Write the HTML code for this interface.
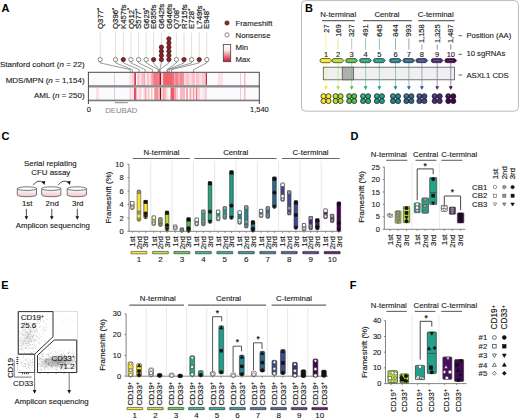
<!DOCTYPE html>
<html><head><meta charset="utf-8"><title>ASXL1 figure</title>
<style>
html,body{margin:0;padding:0;background:#fff;}
body{width:520px;height:420px;overflow:hidden;}
svg{display:block;}
svg text{font-family:"Liberation Sans", sans-serif;}
</style></head>
<body>
<svg width="520" height="420" viewBox="0 0 520 420" font-family="Liberation Sans, sans-serif">
<rect x="0" y="0" width="520" height="420" fill="#ffffff"/>
<text x="1.60" y="11.60" font-size="11" text-anchor="start" fill="#000" font-weight="bold" >A</text>
<line x1="100.20" y1="32.60" x2="100.20" y2="57.45" stroke="#c9c9c9" stroke-width="0.6" />
<line x1="115.60" y1="32.60" x2="115.60" y2="57.45" stroke="#c9c9c9" stroke-width="0.6" />
<line x1="123.30" y1="32.60" x2="123.30" y2="57.45" stroke="#c9c9c9" stroke-width="0.6" />
<line x1="130.90" y1="32.60" x2="130.90" y2="57.45" stroke="#c9c9c9" stroke-width="0.6" />
<line x1="138.60" y1="32.60" x2="138.60" y2="57.45" stroke="#c9c9c9" stroke-width="0.6" />
<line x1="146.10" y1="32.60" x2="146.10" y2="57.45" stroke="#c9c9c9" stroke-width="0.6" />
<line x1="153.60" y1="32.60" x2="153.60" y2="57.45" stroke="#c9c9c9" stroke-width="0.6" />
<line x1="161.40" y1="32.60" x2="161.40" y2="45.00" stroke="#c9c9c9" stroke-width="0.6" />
<line x1="168.90" y1="32.60" x2="168.90" y2="36.70" stroke="#c9c9c9" stroke-width="0.6" />
<line x1="176.40" y1="32.60" x2="176.40" y2="57.45" stroke="#c9c9c9" stroke-width="0.6" />
<line x1="184.00" y1="32.60" x2="184.00" y2="57.45" stroke="#c9c9c9" stroke-width="0.6" />
<line x1="191.60" y1="32.60" x2="191.60" y2="57.45" stroke="#c9c9c9" stroke-width="0.6" />
<line x1="199.20" y1="32.60" x2="199.20" y2="57.45" stroke="#c9c9c9" stroke-width="0.6" />
<line x1="206.80" y1="32.60" x2="206.80" y2="57.45" stroke="#c9c9c9" stroke-width="0.6" />
<path d="M100.20,61.75L100.20,62.95L130.24,69.60L130.24,72.30" fill="none" stroke="#555" stroke-width="0.6"/>
<path d="M115.60,61.75L115.60,62.95L132.35,69.60L132.35,72.30" fill="none" stroke="#555" stroke-width="0.6"/>
<path d="M123.30,61.75L123.30,62.95L139.12,69.60L139.12,72.30" fill="none" stroke="#555" stroke-width="0.6"/>
<path d="M130.90,61.75L130.90,62.95L145.22,69.60L145.22,72.30" fill="none" stroke="#555" stroke-width="0.6"/>
<path d="M138.60,61.75L138.60,62.95L152.43,69.60L152.43,72.30" fill="none" stroke="#555" stroke-width="0.6"/>
<path d="M146.10,61.75L146.10,62.95L158.20,69.60L158.20,72.30" fill="none" stroke="#555" stroke-width="0.6"/>
<path d="M153.60,61.75L153.60,62.95L158.87,69.60L158.87,72.30" fill="none" stroke="#555" stroke-width="0.6"/>
<path d="M161.40,61.75L161.40,62.95L159.65,69.60L159.65,72.30" fill="none" stroke="#555" stroke-width="0.6"/>
<path d="M168.90,61.75L168.90,62.95L160.09,69.60L160.09,72.30" fill="none" stroke="#555" stroke-width="0.6"/>
<path d="M176.40,61.75L176.40,62.95L166.97,69.60L166.97,72.30" fill="none" stroke="#555" stroke-width="0.6"/>
<path d="M184.00,61.75L184.00,62.95L167.75,69.60L167.75,72.30" fill="none" stroke="#555" stroke-width="0.6"/>
<path d="M191.60,61.75L191.60,62.95L169.19,69.60L169.19,72.30" fill="none" stroke="#555" stroke-width="0.6"/>
<path d="M199.20,61.75L199.20,62.95L171.52,69.60L171.52,72.30" fill="none" stroke="#555" stroke-width="0.6"/>
<path d="M206.80,61.75L206.80,62.95L193.60,69.60L193.60,72.30" fill="none" stroke="#555" stroke-width="0.6"/>
<text transform="translate(102.89,29.00) rotate(-90)" font-size="7.8" text-anchor="start" fill="#1a1a1a" stroke="#1a1a1a" stroke-width="0.2">Q377<tspan font-size="5.5" dy="-2.2">*</tspan></text>
<text transform="translate(118.29,29.00) rotate(-90)" font-size="7.8" text-anchor="start" fill="#1a1a1a" stroke="#1a1a1a" stroke-width="0.2">Q396<tspan font-size="5.5" dy="-2.2">*</tspan></text>
<text transform="translate(125.99,29.00) rotate(-90)" font-size="7.8" text-anchor="start" fill="#1a1a1a" stroke="#1a1a1a" stroke-width="0.2">K457fs</text>
<text transform="translate(133.59,29.00) rotate(-90)" font-size="7.8" text-anchor="start" fill="#1a1a1a" stroke="#1a1a1a" stroke-width="0.2">Q512<tspan font-size="5.5" dy="-2.2">*</tspan></text>
<text transform="translate(141.29,29.00) rotate(-90)" font-size="7.8" text-anchor="start" fill="#1a1a1a" stroke="#1a1a1a" stroke-width="0.2">S577<tspan font-size="5.5" dy="-2.2">*</tspan></text>
<text transform="translate(148.79,29.00) rotate(-90)" font-size="7.8" text-anchor="start" fill="#1a1a1a" stroke="#1a1a1a" stroke-width="0.2">G629<tspan font-size="5.5" dy="-2.2">*</tspan></text>
<text transform="translate(156.29,29.00) rotate(-90)" font-size="7.8" text-anchor="start" fill="#1a1a1a" stroke="#1a1a1a" stroke-width="0.2">E635fs</text>
<text transform="translate(164.09,29.00) rotate(-90)" font-size="7.8" text-anchor="start" fill="#1a1a1a" stroke="#1a1a1a" stroke-width="0.2">G642fs</text>
<text transform="translate(171.59,29.00) rotate(-90)" font-size="7.8" text-anchor="start" fill="#1a1a1a" stroke="#1a1a1a" stroke-width="0.2">G646fs</text>
<text transform="translate(179.09,29.00) rotate(-90)" font-size="7.8" text-anchor="start" fill="#1a1a1a" stroke="#1a1a1a" stroke-width="0.2">Q708<tspan font-size="5.5" dy="-2.2">*</tspan></text>
<text transform="translate(186.69,29.00) rotate(-90)" font-size="7.8" text-anchor="start" fill="#1a1a1a" stroke="#1a1a1a" stroke-width="0.2">R715fs</text>
<text transform="translate(194.29,29.00) rotate(-90)" font-size="7.8" text-anchor="start" fill="#1a1a1a" stroke="#1a1a1a" stroke-width="0.2">E728<tspan font-size="5.5" dy="-2.2">*</tspan></text>
<text transform="translate(201.89,29.00) rotate(-90)" font-size="7.8" text-anchor="start" fill="#1a1a1a" stroke="#1a1a1a" stroke-width="0.2">L749fs</text>
<text transform="translate(209.49,29.00) rotate(-90)" font-size="7.8" text-anchor="start" fill="#1a1a1a" stroke="#1a1a1a" stroke-width="0.2">E948<tspan font-size="5.5" dy="-2.2">*</tspan></text>
<circle cx="100.20" cy="59.60" r="2.15" fill="#ffffff" stroke="#555" stroke-width="0.7"/>
<circle cx="115.60" cy="59.60" r="2.15" fill="#ffffff" stroke="#555" stroke-width="0.7"/>
<circle cx="123.30" cy="59.60" r="2.15" fill="#8e2428" stroke="#3c0c0e" stroke-width="0.7"/>
<circle cx="130.90" cy="59.60" r="2.15" fill="#ffffff" stroke="#555" stroke-width="0.7"/>
<circle cx="138.60" cy="59.60" r="2.15" fill="#ffffff" stroke="#555" stroke-width="0.7"/>
<circle cx="146.10" cy="59.60" r="2.15" fill="#ffffff" stroke="#555" stroke-width="0.7"/>
<circle cx="153.60" cy="59.60" r="2.15" fill="#8e2428" stroke="#3c0c0e" stroke-width="0.7"/>
<circle cx="161.40" cy="59.60" r="2.15" fill="#8e2428" stroke="#3c0c0e" stroke-width="0.7"/>
<circle cx="161.40" cy="55.45" r="2.15" fill="#8e2428" stroke="#3c0c0e" stroke-width="0.7"/>
<circle cx="161.40" cy="51.30" r="2.15" fill="#8e2428" stroke="#3c0c0e" stroke-width="0.7"/>
<circle cx="161.40" cy="47.15" r="2.15" fill="#8e2428" stroke="#3c0c0e" stroke-width="0.7"/>
<circle cx="168.90" cy="59.60" r="2.15" fill="#8e2428" stroke="#3c0c0e" stroke-width="0.7"/>
<circle cx="168.90" cy="55.45" r="2.15" fill="#8e2428" stroke="#3c0c0e" stroke-width="0.7"/>
<circle cx="168.90" cy="51.30" r="2.15" fill="#8e2428" stroke="#3c0c0e" stroke-width="0.7"/>
<circle cx="168.90" cy="47.15" r="2.15" fill="#8e2428" stroke="#3c0c0e" stroke-width="0.7"/>
<circle cx="168.90" cy="43.00" r="2.15" fill="#8e2428" stroke="#3c0c0e" stroke-width="0.7"/>
<circle cx="168.90" cy="38.85" r="2.15" fill="#8e2428" stroke="#3c0c0e" stroke-width="0.7"/>
<circle cx="176.40" cy="59.60" r="2.15" fill="#ffffff" stroke="#555" stroke-width="0.7"/>
<circle cx="184.00" cy="59.60" r="2.15" fill="#8e2428" stroke="#3c0c0e" stroke-width="0.7"/>
<circle cx="191.60" cy="59.60" r="2.15" fill="#ffffff" stroke="#555" stroke-width="0.7"/>
<circle cx="199.20" cy="59.60" r="2.15" fill="#8e2428" stroke="#3c0c0e" stroke-width="0.7"/>
<circle cx="206.80" cy="59.60" r="2.15" fill="#ffffff" stroke="#555" stroke-width="0.7"/>
<rect x="88.40" y="72.30" width="170.90" height="28.10" fill="#fbfafd" stroke="none" stroke-width="1" rx="0" />
<rect x="114.00" y="72.80" width="0.90" height="12.40" fill="#cfcfdc" stroke="none" stroke-width="1" rx="0" />
<rect x="128.90" y="72.80" width="0.80" height="12.40" fill="#fde6ea" stroke="none" stroke-width="1" rx="0" />
<rect x="129.70" y="72.80" width="1.80" height="12.40" fill="#fce0e4" stroke="none" stroke-width="1" rx="0" />
<rect x="131.50" y="72.80" width="2.70" height="12.40" fill="#fad0d6" stroke="none" stroke-width="1" rx="0" />
<rect x="134.20" y="72.80" width="1.80" height="12.40" fill="#e0505e" stroke="none" stroke-width="1" rx="0" />
<rect x="134.90" y="72.80" width="0.60" height="12.40" fill="#b8303c" stroke="none" stroke-width="1" rx="0" />
<rect x="137.20" y="72.80" width="2.60" height="12.40" fill="#f9c0c8" stroke="none" stroke-width="1" rx="0" />
<rect x="139.80" y="72.80" width="1.50" height="12.40" fill="#fde4e8" stroke="none" stroke-width="1" rx="0" />
<rect x="141.30" y="72.80" width="2.50" height="12.40" fill="#f8b8c0" stroke="none" stroke-width="1" rx="0" />
<rect x="143.80" y="72.80" width="1.60" height="12.40" fill="#f5a8b2" stroke="none" stroke-width="1" rx="0" />
<rect x="145.40" y="72.80" width="1.60" height="12.40" fill="#fde8ec" stroke="none" stroke-width="1" rx="0" />
<rect x="147.00" y="72.80" width="2.00" height="12.40" fill="#f8c0c8" stroke="none" stroke-width="1" rx="0" />
<rect x="149.00" y="72.80" width="1.50" height="12.40" fill="#fde4e8" stroke="none" stroke-width="1" rx="0" />
<rect x="150.50" y="72.80" width="1.80" height="12.40" fill="#f7b0b8" stroke="none" stroke-width="1" rx="0" />
<rect x="152.30" y="72.80" width="1.70" height="12.40" fill="#f28890" stroke="none" stroke-width="1" rx="0" />
<rect x="154.00" y="72.80" width="4.50" height="12.40" fill="#f07880" stroke="none" stroke-width="1" rx="0" />
<rect x="158.50" y="72.80" width="1.50" height="12.40" fill="#e85a66" stroke="none" stroke-width="1" rx="0" />
<rect x="160.00" y="72.80" width="1.20" height="12.40" fill="#8a1a20" stroke="none" stroke-width="1" rx="0" />
<rect x="161.20" y="72.80" width="1.60" height="12.40" fill="#fcd0d6" stroke="none" stroke-width="1" rx="0" />
<rect x="162.80" y="72.80" width="1.20" height="12.40" fill="#f07a82" stroke="none" stroke-width="1" rx="0" />
<rect x="164.00" y="72.80" width="8.00" height="12.40" fill="#f2606a" stroke="none" stroke-width="1" rx="0" />
<rect x="172.00" y="72.80" width="2.50" height="12.40" fill="#f07078" stroke="none" stroke-width="1" rx="0" />
<rect x="174.50" y="72.80" width="1.50" height="12.40" fill="#f48a92" stroke="none" stroke-width="1" rx="0" />
<rect x="176.00" y="72.80" width="2.00" height="12.40" fill="#f28088" stroke="none" stroke-width="1" rx="0" />
<rect x="178.00" y="72.80" width="2.00" height="12.40" fill="#f5a0a8" stroke="none" stroke-width="1" rx="0" />
<rect x="180.00" y="72.80" width="2.00" height="12.40" fill="#f48890" stroke="none" stroke-width="1" rx="0" />
<rect x="182.00" y="72.80" width="2.00" height="12.40" fill="#f4909a" stroke="none" stroke-width="1" rx="0" />
<rect x="184.00" y="72.80" width="2.00" height="12.40" fill="#fcd8dc" stroke="none" stroke-width="1" rx="0" />
<rect x="186.00" y="72.80" width="3.00" height="12.40" fill="#fac4ca" stroke="none" stroke-width="1" rx="0" />
<rect x="189.00" y="72.80" width="2.50" height="12.40" fill="#fcd8dc" stroke="none" stroke-width="1" rx="0" />
<rect x="191.50" y="72.80" width="3.50" height="12.40" fill="#f9c0c8" stroke="none" stroke-width="1" rx="0" />
<rect x="195.00" y="72.80" width="1.00" height="12.40" fill="#fde8ea" stroke="none" stroke-width="1" rx="0" />
<rect x="196.00" y="72.80" width="3.50" height="12.40" fill="#f8c4ca" stroke="none" stroke-width="1" rx="0" />
<rect x="199.50" y="72.80" width="2.50" height="12.40" fill="#fcdce0" stroke="none" stroke-width="1" rx="0" />
<rect x="202.00" y="72.80" width="3.80" height="12.40" fill="#f9c6cc" stroke="none" stroke-width="1" rx="0" />
<rect x="205.80" y="72.80" width="1.20" height="12.40" fill="#b03040" stroke="none" stroke-width="1" rx="0" />
<rect x="218.00" y="72.80" width="5.00" height="12.40" fill="#fbe4e8" stroke="none" stroke-width="1" rx="0" />
<rect x="240.00" y="72.80" width="1.00" height="12.40" fill="#f3c8d0" stroke="none" stroke-width="1" rx="0" />
<rect x="244.00" y="72.80" width="1.50" height="12.40" fill="#f0c0c8" stroke="none" stroke-width="1" rx="0" />
<rect x="96.00" y="87.40" width="3.00" height="12.60" fill="#fbe2e6" stroke="none" stroke-width="1" rx="0" />
<rect x="114.00" y="87.40" width="0.90" height="12.60" fill="#cfcfdc" stroke="none" stroke-width="1" rx="0" />
<rect x="129.00" y="87.40" width="1.00" height="12.60" fill="#fdeaec" stroke="none" stroke-width="1" rx="0" />
<rect x="130.00" y="87.40" width="1.30" height="12.60" fill="#fbd4da" stroke="none" stroke-width="1" rx="0" />
<rect x="131.30" y="87.40" width="2.70" height="12.60" fill="#fde8ec" stroke="none" stroke-width="1" rx="0" />
<rect x="134.00" y="87.40" width="2.40" height="12.60" fill="#e8505e" stroke="none" stroke-width="1" rx="0" />
<rect x="137.50" y="87.40" width="2.00" height="12.60" fill="#fde4e8" stroke="none" stroke-width="1" rx="0" />
<rect x="139.50" y="87.40" width="2.00" height="12.60" fill="#fbd0d6" stroke="none" stroke-width="1" rx="0" />
<rect x="143.50" y="87.40" width="2.00" height="12.60" fill="#fad0d6" stroke="none" stroke-width="1" rx="0" />
<rect x="145.50" y="87.40" width="1.00" height="12.60" fill="#ee7a84" stroke="none" stroke-width="1" rx="0" />
<rect x="146.50" y="87.40" width="1.50" height="12.60" fill="#fde8ec" stroke="none" stroke-width="1" rx="0" />
<rect x="148.00" y="87.40" width="1.50" height="12.60" fill="#f9c4ca" stroke="none" stroke-width="1" rx="0" />
<rect x="151.00" y="87.40" width="1.50" height="12.60" fill="#f8c0c8" stroke="none" stroke-width="1" rx="0" />
<rect x="154.00" y="87.40" width="1.00" height="12.60" fill="#f8a8b0" stroke="none" stroke-width="1" rx="0" />
<rect x="155.00" y="87.40" width="3.50" height="12.60" fill="#f39098" stroke="none" stroke-width="1" rx="0" />
<rect x="158.50" y="87.40" width="1.50" height="12.60" fill="#f6a8b0" stroke="none" stroke-width="1" rx="0" />
<rect x="160.00" y="87.40" width="1.20" height="12.60" fill="#701018" stroke="none" stroke-width="1" rx="0" />
<rect x="161.20" y="87.40" width="1.80" height="12.60" fill="#fcd4da" stroke="none" stroke-width="1" rx="0" />
<rect x="163.00" y="87.40" width="1.50" height="12.60" fill="#f49aa2" stroke="none" stroke-width="1" rx="0" />
<rect x="164.50" y="87.40" width="2.00" height="12.60" fill="#f6b0b8" stroke="none" stroke-width="1" rx="0" />
<rect x="166.50" y="87.40" width="1.70" height="12.60" fill="#fde0e4" stroke="none" stroke-width="1" rx="0" />
<rect x="170.50" y="87.40" width="4.00" height="12.60" fill="#f05868" stroke="none" stroke-width="1" rx="0" />
<rect x="174.50" y="87.40" width="2.00" height="12.60" fill="#f49aa2" stroke="none" stroke-width="1" rx="0" />
<rect x="176.50" y="87.40" width="1.50" height="12.60" fill="#fbd0d6" stroke="none" stroke-width="1" rx="0" />
<rect x="180.00" y="87.40" width="2.00" height="12.60" fill="#f8b8c0" stroke="none" stroke-width="1" rx="0" />
<rect x="182.00" y="87.40" width="3.00" height="12.60" fill="#f8b8c0" stroke="none" stroke-width="1" rx="0" />
<rect x="186.00" y="87.40" width="2.00" height="12.60" fill="#f5a8b0" stroke="none" stroke-width="1" rx="0" />
<rect x="189.50" y="87.40" width="2.00" height="12.60" fill="#f6aab2" stroke="none" stroke-width="1" rx="0" />
<rect x="191.50" y="87.40" width="1.50" height="12.60" fill="#fde4e8" stroke="none" stroke-width="1" rx="0" />
<rect x="193.00" y="87.40" width="1.50" height="12.60" fill="#f49aa2" stroke="none" stroke-width="1" rx="0" />
<rect x="194.50" y="87.40" width="1.50" height="12.60" fill="#fde4e8" stroke="none" stroke-width="1" rx="0" />
<rect x="196.00" y="87.40" width="1.50" height="12.60" fill="#f07a84" stroke="none" stroke-width="1" rx="0" />
<rect x="197.50" y="87.40" width="2.50" height="12.60" fill="#fcd4d8" stroke="none" stroke-width="1" rx="0" />
<rect x="200.00" y="87.40" width="3.00" height="12.60" fill="#fdf0f2" stroke="none" stroke-width="1" rx="0" />
<rect x="203.00" y="87.40" width="2.00" height="12.60" fill="#f8e0ec" stroke="none" stroke-width="1" rx="0" />
<rect x="205.00" y="87.40" width="2.00" height="12.60" fill="#f4d0e0" stroke="none" stroke-width="1" rx="0" />
<rect x="240.00" y="87.40" width="1.00" height="12.60" fill="#f3c8d0" stroke="none" stroke-width="1" rx="0" />
<rect x="244.00" y="87.40" width="1.50" height="12.60" fill="#f0c0c8" stroke="none" stroke-width="1" rx="0" />
<rect x="88.40" y="85.10" width="170.90" height="2.40" fill="#8c8c8c" stroke="none" stroke-width="1" rx="0" />
<rect x="88.40" y="72.30" width="170.90" height="28.10" fill="none" stroke="#4a4a4a" stroke-width="1.0" rx="0" />
<line x1="88.40" y1="100.50" x2="259.30" y2="100.50" stroke="#7a7a7a" stroke-width="1.4" />
<line x1="88.40" y1="100.40" x2="88.40" y2="104.00" stroke="#333" stroke-width="0.9" />
<line x1="259.30" y1="100.40" x2="259.30" y2="104.00" stroke="#333" stroke-width="0.9" />
<line x1="114.60" y1="102.60" x2="127.80" y2="102.60" stroke="#a0a0a0" stroke-width="1.3" />
<text x="84.60" y="67.10" font-size="8" text-anchor="end" fill="#1a1a1a" stroke="#1a1a1a" stroke-width="0.12" >Stanford cohort (<tspan font-style="italic">n</tspan> = 22)</text>
<text x="84.60" y="82.70" font-size="8" text-anchor="end" fill="#1a1a1a" stroke="#1a1a1a" stroke-width="0.12" >MDS/MPN (<tspan font-style="italic">n</tspan> = 1,154)</text>
<text x="84.60" y="97.60" font-size="8" text-anchor="end" fill="#1a1a1a" stroke="#1a1a1a" stroke-width="0.12" >AML (<tspan font-style="italic">n</tspan> = 250)</text>
<text x="88.90" y="112.40" font-size="7.5" text-anchor="middle" fill="#1a1a1a" stroke="#1a1a1a" stroke-width="0.12" >0</text>
<text x="105.30" y="112.50" font-size="7.7" text-anchor="start" fill="#8a8a8a" stroke="#8a8a8a" stroke-width="0.05" >DEUBAD</text>
<text x="259.40" y="112.40" font-size="7.5" text-anchor="middle" fill="#1a1a1a" stroke="#1a1a1a" stroke-width="0.12" >1,540</text>
<circle cx="227.00" cy="23.00" r="2.10" fill="#8e2428" stroke="#3c0c0e" stroke-width="0.7"/>
<text x="235.50" y="25.90" font-size="7.8" text-anchor="start" fill="#1a1a1a" stroke="#1a1a1a" stroke-width="0.12" >Frameshift</text>
<circle cx="227.00" cy="34.90" r="2.10" fill="#fff" stroke="#555" stroke-width="0.7"/>
<text x="235.50" y="37.60" font-size="7.8" text-anchor="start" fill="#1a1a1a" stroke="#1a1a1a" stroke-width="0.12" >Nonsense</text>
<defs><linearGradient id="mm" x1="0" y1="0" x2="0" y2="1"><stop offset="0" stop-color="#ffffff"/><stop offset="0.35" stop-color="#fbe3e6"/><stop offset="1" stop-color="#d0102c"/></linearGradient></defs>
<rect x="223.30" y="44.50" width="7.40" height="17.20" fill="url(#mm)" stroke="#444" stroke-width="0.8" rx="0" />
<text x="235.50" y="50.40" font-size="7.8" text-anchor="start" fill="#1a1a1a" stroke="#1a1a1a" stroke-width="0.12" >Min</text>
<text x="235.50" y="61.80" font-size="7.8" text-anchor="start" fill="#1a1a1a" stroke="#1a1a1a" stroke-width="0.12" >Max</text>
<rect x="301.50" y="0.60" width="216.90" height="110.60" fill="none" stroke="#b4b4b4" stroke-width="0.9" rx="4" />
<text x="305.00" y="11.90" font-size="11" text-anchor="start" fill="#000" font-weight="bold" >B</text>
<text x="320.20" y="16.50" font-size="7.8" text-anchor="start" fill="#1a1a1a" stroke="#1a1a1a" stroke-width="0.12" >N-terminal</text>
<text x="374.40" y="16.50" font-size="7.8" text-anchor="start" fill="#1a1a1a" stroke="#1a1a1a" stroke-width="0.12" >Central</text>
<text x="417.70" y="16.50" font-size="7.8" text-anchor="start" fill="#1a1a1a" stroke="#1a1a1a" stroke-width="0.12" >C-terminal</text>
<line x1="322.00" y1="20.60" x2="354.80" y2="20.60" stroke="#666" stroke-width="1.2" />
<line x1="362.90" y1="20.60" x2="411.90" y2="20.60" stroke="#666" stroke-width="1.2" />
<line x1="418.30" y1="20.60" x2="454.60" y2="20.60" stroke="#666" stroke-width="1.2" />
<line x1="326.00" y1="34.14" x2="326.00" y2="49.60" stroke="#FDE725" stroke-width="0.8" stroke-opacity="0.7"/>
<line x1="326.00" y1="62.60" x2="326.00" y2="87.00" stroke="#FDE725" stroke-width="0.8" stroke-opacity="0.6"/>
<line x1="338.10" y1="38.31" x2="338.10" y2="49.60" stroke="#B4DE2C" stroke-width="0.8" stroke-opacity="0.7"/>
<line x1="338.10" y1="62.60" x2="338.10" y2="87.00" stroke="#B4DE2C" stroke-width="0.8" stroke-opacity="0.6"/>
<line x1="351.70" y1="38.31" x2="351.70" y2="49.60" stroke="#58BE4C" stroke-width="0.8" stroke-opacity="0.7"/>
<line x1="351.70" y1="62.60" x2="351.70" y2="87.00" stroke="#58BE4C" stroke-width="0.8" stroke-opacity="0.6"/>
<line x1="365.60" y1="38.31" x2="365.60" y2="49.60" stroke="#2CA67A" stroke-width="0.8" stroke-opacity="0.7"/>
<line x1="365.60" y1="62.60" x2="365.60" y2="87.00" stroke="#2CA67A" stroke-width="0.8" stroke-opacity="0.6"/>
<line x1="379.40" y1="38.31" x2="379.40" y2="49.60" stroke="#1F9E89" stroke-width="0.8" stroke-opacity="0.7"/>
<line x1="379.40" y1="62.60" x2="379.40" y2="87.00" stroke="#1F9E89" stroke-width="0.8" stroke-opacity="0.6"/>
<line x1="395.50" y1="38.31" x2="395.50" y2="49.60" stroke="#26828E" stroke-width="0.8" stroke-opacity="0.7"/>
<line x1="395.50" y1="62.60" x2="395.50" y2="87.00" stroke="#26828E" stroke-width="0.8" stroke-opacity="0.6"/>
<line x1="408.90" y1="38.31" x2="408.90" y2="49.60" stroke="#31688E" stroke-width="0.8" stroke-opacity="0.7"/>
<line x1="408.90" y1="62.60" x2="408.90" y2="87.00" stroke="#31688E" stroke-width="0.8" stroke-opacity="0.6"/>
<line x1="421.90" y1="44.56" x2="421.90" y2="49.60" stroke="#3E4A89" stroke-width="0.8" stroke-opacity="0.7"/>
<line x1="421.90" y1="62.60" x2="421.90" y2="87.00" stroke="#3E4A89" stroke-width="0.8" stroke-opacity="0.6"/>
<line x1="437.20" y1="44.56" x2="437.20" y2="49.60" stroke="#482878" stroke-width="0.8" stroke-opacity="0.7"/>
<line x1="437.20" y1="62.60" x2="437.20" y2="87.00" stroke="#482878" stroke-width="0.8" stroke-opacity="0.6"/>
<line x1="450.80" y1="44.56" x2="450.80" y2="49.60" stroke="#440154" stroke-width="0.8" stroke-opacity="0.7"/>
<line x1="450.80" y1="62.60" x2="450.80" y2="87.00" stroke="#440154" stroke-width="0.8" stroke-opacity="0.6"/>
<rect x="323.30" y="67.20" width="131.10" height="12.60" fill="#f0f0f0" stroke="#555" stroke-width="0.8" rx="0" />
<rect x="342.30" y="67.20" width="11.30" height="12.60" fill="#b0b0b0" stroke="#555" stroke-width="0.8" rx="0" />
<line x1="326.00" y1="67.60" x2="326.00" y2="79.40" stroke="#FDE725" stroke-width="0.8" stroke-opacity="0.55"/>
<text transform="translate(328.59,24.30) rotate(-90)" font-size="7.5" text-anchor="end" fill="#1a1a1a" stroke="#1a1a1a" stroke-width="0.15">27</text>
<text x="326.00" y="56.60" font-size="7.5" text-anchor="middle" fill="#1a1a1a" stroke="#1a1a1a" stroke-width="0.12" >1</text>
<path d="M322.10,58.5L329.90,58.5L331.90,60.60L329.90,62.7L322.10,62.7A2.1,2.1 0 0 1 322.10,58.5Z" fill="#FDE725" stroke="#2a2a2a" stroke-opacity="0.85" stroke-width="0.8"/>
<line x1="322.60" y1="60.60" x2="328.90" y2="60.60" stroke="#ffffff" stroke-width="0.7" stroke-opacity="0.45" stroke-dasharray="1,0.6"/>
<path d="M324.10,86.3L327.90,86.3L326.00,89.9Z" fill="#FDE725"/>
<circle cx="323.50" cy="96.20" r="2.55" fill="#FDE725" stroke="#1a1a1a" stroke-width="0.75"/>
<circle cx="328.50" cy="96.20" r="2.55" fill="#FDE725" stroke="#1a1a1a" stroke-width="0.75"/>
<circle cx="323.50" cy="101.00" r="2.55" fill="#FDE725" stroke="#1a1a1a" stroke-width="0.75"/>
<circle cx="328.50" cy="101.00" r="2.55" fill="#FDE725" stroke="#1a1a1a" stroke-width="0.75"/>
<circle cx="323.50" cy="95.60" r="0.9" fill="#fff" fill-opacity="0.25"/>
<line x1="338.10" y1="67.60" x2="338.10" y2="79.40" stroke="#B4DE2C" stroke-width="0.8" stroke-opacity="0.55"/>
<text transform="translate(340.69,24.30) rotate(-90)" font-size="7.5" text-anchor="end" fill="#1a1a1a" stroke="#1a1a1a" stroke-width="0.15">169</text>
<text x="338.10" y="56.60" font-size="7.5" text-anchor="middle" fill="#1a1a1a" stroke="#1a1a1a" stroke-width="0.12" >2</text>
<path d="M334.20,58.5L342.00,58.5L344.00,60.60L342.00,62.7L334.20,62.7A2.1,2.1 0 0 1 334.20,58.5Z" fill="#B4DE2C" stroke="#2a2a2a" stroke-opacity="0.85" stroke-width="0.8"/>
<line x1="334.70" y1="60.60" x2="341.00" y2="60.60" stroke="#ffffff" stroke-width="0.7" stroke-opacity="0.45" stroke-dasharray="1,0.6"/>
<path d="M336.20,86.3L340.00,86.3L338.10,89.9Z" fill="#B4DE2C"/>
<circle cx="335.60" cy="96.20" r="2.55" fill="#B4DE2C" stroke="#1a1a1a" stroke-width="0.75"/>
<circle cx="340.60" cy="96.20" r="2.55" fill="#B4DE2C" stroke="#1a1a1a" stroke-width="0.75"/>
<circle cx="335.60" cy="101.00" r="2.55" fill="#B4DE2C" stroke="#1a1a1a" stroke-width="0.75"/>
<circle cx="340.60" cy="101.00" r="2.55" fill="#B4DE2C" stroke="#1a1a1a" stroke-width="0.75"/>
<circle cx="335.60" cy="95.60" r="0.9" fill="#fff" fill-opacity="0.25"/>
<line x1="351.70" y1="67.60" x2="351.70" y2="79.40" stroke="#58BE4C" stroke-width="0.8" stroke-opacity="0.55"/>
<text transform="translate(354.29,24.30) rotate(-90)" font-size="7.5" text-anchor="end" fill="#1a1a1a" stroke="#1a1a1a" stroke-width="0.15">327</text>
<text x="351.70" y="56.60" font-size="7.5" text-anchor="middle" fill="#1a1a1a" stroke="#1a1a1a" stroke-width="0.12" >3</text>
<path d="M347.80,58.5L355.60,58.5L357.60,60.60L355.60,62.7L347.80,62.7A2.1,2.1 0 0 1 347.80,58.5Z" fill="#58BE4C" stroke="#2a2a2a" stroke-opacity="0.85" stroke-width="0.8"/>
<line x1="348.30" y1="60.60" x2="354.60" y2="60.60" stroke="#ffffff" stroke-width="0.7" stroke-opacity="0.45" stroke-dasharray="1,0.6"/>
<path d="M349.80,86.3L353.60,86.3L351.70,89.9Z" fill="#58BE4C"/>
<circle cx="349.20" cy="96.20" r="2.55" fill="#58BE4C" stroke="#1a1a1a" stroke-width="0.75"/>
<circle cx="354.20" cy="96.20" r="2.55" fill="#58BE4C" stroke="#1a1a1a" stroke-width="0.75"/>
<circle cx="349.20" cy="101.00" r="2.55" fill="#58BE4C" stroke="#1a1a1a" stroke-width="0.75"/>
<circle cx="354.20" cy="101.00" r="2.55" fill="#58BE4C" stroke="#1a1a1a" stroke-width="0.75"/>
<circle cx="349.20" cy="95.60" r="0.9" fill="#fff" fill-opacity="0.25"/>
<line x1="365.60" y1="67.60" x2="365.60" y2="79.40" stroke="#2CA67A" stroke-width="0.8" stroke-opacity="0.55"/>
<text transform="translate(368.19,24.30) rotate(-90)" font-size="7.5" text-anchor="end" fill="#1a1a1a" stroke="#1a1a1a" stroke-width="0.15">491</text>
<text x="365.60" y="56.60" font-size="7.5" text-anchor="middle" fill="#1a1a1a" stroke="#1a1a1a" stroke-width="0.12" >4</text>
<path d="M361.70,58.5L369.50,58.5L371.50,60.60L369.50,62.7L361.70,62.7A2.1,2.1 0 0 1 361.70,58.5Z" fill="#2CA67A" stroke="#2a2a2a" stroke-opacity="0.85" stroke-width="0.8"/>
<line x1="362.20" y1="60.60" x2="368.50" y2="60.60" stroke="#ffffff" stroke-width="0.7" stroke-opacity="0.45" stroke-dasharray="1,0.6"/>
<path d="M363.70,86.3L367.50,86.3L365.60,89.9Z" fill="#2CA67A"/>
<circle cx="363.10" cy="96.20" r="2.55" fill="#2CA67A" stroke="#1a1a1a" stroke-width="0.75"/>
<circle cx="368.10" cy="96.20" r="2.55" fill="#2CA67A" stroke="#1a1a1a" stroke-width="0.75"/>
<circle cx="363.10" cy="101.00" r="2.55" fill="#2CA67A" stroke="#1a1a1a" stroke-width="0.75"/>
<circle cx="368.10" cy="101.00" r="2.55" fill="#2CA67A" stroke="#1a1a1a" stroke-width="0.75"/>
<circle cx="363.10" cy="95.60" r="0.9" fill="#fff" fill-opacity="0.25"/>
<line x1="379.40" y1="67.60" x2="379.40" y2="79.40" stroke="#1F9E89" stroke-width="0.8" stroke-opacity="0.55"/>
<text transform="translate(381.99,24.30) rotate(-90)" font-size="7.5" text-anchor="end" fill="#1a1a1a" stroke="#1a1a1a" stroke-width="0.15">645</text>
<text x="379.40" y="56.60" font-size="7.5" text-anchor="middle" fill="#1a1a1a" stroke="#1a1a1a" stroke-width="0.12" >5</text>
<path d="M375.50,58.5L383.30,58.5L385.30,60.60L383.30,62.7L375.50,62.7A2.1,2.1 0 0 1 375.50,58.5Z" fill="#1F9E89" stroke="#2a2a2a" stroke-opacity="0.85" stroke-width="0.8"/>
<line x1="376.00" y1="60.60" x2="382.30" y2="60.60" stroke="#ffffff" stroke-width="0.7" stroke-opacity="0.45" stroke-dasharray="1,0.6"/>
<path d="M377.50,86.3L381.30,86.3L379.40,89.9Z" fill="#1F9E89"/>
<circle cx="376.90" cy="96.20" r="2.55" fill="#1F9E89" stroke="#1a1a1a" stroke-width="0.75"/>
<circle cx="381.90" cy="96.20" r="2.55" fill="#1F9E89" stroke="#1a1a1a" stroke-width="0.75"/>
<circle cx="376.90" cy="101.00" r="2.55" fill="#1F9E89" stroke="#1a1a1a" stroke-width="0.75"/>
<circle cx="381.90" cy="101.00" r="2.55" fill="#1F9E89" stroke="#1a1a1a" stroke-width="0.75"/>
<circle cx="376.90" cy="95.60" r="0.9" fill="#fff" fill-opacity="0.25"/>
<line x1="395.50" y1="67.60" x2="395.50" y2="79.40" stroke="#26828E" stroke-width="0.8" stroke-opacity="0.55"/>
<text transform="translate(398.09,24.30) rotate(-90)" font-size="7.5" text-anchor="end" fill="#1a1a1a" stroke="#1a1a1a" stroke-width="0.15">844</text>
<text x="395.50" y="56.60" font-size="7.5" text-anchor="middle" fill="#1a1a1a" stroke="#1a1a1a" stroke-width="0.12" >6</text>
<path d="M391.60,58.5L399.40,58.5L401.40,60.60L399.40,62.7L391.60,62.7A2.1,2.1 0 0 1 391.60,58.5Z" fill="#26828E" stroke="#2a2a2a" stroke-opacity="0.85" stroke-width="0.8"/>
<line x1="392.10" y1="60.60" x2="398.40" y2="60.60" stroke="#ffffff" stroke-width="0.7" stroke-opacity="0.45" stroke-dasharray="1,0.6"/>
<path d="M393.60,86.3L397.40,86.3L395.50,89.9Z" fill="#26828E"/>
<circle cx="393.00" cy="96.20" r="2.55" fill="#26828E" stroke="#1a1a1a" stroke-width="0.75"/>
<circle cx="398.00" cy="96.20" r="2.55" fill="#26828E" stroke="#1a1a1a" stroke-width="0.75"/>
<circle cx="393.00" cy="101.00" r="2.55" fill="#26828E" stroke="#1a1a1a" stroke-width="0.75"/>
<circle cx="398.00" cy="101.00" r="2.55" fill="#26828E" stroke="#1a1a1a" stroke-width="0.75"/>
<circle cx="393.00" cy="95.60" r="0.9" fill="#fff" fill-opacity="0.25"/>
<line x1="408.90" y1="67.60" x2="408.90" y2="79.40" stroke="#31688E" stroke-width="0.8" stroke-opacity="0.55"/>
<text transform="translate(411.49,24.30) rotate(-90)" font-size="7.5" text-anchor="end" fill="#1a1a1a" stroke="#1a1a1a" stroke-width="0.15">993</text>
<text x="408.90" y="56.60" font-size="7.5" text-anchor="middle" fill="#1a1a1a" stroke="#1a1a1a" stroke-width="0.12" >7</text>
<path d="M405.00,58.5L412.80,58.5L414.80,60.60L412.80,62.7L405.00,62.7A2.1,2.1 0 0 1 405.00,58.5Z" fill="#31688E" stroke="#2a2a2a" stroke-opacity="0.85" stroke-width="0.8"/>
<line x1="405.50" y1="60.60" x2="411.80" y2="60.60" stroke="#ffffff" stroke-width="0.7" stroke-opacity="0.45" stroke-dasharray="1,0.6"/>
<path d="M407.00,86.3L410.80,86.3L408.90,89.9Z" fill="#31688E"/>
<circle cx="406.40" cy="96.20" r="2.55" fill="#31688E" stroke="#1a1a1a" stroke-width="0.75"/>
<circle cx="411.40" cy="96.20" r="2.55" fill="#31688E" stroke="#1a1a1a" stroke-width="0.75"/>
<circle cx="406.40" cy="101.00" r="2.55" fill="#31688E" stroke="#1a1a1a" stroke-width="0.75"/>
<circle cx="411.40" cy="101.00" r="2.55" fill="#31688E" stroke="#1a1a1a" stroke-width="0.75"/>
<circle cx="406.40" cy="95.60" r="0.9" fill="#fff" fill-opacity="0.25"/>
<line x1="421.90" y1="67.60" x2="421.90" y2="79.40" stroke="#3E4A89" stroke-width="0.8" stroke-opacity="0.55"/>
<text transform="translate(424.49,24.30) rotate(-90)" font-size="7.5" text-anchor="end" fill="#1a1a1a" stroke="#1a1a1a" stroke-width="0.15">1,158</text>
<text x="421.90" y="56.60" font-size="7.5" text-anchor="middle" fill="#1a1a1a" stroke="#1a1a1a" stroke-width="0.12" >8</text>
<path d="M418.00,58.5L425.80,58.5L427.80,60.60L425.80,62.7L418.00,62.7A2.1,2.1 0 0 1 418.00,58.5Z" fill="#3E4A89" stroke="#2a2a2a" stroke-opacity="0.85" stroke-width="0.8"/>
<line x1="418.50" y1="60.60" x2="424.80" y2="60.60" stroke="#ffffff" stroke-width="0.7" stroke-opacity="0.45" stroke-dasharray="1,0.6"/>
<path d="M420.00,86.3L423.80,86.3L421.90,89.9Z" fill="#3E4A89"/>
<circle cx="419.40" cy="96.20" r="2.55" fill="#3E4A89" stroke="#1a1a1a" stroke-width="0.75"/>
<circle cx="424.40" cy="96.20" r="2.55" fill="#3E4A89" stroke="#1a1a1a" stroke-width="0.75"/>
<circle cx="419.40" cy="101.00" r="2.55" fill="#3E4A89" stroke="#1a1a1a" stroke-width="0.75"/>
<circle cx="424.40" cy="101.00" r="2.55" fill="#3E4A89" stroke="#1a1a1a" stroke-width="0.75"/>
<circle cx="419.40" cy="95.60" r="0.9" fill="#fff" fill-opacity="0.25"/>
<line x1="437.20" y1="67.60" x2="437.20" y2="79.40" stroke="#482878" stroke-width="0.8" stroke-opacity="0.55"/>
<text transform="translate(439.79,24.30) rotate(-90)" font-size="7.5" text-anchor="end" fill="#1a1a1a" stroke="#1a1a1a" stroke-width="0.15">1,325</text>
<text x="437.20" y="56.60" font-size="7.5" text-anchor="middle" fill="#1a1a1a" stroke="#1a1a1a" stroke-width="0.12" >9</text>
<path d="M433.30,58.5L441.10,58.5L443.10,60.60L441.10,62.7L433.30,62.7A2.1,2.1 0 0 1 433.30,58.5Z" fill="#482878" stroke="#2a2a2a" stroke-opacity="0.85" stroke-width="0.8"/>
<line x1="433.80" y1="60.60" x2="440.10" y2="60.60" stroke="#ffffff" stroke-width="0.7" stroke-opacity="0.45" stroke-dasharray="1,0.6"/>
<path d="M435.30,86.3L439.10,86.3L437.20,89.9Z" fill="#482878"/>
<circle cx="434.70" cy="96.20" r="2.55" fill="#482878" stroke="#1a1a1a" stroke-width="0.75"/>
<circle cx="439.70" cy="96.20" r="2.55" fill="#482878" stroke="#1a1a1a" stroke-width="0.75"/>
<circle cx="434.70" cy="101.00" r="2.55" fill="#482878" stroke="#1a1a1a" stroke-width="0.75"/>
<circle cx="439.70" cy="101.00" r="2.55" fill="#482878" stroke="#1a1a1a" stroke-width="0.75"/>
<circle cx="434.70" cy="95.60" r="0.9" fill="#fff" fill-opacity="0.25"/>
<line x1="450.80" y1="67.60" x2="450.80" y2="79.40" stroke="#440154" stroke-width="0.8" stroke-opacity="0.55"/>
<text transform="translate(453.39,24.30) rotate(-90)" font-size="7.5" text-anchor="end" fill="#1a1a1a" stroke="#1a1a1a" stroke-width="0.15">1,487</text>
<text x="450.80" y="56.60" font-size="7.5" text-anchor="middle" fill="#1a1a1a" stroke="#1a1a1a" stroke-width="0.12" >10</text>
<path d="M446.90,58.5L454.70,58.5L456.70,60.60L454.70,62.7L446.90,62.7A2.1,2.1 0 0 1 446.90,58.5Z" fill="#440154" stroke="#2a2a2a" stroke-opacity="0.85" stroke-width="0.8"/>
<line x1="447.40" y1="60.60" x2="453.70" y2="60.60" stroke="#ffffff" stroke-width="0.7" stroke-opacity="0.45" stroke-dasharray="1,0.6"/>
<path d="M448.90,86.3L452.70,86.3L450.80,89.9Z" fill="#440154"/>
<circle cx="448.30" cy="96.20" r="2.55" fill="#440154" stroke="#1a1a1a" stroke-width="0.75"/>
<circle cx="453.30" cy="96.20" r="2.55" fill="#440154" stroke="#1a1a1a" stroke-width="0.75"/>
<circle cx="448.30" cy="101.00" r="2.55" fill="#440154" stroke="#1a1a1a" stroke-width="0.75"/>
<circle cx="453.30" cy="101.00" r="2.55" fill="#440154" stroke="#1a1a1a" stroke-width="0.75"/>
<circle cx="448.30" cy="95.60" r="0.9" fill="#fff" fill-opacity="0.25"/>
<line x1="458.60" y1="35.70" x2="462.10" y2="35.70" stroke="#333" stroke-width="0.8" />
<text x="466.40" y="38.10" font-size="7.7" text-anchor="start" fill="#1a1a1a" stroke="#1a1a1a" stroke-width="0.12" >Position (AA)</text>
<line x1="458.60" y1="54.30" x2="462.10" y2="54.30" stroke="#333" stroke-width="0.8" />
<text x="466.40" y="55.90" font-size="7.7" text-anchor="start" fill="#1a1a1a" stroke="#1a1a1a" stroke-width="0.12" >10 sgRNAs</text>
<line x1="458.60" y1="75.00" x2="462.10" y2="75.00" stroke="#333" stroke-width="0.8" />
<text x="466.40" y="77.60" font-size="7.7" text-anchor="start" fill="#1a1a1a" stroke="#1a1a1a" stroke-width="0.12" >ASXL1 CDS</text>
<text x="1.60" y="140.20" font-size="11" text-anchor="start" fill="#000" font-weight="bold" >C</text>
<text x="50.40" y="165.70" font-size="7.9" text-anchor="middle" fill="#1a1a1a" stroke="#1a1a1a" stroke-width="0.12" >Serial replating</text>
<text x="50.80" y="174.50" font-size="7.9" text-anchor="middle" fill="#1a1a1a" stroke="#1a1a1a" stroke-width="0.12" >CFU assay</text>
<defs><linearGradient id="dish" x1="0" y1="0" x2="0" y2="1"><stop offset="0" stop-color="#ffffff"/><stop offset="0.3" stop-color="#fbeef0"/><stop offset="1" stop-color="#f1c6cc"/></linearGradient></defs>
<path d="M17.30,188.6L17.30,195.0A9.6,1.7 0 0 0 36.50,195.0L36.50,188.6Z" fill="url(#dish)" stroke="#555" stroke-width="0.8"/>
<ellipse cx="26.9" cy="188.6" rx="9.6" ry="1.8" fill="#fff" stroke="#555" stroke-width="0.8"/>
<path d="M41.70,188.6L41.70,195.0A9.6,1.7 0 0 0 60.90,195.0L60.90,188.6Z" fill="url(#dish)" stroke="#555" stroke-width="0.8"/>
<ellipse cx="51.3" cy="188.6" rx="9.6" ry="1.8" fill="#fff" stroke="#555" stroke-width="0.8"/>
<path d="M67.20,188.6L67.20,195.0A9.6,1.7 0 0 0 86.40,195.0L86.40,188.6Z" fill="url(#dish)" stroke="#555" stroke-width="0.8"/>
<ellipse cx="76.8" cy="188.6" rx="9.6" ry="1.8" fill="#fff" stroke="#555" stroke-width="0.8"/>
<path d="M33.20,185.2Q37.90,178.6 43.10,182.6" fill="none" stroke="#222" stroke-width="0.8"/>
<path d="M41.40,181.4L45.20,181.0L44.40,185.0Z" fill="#111"/>
<path d="M58.00,185.2Q63.00,178.6 68.50,182.6" fill="none" stroke="#222" stroke-width="0.8"/>
<path d="M66.80,181.4L70.60,181.0L69.80,185.0Z" fill="#111"/>
<text x="27.20" y="205.60" font-size="7.9" text-anchor="middle" fill="#1a1a1a" stroke="#1a1a1a" stroke-width="0.12" >1st</text>
<text x="52.20" y="205.60" font-size="7.9" text-anchor="middle" fill="#1a1a1a" stroke="#1a1a1a" stroke-width="0.12" >2nd</text>
<text x="77.80" y="205.60" font-size="7.9" text-anchor="middle" fill="#1a1a1a" stroke="#1a1a1a" stroke-width="0.12" >3rd</text>
<line x1="26.40" y1="208.80" x2="26.40" y2="217.00" stroke="#222" stroke-width="0.8" />
<path d="M24.60,216.2L28.20,216.2L26.40,219.8Z" fill="#111"/>
<line x1="51.80" y1="208.80" x2="51.80" y2="217.00" stroke="#222" stroke-width="0.8" />
<path d="M50.00,216.2L53.60,216.2L51.80,219.8Z" fill="#111"/>
<line x1="77.30" y1="208.80" x2="77.30" y2="217.00" stroke="#222" stroke-width="0.8" />
<path d="M75.50,216.2L79.10,216.2L77.30,219.8Z" fill="#111"/>
<text x="52.80" y="227.70" font-size="7.8" text-anchor="middle" fill="#1a1a1a" stroke="#1a1a1a" stroke-width="0.12" >Amplicon sequencing</text>
<line x1="129.00" y1="164.30" x2="129.00" y2="231.30" stroke="#666" stroke-width="0.8" />
<line x1="127.40" y1="231.30" x2="129.00" y2="231.30" stroke="#666" stroke-width="0.8" />
<text x="123.60" y="233.90" font-size="7.5" text-anchor="end" fill="#1a1a1a" stroke="#1a1a1a" stroke-width="0.12" >0</text>
<line x1="127.40" y1="217.90" x2="129.00" y2="217.90" stroke="#666" stroke-width="0.8" />
<text x="123.60" y="220.50" font-size="7.5" text-anchor="end" fill="#1a1a1a" stroke="#1a1a1a" stroke-width="0.12" >2</text>
<line x1="127.40" y1="204.50" x2="129.00" y2="204.50" stroke="#666" stroke-width="0.8" />
<text x="123.60" y="207.10" font-size="7.5" text-anchor="end" fill="#1a1a1a" stroke="#1a1a1a" stroke-width="0.12" >4</text>
<line x1="127.40" y1="191.10" x2="129.00" y2="191.10" stroke="#666" stroke-width="0.8" />
<text x="123.60" y="193.70" font-size="7.5" text-anchor="end" fill="#1a1a1a" stroke="#1a1a1a" stroke-width="0.12" >6</text>
<line x1="127.40" y1="177.70" x2="129.00" y2="177.70" stroke="#666" stroke-width="0.8" />
<text x="123.60" y="180.30" font-size="7.5" text-anchor="end" fill="#1a1a1a" stroke="#1a1a1a" stroke-width="0.12" >8</text>
<line x1="127.40" y1="164.30" x2="129.00" y2="164.30" stroke="#666" stroke-width="0.8" />
<text x="123.60" y="166.90" font-size="7.5" text-anchor="end" fill="#1a1a1a" stroke="#1a1a1a" stroke-width="0.12" >10</text>
<line x1="129.00" y1="231.30" x2="341.40" y2="231.30" stroke="#666" stroke-width="0.8" />
<line x1="150.80" y1="161.00" x2="150.80" y2="230.80" stroke="#dedede" stroke-width="0.7" />
<line x1="172.10" y1="161.00" x2="172.10" y2="230.80" stroke="#dedede" stroke-width="0.7" />
<line x1="193.40" y1="161.00" x2="193.40" y2="230.80" stroke="#dedede" stroke-width="0.7" />
<line x1="214.70" y1="161.00" x2="214.70" y2="230.80" stroke="#dedede" stroke-width="0.7" />
<line x1="236.00" y1="161.00" x2="236.00" y2="230.80" stroke="#dedede" stroke-width="0.7" />
<line x1="257.30" y1="161.00" x2="257.30" y2="230.80" stroke="#dedede" stroke-width="0.7" />
<line x1="278.60" y1="161.00" x2="278.60" y2="230.80" stroke="#dedede" stroke-width="0.7" />
<line x1="299.90" y1="161.00" x2="299.90" y2="230.80" stroke="#dedede" stroke-width="0.7" />
<line x1="321.20" y1="161.00" x2="321.20" y2="230.80" stroke="#dedede" stroke-width="0.7" />
<text transform="translate(111.35,197.60) rotate(-90)" font-size="7.9" text-anchor="middle" fill="#1a1a1a" stroke="#1a1a1a" stroke-width="0.15">Frameshift (%)</text>
<text x="161.50" y="154.50" font-size="7.8" text-anchor="middle" fill="#1a1a1a" stroke="#1a1a1a" stroke-width="0.12" >N-terminal</text>
<text x="235.70" y="154.50" font-size="7.8" text-anchor="middle" fill="#1a1a1a" stroke="#1a1a1a" stroke-width="0.12" >Central</text>
<text x="310.60" y="154.50" font-size="7.8" text-anchor="middle" fill="#1a1a1a" stroke="#1a1a1a" stroke-width="0.12" >C-terminal</text>
<line x1="132.70" y1="158.50" x2="189.90" y2="158.50" stroke="#666" stroke-width="1.2" />
<line x1="194.30" y1="158.50" x2="276.50" y2="158.50" stroke="#666" stroke-width="1.2" />
<line x1="281.90" y1="158.50" x2="339.60" y2="158.50" stroke="#666" stroke-width="1.2" />
<line x1="132.30" y1="231.30" x2="132.30" y2="232.90" stroke="#666" stroke-width="0.7" />
<rect x="130.50" y="201.60" width="3.60" height="7.90" fill="#FDE725" stroke="#444" stroke-width="0.6" rx="1.2" />
<rect x="130.69" y="201.68" width="3.23" height="3.23" fill="#ffffff" stroke="#555555" stroke-width="0.6" rx="0" />
<circle cx="132.30" cy="207.29" r="1.70" fill="#ffffff" stroke="#555555" stroke-width="0.6"/>
<path d="M130.60,206.44L134.00,206.44L132.30,209.50Z" fill="#ffffff" stroke="#555555" stroke-width="0.6"/>
<text transform="translate(135.03,236.20) rotate(-90)" font-size="7.9" text-anchor="end" fill="#1a1a1a" stroke="#1a1a1a" stroke-width="0.15">1st</text>
<line x1="138.95" y1="231.30" x2="138.95" y2="232.90" stroke="#666" stroke-width="0.7" />
<rect x="137.15" y="190.20" width="3.60" height="31.00" fill="#FDE725" stroke="#444" stroke-width="0.6" rx="1.2" />
<rect x="137.34" y="190.28" width="3.23" height="3.23" fill="#9a9a9a" stroke="#555555" stroke-width="0.6" rx="0" />
<circle cx="138.95" cy="212.52" r="1.70" fill="#9a9a9a" stroke="#555555" stroke-width="0.6"/>
<path d="M137.25,218.14L140.65,218.14L138.95,221.20Z" fill="#9a9a9a" stroke="#555555" stroke-width="0.6"/>
<text transform="translate(141.68,236.20) rotate(-90)" font-size="7.9" text-anchor="end" fill="#1a1a1a" stroke="#1a1a1a" stroke-width="0.15">2nd</text>
<line x1="145.60" y1="231.30" x2="145.60" y2="232.90" stroke="#666" stroke-width="0.7" />
<rect x="143.80" y="200.30" width="3.60" height="18.30" fill="#FDE725" stroke="#222" stroke-width="0.6" rx="1.2" />
<rect x="143.99" y="200.38" width="3.23" height="3.23" fill="#111111" stroke="#111111" stroke-width="0.6" rx="0" />
<circle cx="145.60" cy="213.48" r="1.70" fill="#111111" stroke="#111111" stroke-width="0.6"/>
<path d="M143.90,215.54L147.30,215.54L145.60,218.60Z" fill="#111111" stroke="#111111" stroke-width="0.6"/>
<text transform="translate(148.33,236.20) rotate(-90)" font-size="7.9" text-anchor="end" fill="#1a1a1a" stroke="#1a1a1a" stroke-width="0.15">3rd</text>
<rect x="130.95" y="251.40" width="16.00" height="2.40" fill="#FDE725" stroke="#333" stroke-width="0.6" rx="0.4" />
<line x1="132.45" y1="252.60" x2="145.45" y2="252.60" stroke="#fff" stroke-width="0.5" stroke-opacity="0.35"/>
<text x="138.95" y="262.30" font-size="8" text-anchor="middle" fill="#1a1a1a" stroke="#1a1a1a" stroke-width="0.12" >1</text>
<line x1="153.77" y1="231.30" x2="153.77" y2="232.90" stroke="#666" stroke-width="0.7" />
<rect x="151.97" y="215.90" width="3.60" height="9.60" fill="#B4DE2C" stroke="#444" stroke-width="0.6" rx="1.2" />
<rect x="152.16" y="215.98" width="3.23" height="3.23" fill="#ffffff" stroke="#555555" stroke-width="0.6" rx="0" />
<circle cx="153.77" cy="222.81" r="1.70" fill="#ffffff" stroke="#555555" stroke-width="0.6"/>
<path d="M152.07,222.44L155.47,222.44L153.77,225.50Z" fill="#ffffff" stroke="#555555" stroke-width="0.6"/>
<text transform="translate(156.50,236.20) rotate(-90)" font-size="7.9" text-anchor="end" fill="#1a1a1a" stroke="#1a1a1a" stroke-width="0.15">1st</text>
<line x1="160.42" y1="231.30" x2="160.42" y2="232.90" stroke="#666" stroke-width="0.7" />
<rect x="158.62" y="217.80" width="3.60" height="8.60" fill="#B4DE2C" stroke="#444" stroke-width="0.6" rx="1.2" />
<rect x="158.81" y="217.88" width="3.23" height="3.23" fill="#9a9a9a" stroke="#555555" stroke-width="0.6" rx="0" />
<circle cx="160.42" cy="223.99" r="1.70" fill="#9a9a9a" stroke="#555555" stroke-width="0.6"/>
<path d="M158.72,223.34L162.12,223.34L160.42,226.40Z" fill="#9a9a9a" stroke="#555555" stroke-width="0.6"/>
<text transform="translate(163.15,236.20) rotate(-90)" font-size="7.9" text-anchor="end" fill="#1a1a1a" stroke="#1a1a1a" stroke-width="0.15">2nd</text>
<line x1="167.07" y1="231.30" x2="167.07" y2="232.90" stroke="#666" stroke-width="0.7" />
<rect x="165.27" y="211.10" width="3.60" height="19.70" fill="#B4DE2C" stroke="#222" stroke-width="0.6" rx="1.2" />
<rect x="165.46" y="211.18" width="3.23" height="3.23" fill="#111111" stroke="#111111" stroke-width="0.6" rx="0" />
<circle cx="167.07" cy="225.28" r="1.70" fill="#111111" stroke="#111111" stroke-width="0.6"/>
<path d="M165.37,227.74L168.77,227.74L167.07,230.80Z" fill="#111111" stroke="#111111" stroke-width="0.6"/>
<text transform="translate(169.80,236.20) rotate(-90)" font-size="7.9" text-anchor="end" fill="#1a1a1a" stroke="#1a1a1a" stroke-width="0.15">3rd</text>
<rect x="152.42" y="251.40" width="16.00" height="2.40" fill="#B4DE2C" stroke="#333" stroke-width="0.6" rx="0.4" />
<line x1="153.92" y1="252.60" x2="166.92" y2="252.60" stroke="#fff" stroke-width="0.5" stroke-opacity="0.35"/>
<text x="160.42" y="262.30" font-size="8" text-anchor="middle" fill="#1a1a1a" stroke="#1a1a1a" stroke-width="0.12" >2</text>
<line x1="175.24" y1="231.30" x2="175.24" y2="232.90" stroke="#666" stroke-width="0.7" />
<rect x="173.44" y="225.00" width="3.60" height="4.80" fill="#58BE4C" stroke="#444" stroke-width="0.6" rx="1.2" />
<rect x="173.62" y="225.08" width="3.23" height="3.23" fill="#ffffff" stroke="#555555" stroke-width="0.6" rx="0" />
<circle cx="175.24" cy="228.46" r="1.70" fill="#ffffff" stroke="#555555" stroke-width="0.6"/>
<path d="M173.54,226.74L176.94,226.74L175.24,229.80Z" fill="#ffffff" stroke="#555555" stroke-width="0.6"/>
<text transform="translate(177.97,236.20) rotate(-90)" font-size="7.9" text-anchor="end" fill="#1a1a1a" stroke="#1a1a1a" stroke-width="0.15">1st</text>
<line x1="181.89" y1="231.30" x2="181.89" y2="232.90" stroke="#666" stroke-width="0.7" />
<rect x="180.09" y="227.90" width="3.60" height="3.80" fill="#58BE4C" stroke="#444" stroke-width="0.6" rx="1.2" />
<rect x="180.28" y="227.98" width="3.23" height="3.23" fill="#9a9a9a" stroke="#555555" stroke-width="0.6" rx="0" />
<circle cx="181.89" cy="230.64" r="1.70" fill="#9a9a9a" stroke="#555555" stroke-width="0.6"/>
<path d="M180.19,228.64L183.59,228.64L181.89,231.70Z" fill="#9a9a9a" stroke="#555555" stroke-width="0.6"/>
<text transform="translate(184.62,236.20) rotate(-90)" font-size="7.9" text-anchor="end" fill="#1a1a1a" stroke="#1a1a1a" stroke-width="0.15">2nd</text>
<line x1="188.54" y1="231.30" x2="188.54" y2="232.90" stroke="#666" stroke-width="0.7" />
<rect x="186.74" y="217.80" width="3.60" height="14.40" fill="#58BE4C" stroke="#222" stroke-width="0.6" rx="1.2" />
<rect x="186.93" y="217.88" width="3.23" height="3.23" fill="#111111" stroke="#111111" stroke-width="0.6" rx="0" />
<circle cx="188.54" cy="228.17" r="1.70" fill="#111111" stroke="#111111" stroke-width="0.6"/>
<path d="M186.84,229.14L190.24,229.14L188.54,232.20Z" fill="#111111" stroke="#111111" stroke-width="0.6"/>
<text transform="translate(191.27,236.20) rotate(-90)" font-size="7.9" text-anchor="end" fill="#1a1a1a" stroke="#1a1a1a" stroke-width="0.15">3rd</text>
<rect x="173.89" y="251.40" width="16.00" height="2.40" fill="#58BE4C" stroke="#333" stroke-width="0.6" rx="0.4" />
<line x1="175.39" y1="252.60" x2="188.39" y2="252.60" stroke="#fff" stroke-width="0.5" stroke-opacity="0.35"/>
<text x="181.89" y="262.30" font-size="8" text-anchor="middle" fill="#1a1a1a" stroke="#1a1a1a" stroke-width="0.12" >3</text>
<line x1="196.71" y1="231.30" x2="196.71" y2="232.90" stroke="#666" stroke-width="0.7" />
<rect x="194.91" y="218.00" width="3.60" height="7.80" fill="#2CA67A" stroke="#444" stroke-width="0.6" rx="1.2" />
<rect x="195.09" y="218.08" width="3.23" height="3.23" fill="#ffffff" stroke="#555555" stroke-width="0.6" rx="0" />
<circle cx="196.71" cy="223.62" r="1.70" fill="#ffffff" stroke="#555555" stroke-width="0.6"/>
<path d="M195.01,222.74L198.41,222.74L196.71,225.80Z" fill="#ffffff" stroke="#555555" stroke-width="0.6"/>
<text transform="translate(199.44,236.20) rotate(-90)" font-size="7.9" text-anchor="end" fill="#1a1a1a" stroke="#1a1a1a" stroke-width="0.15">1st</text>
<line x1="203.36" y1="231.30" x2="203.36" y2="232.90" stroke="#666" stroke-width="0.7" />
<rect x="201.56" y="210.00" width="3.60" height="15.80" fill="#2CA67A" stroke="#444" stroke-width="0.6" rx="1.2" />
<rect x="201.75" y="210.08" width="3.23" height="3.23" fill="#9a9a9a" stroke="#555555" stroke-width="0.6" rx="0" />
<circle cx="203.36" cy="221.38" r="1.70" fill="#9a9a9a" stroke="#555555" stroke-width="0.6"/>
<path d="M201.66,222.74L205.06,222.74L203.36,225.80Z" fill="#9a9a9a" stroke="#555555" stroke-width="0.6"/>
<text transform="translate(206.09,236.20) rotate(-90)" font-size="7.9" text-anchor="end" fill="#1a1a1a" stroke="#1a1a1a" stroke-width="0.15">2nd</text>
<line x1="210.01" y1="231.30" x2="210.01" y2="232.90" stroke="#666" stroke-width="0.7" />
<rect x="208.21" y="181.70" width="3.60" height="41.60" fill="#2CA67A" stroke="#222" stroke-width="0.6" rx="1.2" />
<rect x="208.40" y="181.78" width="3.23" height="3.23" fill="#111111" stroke="#111111" stroke-width="0.6" rx="0" />
<circle cx="210.01" cy="211.65" r="1.70" fill="#111111" stroke="#111111" stroke-width="0.6"/>
<path d="M208.31,220.24L211.71,220.24L210.01,223.30Z" fill="#111111" stroke="#111111" stroke-width="0.6"/>
<text transform="translate(212.74,236.20) rotate(-90)" font-size="7.9" text-anchor="end" fill="#1a1a1a" stroke="#1a1a1a" stroke-width="0.15">3rd</text>
<rect x="195.36" y="251.40" width="16.00" height="2.40" fill="#2CA67A" stroke="#333" stroke-width="0.6" rx="0.4" />
<line x1="196.86" y1="252.60" x2="209.86" y2="252.60" stroke="#fff" stroke-width="0.5" stroke-opacity="0.35"/>
<text x="203.36" y="262.30" font-size="8" text-anchor="middle" fill="#1a1a1a" stroke="#1a1a1a" stroke-width="0.12" >4</text>
<line x1="218.18" y1="231.30" x2="218.18" y2="232.90" stroke="#666" stroke-width="0.7" />
<rect x="216.38" y="210.00" width="3.60" height="10.80" fill="#1F9E89" stroke="#444" stroke-width="0.6" rx="1.2" />
<rect x="216.56" y="210.08" width="3.23" height="3.23" fill="#ffffff" stroke="#555555" stroke-width="0.6" rx="0" />
<circle cx="218.18" cy="217.78" r="1.70" fill="#ffffff" stroke="#555555" stroke-width="0.6"/>
<path d="M216.48,217.74L219.88,217.74L218.18,220.80Z" fill="#ffffff" stroke="#555555" stroke-width="0.6"/>
<text transform="translate(220.91,236.20) rotate(-90)" font-size="7.9" text-anchor="end" fill="#1a1a1a" stroke="#1a1a1a" stroke-width="0.15">1st</text>
<line x1="224.83" y1="231.30" x2="224.83" y2="232.90" stroke="#666" stroke-width="0.7" />
<rect x="223.03" y="206.70" width="3.60" height="12.50" fill="#1F9E89" stroke="#444" stroke-width="0.6" rx="1.2" />
<rect x="223.22" y="206.78" width="3.23" height="3.23" fill="#9a9a9a" stroke="#555555" stroke-width="0.6" rx="0" />
<circle cx="224.83" cy="215.70" r="1.70" fill="#9a9a9a" stroke="#555555" stroke-width="0.6"/>
<path d="M223.13,216.14L226.53,216.14L224.83,219.20Z" fill="#9a9a9a" stroke="#555555" stroke-width="0.6"/>
<text transform="translate(227.56,236.20) rotate(-90)" font-size="7.9" text-anchor="end" fill="#1a1a1a" stroke="#1a1a1a" stroke-width="0.15">2nd</text>
<line x1="231.48" y1="231.30" x2="231.48" y2="232.90" stroke="#666" stroke-width="0.7" />
<rect x="229.68" y="170.80" width="3.60" height="48.40" fill="#1F9E89" stroke="#222" stroke-width="0.6" rx="1.2" />
<rect x="229.87" y="170.88" width="3.23" height="3.23" fill="#111111" stroke="#111111" stroke-width="0.6" rx="0" />
<circle cx="231.48" cy="205.65" r="1.70" fill="#111111" stroke="#111111" stroke-width="0.6"/>
<path d="M229.78,216.14L233.18,216.14L231.48,219.20Z" fill="#111111" stroke="#111111" stroke-width="0.6"/>
<text transform="translate(234.21,236.20) rotate(-90)" font-size="7.9" text-anchor="end" fill="#1a1a1a" stroke="#1a1a1a" stroke-width="0.15">3rd</text>
<rect x="216.83" y="251.40" width="16.00" height="2.40" fill="#1F9E89" stroke="#333" stroke-width="0.6" rx="0.4" />
<line x1="218.33" y1="252.60" x2="231.33" y2="252.60" stroke="#fff" stroke-width="0.5" stroke-opacity="0.35"/>
<text x="224.83" y="262.30" font-size="8" text-anchor="middle" fill="#1a1a1a" stroke="#1a1a1a" stroke-width="0.12" >5</text>
<line x1="239.65" y1="231.30" x2="239.65" y2="232.90" stroke="#666" stroke-width="0.7" />
<rect x="237.85" y="210.80" width="3.60" height="13.40" fill="#26828E" stroke="#444" stroke-width="0.6" rx="1.2" />
<rect x="238.03" y="210.88" width="3.23" height="3.23" fill="#ffffff" stroke="#555555" stroke-width="0.6" rx="0" />
<circle cx="239.65" cy="220.45" r="1.70" fill="#ffffff" stroke="#555555" stroke-width="0.6"/>
<path d="M237.95,221.14L241.35,221.14L239.65,224.20Z" fill="#ffffff" stroke="#555555" stroke-width="0.6"/>
<text transform="translate(242.38,236.20) rotate(-90)" font-size="7.9" text-anchor="end" fill="#1a1a1a" stroke="#1a1a1a" stroke-width="0.15">1st</text>
<line x1="246.30" y1="231.30" x2="246.30" y2="232.90" stroke="#666" stroke-width="0.7" />
<rect x="244.50" y="205.80" width="3.60" height="22.20" fill="#26828E" stroke="#444" stroke-width="0.6" rx="1.2" />
<rect x="244.69" y="205.88" width="3.23" height="3.23" fill="#9a9a9a" stroke="#555555" stroke-width="0.6" rx="0" />
<circle cx="246.30" cy="221.78" r="1.70" fill="#9a9a9a" stroke="#555555" stroke-width="0.6"/>
<path d="M244.60,224.94L248.00,224.94L246.30,228.00Z" fill="#9a9a9a" stroke="#555555" stroke-width="0.6"/>
<text transform="translate(249.03,236.20) rotate(-90)" font-size="7.9" text-anchor="end" fill="#1a1a1a" stroke="#1a1a1a" stroke-width="0.15">2nd</text>
<line x1="252.95" y1="231.30" x2="252.95" y2="232.90" stroke="#666" stroke-width="0.7" />
<rect x="251.15" y="220.80" width="3.60" height="10.90" fill="#26828E" stroke="#222" stroke-width="0.6" rx="1.2" />
<rect x="251.34" y="220.88" width="3.23" height="3.23" fill="#111111" stroke="#111111" stroke-width="0.6" rx="0" />
<circle cx="252.95" cy="228.65" r="1.70" fill="#111111" stroke="#111111" stroke-width="0.6"/>
<path d="M251.25,228.64L254.65,228.64L252.95,231.70Z" fill="#111111" stroke="#111111" stroke-width="0.6"/>
<text transform="translate(255.68,236.20) rotate(-90)" font-size="7.9" text-anchor="end" fill="#1a1a1a" stroke="#1a1a1a" stroke-width="0.15">3rd</text>
<rect x="238.30" y="251.40" width="16.00" height="2.40" fill="#26828E" stroke="#333" stroke-width="0.6" rx="0.4" />
<line x1="239.80" y1="252.60" x2="252.80" y2="252.60" stroke="#fff" stroke-width="0.5" stroke-opacity="0.35"/>
<text x="246.30" y="262.30" font-size="8" text-anchor="middle" fill="#1a1a1a" stroke="#1a1a1a" stroke-width="0.12" >6</text>
<line x1="261.12" y1="231.30" x2="261.12" y2="232.90" stroke="#666" stroke-width="0.7" />
<rect x="259.32" y="209.20" width="3.60" height="8.30" fill="#31688E" stroke="#444" stroke-width="0.6" rx="1.2" />
<rect x="259.50" y="209.28" width="3.23" height="3.23" fill="#ffffff" stroke="#555555" stroke-width="0.6" rx="0" />
<circle cx="261.12" cy="215.18" r="1.70" fill="#ffffff" stroke="#555555" stroke-width="0.6"/>
<path d="M259.42,214.44L262.82,214.44L261.12,217.50Z" fill="#ffffff" stroke="#555555" stroke-width="0.6"/>
<text transform="translate(263.85,236.20) rotate(-90)" font-size="7.9" text-anchor="end" fill="#1a1a1a" stroke="#1a1a1a" stroke-width="0.15">1st</text>
<line x1="267.77" y1="231.30" x2="267.77" y2="232.90" stroke="#666" stroke-width="0.7" />
<rect x="265.97" y="206.70" width="3.60" height="11.60" fill="#31688E" stroke="#444" stroke-width="0.6" rx="1.2" />
<rect x="266.15" y="206.78" width="3.23" height="3.23" fill="#9a9a9a" stroke="#555555" stroke-width="0.6" rx="0" />
<circle cx="267.77" cy="215.05" r="1.70" fill="#9a9a9a" stroke="#555555" stroke-width="0.6"/>
<path d="M266.07,215.24L269.47,215.24L267.77,218.30Z" fill="#9a9a9a" stroke="#555555" stroke-width="0.6"/>
<text transform="translate(270.50,236.20) rotate(-90)" font-size="7.9" text-anchor="end" fill="#1a1a1a" stroke="#1a1a1a" stroke-width="0.15">2nd</text>
<line x1="274.42" y1="231.30" x2="274.42" y2="232.90" stroke="#666" stroke-width="0.7" />
<rect x="272.62" y="177.00" width="3.60" height="31.30" fill="#31688E" stroke="#222" stroke-width="0.6" rx="1.2" />
<rect x="272.81" y="177.08" width="3.23" height="3.23" fill="#111111" stroke="#111111" stroke-width="0.6" rx="0" />
<circle cx="274.42" cy="192.65" r="1.70" fill="#111111" stroke="#111111" stroke-width="0.6"/>
<path d="M272.72,205.24L276.12,205.24L274.42,208.30Z" fill="#111111" stroke="#111111" stroke-width="0.6"/>
<text transform="translate(277.15,236.20) rotate(-90)" font-size="7.9" text-anchor="end" fill="#1a1a1a" stroke="#1a1a1a" stroke-width="0.15">3rd</text>
<rect x="259.77" y="251.40" width="16.00" height="2.40" fill="#31688E" stroke="#333" stroke-width="0.6" rx="0.4" />
<line x1="261.27" y1="252.60" x2="274.27" y2="252.60" stroke="#fff" stroke-width="0.5" stroke-opacity="0.35"/>
<text x="267.77" y="262.30" font-size="8" text-anchor="middle" fill="#1a1a1a" stroke="#1a1a1a" stroke-width="0.12" >7</text>
<line x1="282.59" y1="231.30" x2="282.59" y2="232.90" stroke="#666" stroke-width="0.7" />
<rect x="280.79" y="183.00" width="3.60" height="18.30" fill="#3E4A89" stroke="#444" stroke-width="0.6" rx="1.2" />
<rect x="280.98" y="183.08" width="3.23" height="3.23" fill="#ffffff" stroke="#555555" stroke-width="0.6" rx="0" />
<circle cx="282.59" cy="196.18" r="1.70" fill="#ffffff" stroke="#555555" stroke-width="0.6"/>
<path d="M280.89,198.24L284.29,198.24L282.59,201.30Z" fill="#ffffff" stroke="#555555" stroke-width="0.6"/>
<text transform="translate(285.32,236.20) rotate(-90)" font-size="7.9" text-anchor="end" fill="#1a1a1a" stroke="#1a1a1a" stroke-width="0.15">1st</text>
<line x1="289.24" y1="231.30" x2="289.24" y2="232.90" stroke="#666" stroke-width="0.7" />
<rect x="287.44" y="190.80" width="3.60" height="24.20" fill="#3E4A89" stroke="#444" stroke-width="0.6" rx="1.2" />
<rect x="287.62" y="190.88" width="3.23" height="3.23" fill="#9a9a9a" stroke="#555555" stroke-width="0.6" rx="0" />
<circle cx="289.24" cy="208.22" r="1.70" fill="#9a9a9a" stroke="#555555" stroke-width="0.6"/>
<path d="M287.54,211.94L290.94,211.94L289.24,215.00Z" fill="#9a9a9a" stroke="#555555" stroke-width="0.6"/>
<text transform="translate(291.97,236.20) rotate(-90)" font-size="7.9" text-anchor="end" fill="#1a1a1a" stroke="#1a1a1a" stroke-width="0.15">2nd</text>
<line x1="295.89" y1="231.30" x2="295.89" y2="232.90" stroke="#666" stroke-width="0.7" />
<rect x="294.09" y="200.80" width="3.60" height="28.40" fill="#3E4A89" stroke="#222" stroke-width="0.6" rx="1.2" />
<rect x="294.28" y="200.88" width="3.23" height="3.23" fill="#111111" stroke="#111111" stroke-width="0.6" rx="0" />
<circle cx="295.89" cy="215.00" r="1.70" fill="#111111" stroke="#111111" stroke-width="0.6"/>
<path d="M294.19,226.14L297.59,226.14L295.89,229.20Z" fill="#111111" stroke="#111111" stroke-width="0.6"/>
<text transform="translate(298.62,236.20) rotate(-90)" font-size="7.9" text-anchor="end" fill="#1a1a1a" stroke="#1a1a1a" stroke-width="0.15">3rd</text>
<rect x="281.24" y="251.40" width="16.00" height="2.40" fill="#3E4A89" stroke="#333" stroke-width="0.6" rx="0.4" />
<line x1="282.74" y1="252.60" x2="295.74" y2="252.60" stroke="#fff" stroke-width="0.5" stroke-opacity="0.35"/>
<text x="289.24" y="262.30" font-size="8" text-anchor="middle" fill="#1a1a1a" stroke="#1a1a1a" stroke-width="0.12" >8</text>
<line x1="304.06" y1="231.30" x2="304.06" y2="232.90" stroke="#666" stroke-width="0.7" />
<rect x="302.26" y="223.60" width="3.60" height="7.00" fill="#482878" stroke="#444" stroke-width="0.6" rx="1.2" />
<rect x="302.44" y="223.68" width="3.23" height="3.23" fill="#ffffff" stroke="#555555" stroke-width="0.6" rx="0" />
<circle cx="304.06" cy="228.64" r="1.70" fill="#ffffff" stroke="#555555" stroke-width="0.6"/>
<path d="M302.36,227.54L305.76,227.54L304.06,230.60Z" fill="#ffffff" stroke="#555555" stroke-width="0.6"/>
<text transform="translate(306.79,236.20) rotate(-90)" font-size="7.9" text-anchor="end" fill="#1a1a1a" stroke="#1a1a1a" stroke-width="0.15">1st</text>
<line x1="310.71" y1="231.30" x2="310.71" y2="232.90" stroke="#666" stroke-width="0.7" />
<rect x="308.91" y="216.40" width="3.60" height="13.40" fill="#482878" stroke="#444" stroke-width="0.6" rx="1.2" />
<rect x="309.09" y="216.48" width="3.23" height="3.23" fill="#9a9a9a" stroke="#555555" stroke-width="0.6" rx="0" />
<circle cx="310.71" cy="226.05" r="1.70" fill="#9a9a9a" stroke="#555555" stroke-width="0.6"/>
<path d="M309.01,226.74L312.41,226.74L310.71,229.80Z" fill="#9a9a9a" stroke="#555555" stroke-width="0.6"/>
<text transform="translate(313.44,236.20) rotate(-90)" font-size="7.9" text-anchor="end" fill="#1a1a1a" stroke="#1a1a1a" stroke-width="0.15">2nd</text>
<line x1="317.36" y1="231.30" x2="317.36" y2="232.90" stroke="#666" stroke-width="0.7" />
<rect x="315.56" y="218.80" width="3.60" height="11.00" fill="#482878" stroke="#222" stroke-width="0.6" rx="1.2" />
<rect x="315.75" y="218.88" width="3.23" height="3.23" fill="#111111" stroke="#111111" stroke-width="0.6" rx="0" />
<circle cx="317.36" cy="226.72" r="1.70" fill="#111111" stroke="#111111" stroke-width="0.6"/>
<path d="M315.66,226.74L319.06,226.74L317.36,229.80Z" fill="#111111" stroke="#111111" stroke-width="0.6"/>
<text transform="translate(320.09,236.20) rotate(-90)" font-size="7.9" text-anchor="end" fill="#1a1a1a" stroke="#1a1a1a" stroke-width="0.15">3rd</text>
<rect x="302.71" y="251.40" width="16.00" height="2.40" fill="#482878" stroke="#333" stroke-width="0.6" rx="0.4" />
<line x1="304.21" y1="252.60" x2="317.21" y2="252.60" stroke="#fff" stroke-width="0.5" stroke-opacity="0.35"/>
<text x="310.71" y="262.30" font-size="8" text-anchor="middle" fill="#1a1a1a" stroke="#1a1a1a" stroke-width="0.12" >9</text>
<line x1="325.53" y1="231.30" x2="325.53" y2="232.90" stroke="#666" stroke-width="0.7" />
<rect x="323.73" y="208.90" width="3.60" height="9.70" fill="#440154" stroke="#444" stroke-width="0.6" rx="1.2" />
<rect x="323.91" y="208.98" width="3.23" height="3.23" fill="#ffffff" stroke="#555555" stroke-width="0.6" rx="0" />
<circle cx="325.53" cy="215.88" r="1.70" fill="#ffffff" stroke="#555555" stroke-width="0.6"/>
<path d="M323.83,215.54L327.23,215.54L325.53,218.60Z" fill="#ffffff" stroke="#555555" stroke-width="0.6"/>
<text transform="translate(328.26,236.20) rotate(-90)" font-size="7.9" text-anchor="end" fill="#1a1a1a" stroke="#1a1a1a" stroke-width="0.15">1st</text>
<line x1="332.18" y1="231.30" x2="332.18" y2="232.90" stroke="#666" stroke-width="0.7" />
<rect x="330.38" y="214.20" width="3.60" height="8.20" fill="#440154" stroke="#444" stroke-width="0.6" rx="1.2" />
<rect x="330.56" y="214.28" width="3.23" height="3.23" fill="#9a9a9a" stroke="#555555" stroke-width="0.6" rx="0" />
<circle cx="332.18" cy="220.10" r="1.70" fill="#9a9a9a" stroke="#555555" stroke-width="0.6"/>
<path d="M330.48,219.34L333.88,219.34L332.18,222.40Z" fill="#9a9a9a" stroke="#555555" stroke-width="0.6"/>
<text transform="translate(334.91,236.20) rotate(-90)" font-size="7.9" text-anchor="end" fill="#1a1a1a" stroke="#1a1a1a" stroke-width="0.15">2nd</text>
<line x1="338.83" y1="231.30" x2="338.83" y2="232.90" stroke="#666" stroke-width="0.7" />
<rect x="337.03" y="202.00" width="3.60" height="29.20" fill="#440154" stroke="#222" stroke-width="0.6" rx="1.2" />
<rect x="337.21" y="202.08" width="3.23" height="3.23" fill="#111111" stroke="#111111" stroke-width="0.6" rx="0" />
<circle cx="338.83" cy="223.02" r="1.70" fill="#111111" stroke="#111111" stroke-width="0.6"/>
<path d="M337.13,228.14L340.53,228.14L338.83,231.20Z" fill="#111111" stroke="#111111" stroke-width="0.6"/>
<text transform="translate(341.56,236.20) rotate(-90)" font-size="7.9" text-anchor="end" fill="#1a1a1a" stroke="#1a1a1a" stroke-width="0.15">3rd</text>
<rect x="324.18" y="251.40" width="16.00" height="2.40" fill="#440154" stroke="#333" stroke-width="0.6" rx="0.4" />
<line x1="325.68" y1="252.60" x2="338.68" y2="252.60" stroke="#fff" stroke-width="0.5" stroke-opacity="0.35"/>
<text x="332.18" y="262.30" font-size="8" text-anchor="middle" fill="#1a1a1a" stroke="#1a1a1a" stroke-width="0.12" >10</text>
<text x="350.60" y="140.30" font-size="11" text-anchor="start" fill="#000" font-weight="bold" >D</text>
<text x="370.80" y="157.00" font-size="7.8" text-anchor="start" fill="#1a1a1a" stroke="#1a1a1a" stroke-width="0.12" >N-terminal</text>
<text x="413.00" y="157.00" font-size="7.8" text-anchor="start" fill="#1a1a1a" stroke="#1a1a1a" stroke-width="0.12" >Central</text>
<text x="441.30" y="156.80" font-size="7.8" text-anchor="start" fill="#1a1a1a" stroke="#1a1a1a" stroke-width="0.12" >C-terminal</text>
<line x1="386.20" y1="160.30" x2="407.30" y2="160.30" stroke="#666" stroke-width="1.1" />
<line x1="415.50" y1="160.30" x2="436.50" y2="160.30" stroke="#666" stroke-width="1.1" />
<line x1="441.30" y1="160.30" x2="462.40" y2="160.30" stroke="#666" stroke-width="1.1" />
<line x1="384.30" y1="167.10" x2="384.30" y2="229.30" stroke="#666" stroke-width="0.8" />
<line x1="382.70" y1="229.30" x2="384.30" y2="229.30" stroke="#666" stroke-width="0.8" />
<text x="379.90" y="231.90" font-size="7.5" text-anchor="end" fill="#1a1a1a" stroke="#1a1a1a" stroke-width="0.12" >0</text>
<line x1="382.70" y1="216.86" x2="384.30" y2="216.86" stroke="#666" stroke-width="0.8" />
<text x="379.90" y="219.46" font-size="7.5" text-anchor="end" fill="#1a1a1a" stroke="#1a1a1a" stroke-width="0.12" >5</text>
<line x1="382.70" y1="204.42" x2="384.30" y2="204.42" stroke="#666" stroke-width="0.8" />
<text x="379.90" y="207.02" font-size="7.5" text-anchor="end" fill="#1a1a1a" stroke="#1a1a1a" stroke-width="0.12" >10</text>
<line x1="382.70" y1="191.98" x2="384.30" y2="191.98" stroke="#666" stroke-width="0.8" />
<text x="379.90" y="194.58" font-size="7.5" text-anchor="end" fill="#1a1a1a" stroke="#1a1a1a" stroke-width="0.12" >15</text>
<line x1="382.70" y1="179.54" x2="384.30" y2="179.54" stroke="#666" stroke-width="0.8" />
<text x="379.90" y="182.14" font-size="7.5" text-anchor="end" fill="#1a1a1a" stroke="#1a1a1a" stroke-width="0.12" >20</text>
<line x1="382.70" y1="167.10" x2="384.30" y2="167.10" stroke="#666" stroke-width="0.8" />
<text x="379.90" y="169.70" font-size="7.5" text-anchor="end" fill="#1a1a1a" stroke="#1a1a1a" stroke-width="0.12" >25</text>
<line x1="384.30" y1="229.30" x2="465.30" y2="229.30" stroke="#666" stroke-width="0.8" />
<line x1="412.00" y1="163.00" x2="412.00" y2="228.80" stroke="#e2e2e2" stroke-width="0.7" />
<line x1="439.40" y1="163.00" x2="439.40" y2="228.80" stroke="#e2e2e2" stroke-width="0.7" />
<text transform="translate(364.15,197.00) rotate(-90)" font-size="7.9" text-anchor="middle" fill="#1a1a1a" stroke="#1a1a1a" stroke-width="0.15">Frameshift (%)</text>
<line x1="390.00" y1="229.30" x2="390.00" y2="230.90" stroke="#666" stroke-width="0.7" />
<circle cx="388.80" cy="215.00" r="1.65" fill="#ffffff" stroke="#555555" stroke-width="0.6"/>
<rect x="389.40" y="214.10" width="3.00" height="3.00" fill="#ffffff" stroke="#555555" stroke-width="0.6" rx="0" />
<path d="M388.35,214.88L391.65,214.88L390.00,217.85Z" fill="#ffffff" stroke="#555555" stroke-width="0.6"/>
<text transform="translate(392.73,234.60) rotate(-90)" font-size="7.9" text-anchor="end" fill="#1a1a1a" stroke="#1a1a1a" stroke-width="0.15">1st</text>
<line x1="398.10" y1="229.30" x2="398.10" y2="230.90" stroke="#666" stroke-width="0.7" />
<rect x="395.20" y="210.90" width="5.80" height="12.30" fill="#B4DE2C" stroke="#333" stroke-width="0.6" rx="0.6" />
<rect x="396.60" y="211.10" width="3.00" height="3.00" fill="#9a9a9a" stroke="#555555" stroke-width="0.6" rx="0" />
<circle cx="398.10" cy="216.00" r="1.65" fill="#9a9a9a" stroke="#555555" stroke-width="0.6"/>
<circle cx="398.10" cy="218.60" r="1.65" fill="#9a9a9a" stroke="#555555" stroke-width="0.6"/>
<path d="M396.45,220.28L399.75,220.28L398.10,223.25Z" fill="#9a9a9a" stroke="#555555" stroke-width="0.6"/>
<text transform="translate(400.83,234.60) rotate(-90)" font-size="7.9" text-anchor="end" fill="#1a1a1a" stroke="#1a1a1a" stroke-width="0.15">2nd</text>
<line x1="406.50" y1="229.30" x2="406.50" y2="230.90" stroke="#666" stroke-width="0.7" />
<rect x="403.30" y="206.60" width="6.40" height="16.10" fill="#B8E030" stroke="#333" stroke-width="0.6" rx="0.6" />
<circle cx="406.50" cy="208.20" r="1.65" fill="#111111" stroke="#111111" stroke-width="0.6"/>
<rect x="405.00" y="211.50" width="3.00" height="3.00" fill="#111111" stroke="#111111" stroke-width="0.6" rx="0" />
<path d="M404.85,216.28L408.15,216.28L406.50,219.25Z" fill="#111111" stroke="#111111" stroke-width="0.6"/>
<circle cx="406.50" cy="221.20" r="1.65" fill="#111111" stroke="#111111" stroke-width="0.6"/>
<text transform="translate(409.23,234.60) rotate(-90)" font-size="7.9" text-anchor="end" fill="#1a1a1a" stroke="#1a1a1a" stroke-width="0.15">3rd</text>
<line x1="417.20" y1="229.30" x2="417.20" y2="230.90" stroke="#666" stroke-width="0.7" />
<rect x="414.25" y="202.90" width="5.90" height="9.80" fill="#24A387" stroke="#333" stroke-width="0.6" rx="0.6" />
<circle cx="417.20" cy="204.40" r="1.65" fill="#ffffff" stroke="#555555" stroke-width="0.6"/>
<rect x="415.70" y="206.10" width="3.00" height="3.00" fill="#ffffff" stroke="#555555" stroke-width="0.6" rx="0" />
<path d="M415.55,209.68L418.85,209.68L417.20,212.65Z" fill="#ffffff" stroke="#555555" stroke-width="0.6"/>
<text transform="translate(419.93,234.60) rotate(-90)" font-size="7.9" text-anchor="end" fill="#1a1a1a" stroke="#1a1a1a" stroke-width="0.15">1st</text>
<line x1="425.20" y1="229.30" x2="425.20" y2="230.90" stroke="#666" stroke-width="0.7" />
<rect x="421.85" y="197.90" width="6.70" height="15.30" fill="#24A387" stroke="#333" stroke-width="0.6" rx="0.6" />
<circle cx="425.20" cy="199.60" r="1.65" fill="#9a9a9a" stroke="#555555" stroke-width="0.6"/>
<rect x="423.70" y="204.50" width="3.00" height="3.00" fill="#9a9a9a" stroke="#555555" stroke-width="0.6" rx="0" />
<path d="M423.55,210.28L426.85,210.28L425.20,213.25Z" fill="#9a9a9a" stroke="#555555" stroke-width="0.6"/>
<text transform="translate(427.93,234.60) rotate(-90)" font-size="7.9" text-anchor="end" fill="#1a1a1a" stroke="#1a1a1a" stroke-width="0.15">2nd</text>
<line x1="433.20" y1="229.30" x2="433.20" y2="230.90" stroke="#666" stroke-width="0.7" />
<rect x="429.65" y="177.50" width="7.10" height="27.10" fill="#24A387" stroke="#333" stroke-width="0.6" rx="0.6" />
<circle cx="433.20" cy="179.20" r="1.65" fill="#111111" stroke="#111111" stroke-width="0.6"/>
<rect x="431.70" y="194.10" width="3.00" height="3.00" fill="#111111" stroke="#111111" stroke-width="0.6" rx="0" />
<path d="M431.55,201.88L434.85,201.88L433.20,204.85Z" fill="#111111" stroke="#111111" stroke-width="0.6"/>
<text transform="translate(435.93,234.60) rotate(-90)" font-size="7.9" text-anchor="end" fill="#1a1a1a" stroke="#1a1a1a" stroke-width="0.15">3rd</text>
<line x1="444.30" y1="229.30" x2="444.30" y2="230.90" stroke="#666" stroke-width="0.7" />
<rect x="441.30" y="205.40" width="6.00" height="6.00" fill="#ffffff" stroke="#333" stroke-width="0.6" rx="0.6" />
<rect x="441.60" y="205.90" width="3.00" height="3.00" fill="#ffffff" stroke="#555555" stroke-width="0.6" rx="0" />
<circle cx="445.50" cy="207.80" r="1.65" fill="#ffffff" stroke="#555555" stroke-width="0.6"/>
<path d="M442.65,208.48L445.95,208.48L444.30,211.45Z" fill="#ffffff" stroke="#555555" stroke-width="0.6"/>
<text transform="translate(447.03,234.60) rotate(-90)" font-size="7.9" text-anchor="end" fill="#1a1a1a" stroke="#1a1a1a" stroke-width="0.15">1st</text>
<line x1="452.40" y1="229.30" x2="452.40" y2="230.90" stroke="#666" stroke-width="0.7" />
<rect x="449.40" y="207.10" width="6.00" height="7.20" fill="#4E2A73" stroke="#333" stroke-width="0.6" rx="0.6" />
<circle cx="452.40" cy="208.80" r="1.65" fill="#9a9a9a" stroke="#555555" stroke-width="0.6"/>
<rect x="450.90" y="209.50" width="3.00" height="3.00" fill="#9a9a9a" stroke="#555555" stroke-width="0.6" rx="0" />
<path d="M450.75,211.48L454.05,211.48L452.40,214.45Z" fill="#9a9a9a" stroke="#555555" stroke-width="0.6"/>
<text transform="translate(455.13,234.60) rotate(-90)" font-size="7.9" text-anchor="end" fill="#1a1a1a" stroke="#1a1a1a" stroke-width="0.15">2nd</text>
<line x1="460.60" y1="229.30" x2="460.60" y2="230.90" stroke="#666" stroke-width="0.7" />
<rect x="457.35" y="212.90" width="6.50" height="10.00" fill="#3C0A52" stroke="#333" stroke-width="0.6" rx="0.6" />
<rect x="459.10" y="213.10" width="3.00" height="3.00" fill="#111111" stroke="#111111" stroke-width="0.6" rx="0" />
<circle cx="460.60" cy="218.00" r="1.65" fill="#111111" stroke="#111111" stroke-width="0.6"/>
<path d="M458.95,220.08L462.25,220.08L460.60,223.05Z" fill="#111111" stroke="#111111" stroke-width="0.6"/>
<text transform="translate(463.33,234.60) rotate(-90)" font-size="7.9" text-anchor="end" fill="#1a1a1a" stroke="#1a1a1a" stroke-width="0.15">3rd</text>
<line x1="430.00" y1="192.60" x2="436.40" y2="192.60" stroke="#333" stroke-width="0.6" />
<path d="M417.2,200.2L417.2,168.9L433.2,168.9L433.2,174.3" fill="none" stroke="#333" stroke-width="0.9"/>
<text x="425.20" y="169.40" font-size="8.5" text-anchor="middle" fill="#111" stroke="#111" stroke-width="0.2" >*</text>
<path d="M444.3,205.0L444.3,196.0L460.6,196.0L460.6,210.0" fill="none" stroke="#333" stroke-width="0.9"/>
<text x="452.40" y="195.40" font-size="8.5" text-anchor="middle" fill="#111" stroke="#111" stroke-width="0.2" >*</text>
<text transform="translate(497.73,179.30) rotate(-90)" font-size="7.9" text-anchor="start" fill="#1a1a1a" stroke="#1a1a1a" stroke-width="0.15">1st</text>
<text transform="translate(507.03,179.30) rotate(-90)" font-size="7.9" text-anchor="start" fill="#1a1a1a" stroke="#1a1a1a" stroke-width="0.15">2nd</text>
<text transform="translate(515.33,179.30) rotate(-90)" font-size="7.9" text-anchor="start" fill="#1a1a1a" stroke="#1a1a1a" stroke-width="0.15">3rd</text>
<text x="472.10" y="189.80" font-size="7.8" text-anchor="start" fill="#1a1a1a" stroke="#1a1a1a" stroke-width="0.12" >CB1</text>
<circle cx="495.00" cy="187.10" r="1.70" fill="#ffffff" stroke="#555555" stroke-width="0.6"/>
<circle cx="504.30" cy="187.10" r="1.70" fill="#9a9a9a" stroke="#555555" stroke-width="0.6"/>
<circle cx="512.60" cy="187.10" r="1.70" fill="#111111" stroke="#111" stroke-width="0.6"/>
<text x="472.10" y="198.40" font-size="7.8" text-anchor="start" fill="#1a1a1a" stroke="#1a1a1a" stroke-width="0.12" >CB2</text>
<rect x="493.45" y="194.15" width="3.10" height="3.10" fill="#ffffff" stroke="#555555" stroke-width="0.6" rx="0" />
<rect x="502.75" y="194.15" width="3.10" height="3.10" fill="#9a9a9a" stroke="#555555" stroke-width="0.6" rx="0" />
<rect x="511.05" y="194.15" width="3.10" height="3.10" fill="#111111" stroke="#111" stroke-width="0.6" rx="0" />
<text x="472.10" y="207.00" font-size="7.8" text-anchor="start" fill="#1a1a1a" stroke="#1a1a1a" stroke-width="0.12" >CB3</text>
<path d="M493.30,202.94L496.70,202.94L495.00,206.00Z" fill="#ffffff" stroke="#555555" stroke-width="0.6"/>
<path d="M502.60,202.94L506.00,202.94L504.30,206.00Z" fill="#9a9a9a" stroke="#555555" stroke-width="0.6"/>
<path d="M510.90,202.94L514.30,202.94L512.60,206.00Z" fill="#111111" stroke="#111" stroke-width="0.6"/>
<text x="1.20" y="288.90" font-size="11" text-anchor="start" fill="#000" font-weight="bold" >E</text>
<defs><radialGradient id="d33" cx="0.5" cy="0.5" r="0.5"><stop offset="0" stop-color="#9a9a9a" stop-opacity="0.85"/><stop offset="0.6" stop-color="#bdbdbd" stop-opacity="0.5"/><stop offset="1" stop-color="#e0e0e0" stop-opacity="0"/></radialGradient><radialGradient id="d19" cx="0.5" cy="0.5" r="0.5"><stop offset="0" stop-color="#c4c4c4" stop-opacity="0.7"/><stop offset="1" stop-color="#e8e8e8" stop-opacity="0"/></radialGradient></defs>
<rect x="17.80" y="311.40" width="59.70" height="61.20" fill="#ffffff" stroke="#c8c8c8" stroke-width="0.6" rx="0" />
<ellipse cx="57" cy="361.5" rx="22" ry="7" fill="url(#d33)" transform="rotate(-5 57 361.5)"/>
<ellipse cx="28" cy="336" rx="8" ry="15" fill="url(#d19)" transform="rotate(30 28 336)" opacity="0.75"/>
<rect x="23.7" y="339.4" width="0.7" height="0.7" fill="#777" fill-opacity="0.5"/><rect x="30.1" y="330.7" width="0.7" height="0.7" fill="#777" fill-opacity="0.5"/><rect x="25.3" y="329.0" width="0.7" height="0.7" fill="#777" fill-opacity="0.5"/><rect x="32.2" y="344.0" width="0.7" height="0.7" fill="#777" fill-opacity="0.5"/><rect x="33.1" y="341.8" width="0.7" height="0.7" fill="#777" fill-opacity="0.5"/><rect x="29.9" y="338.6" width="0.7" height="0.7" fill="#777" fill-opacity="0.5"/><rect x="28.2" y="342.3" width="0.7" height="0.7" fill="#777" fill-opacity="0.5"/><rect x="27.4" y="326.4" width="0.7" height="0.7" fill="#777" fill-opacity="0.5"/><rect x="31.1" y="335.7" width="0.7" height="0.7" fill="#777" fill-opacity="0.5"/><rect x="36.8" y="330.3" width="0.7" height="0.7" fill="#777" fill-opacity="0.5"/><rect x="27.8" y="340.4" width="0.7" height="0.7" fill="#777" fill-opacity="0.5"/><rect x="23.3" y="350.0" width="0.7" height="0.7" fill="#777" fill-opacity="0.5"/><rect x="31.0" y="324.6" width="0.7" height="0.7" fill="#777" fill-opacity="0.5"/><rect x="27.8" y="332.5" width="0.7" height="0.7" fill="#777" fill-opacity="0.5"/><rect x="30.8" y="340.2" width="0.7" height="0.7" fill="#777" fill-opacity="0.5"/><rect x="33.6" y="323.0" width="0.7" height="0.7" fill="#777" fill-opacity="0.5"/><rect x="22.5" y="334.4" width="0.7" height="0.7" fill="#777" fill-opacity="0.5"/><rect x="42.6" y="320.8" width="0.7" height="0.7" fill="#777" fill-opacity="0.5"/><rect x="19.5" y="349.1" width="0.7" height="0.7" fill="#777" fill-opacity="0.5"/><rect x="19.8" y="323.5" width="0.7" height="0.7" fill="#777" fill-opacity="0.5"/><rect x="34.5" y="325.9" width="0.7" height="0.7" fill="#777" fill-opacity="0.5"/><rect x="32.3" y="336.3" width="0.7" height="0.7" fill="#777" fill-opacity="0.5"/><rect x="25.8" y="347.8" width="0.7" height="0.7" fill="#777" fill-opacity="0.5"/><rect x="34.6" y="344.6" width="0.7" height="0.7" fill="#777" fill-opacity="0.5"/><rect x="39.4" y="321.6" width="0.7" height="0.7" fill="#777" fill-opacity="0.5"/><rect x="37.1" y="331.0" width="0.7" height="0.7" fill="#777" fill-opacity="0.5"/><rect x="35.8" y="319.7" width="0.7" height="0.7" fill="#777" fill-opacity="0.5"/><rect x="27.4" y="325.5" width="0.7" height="0.7" fill="#777" fill-opacity="0.5"/><rect x="51.5" y="318.5" width="0.7" height="0.7" fill="#777" fill-opacity="0.5"/><rect x="18.9" y="331.7" width="0.7" height="0.7" fill="#777" fill-opacity="0.5"/><rect x="33.0" y="347.0" width="0.7" height="0.7" fill="#777" fill-opacity="0.5"/><rect x="36.5" y="328.6" width="0.7" height="0.7" fill="#777" fill-opacity="0.5"/><rect x="34.1" y="341.1" width="0.7" height="0.7" fill="#777" fill-opacity="0.5"/><rect x="27.2" y="340.6" width="0.7" height="0.7" fill="#777" fill-opacity="0.5"/><rect x="33.5" y="348.0" width="0.7" height="0.7" fill="#777" fill-opacity="0.5"/><rect x="27.9" y="342.9" width="0.7" height="0.7" fill="#777" fill-opacity="0.5"/><rect x="30.5" y="344.5" width="0.7" height="0.7" fill="#777" fill-opacity="0.5"/><rect x="22.4" y="320.3" width="0.7" height="0.7" fill="#777" fill-opacity="0.5"/><rect x="47.3" y="319.1" width="0.7" height="0.7" fill="#777" fill-opacity="0.5"/><rect x="20.3" y="345.1" width="0.7" height="0.7" fill="#777" fill-opacity="0.5"/><rect x="33.3" y="335.6" width="0.7" height="0.7" fill="#777" fill-opacity="0.5"/><rect x="26.0" y="343.2" width="0.7" height="0.7" fill="#777" fill-opacity="0.5"/><rect x="21.1" y="347.7" width="0.7" height="0.7" fill="#777" fill-opacity="0.5"/><rect x="28.3" y="327.9" width="0.7" height="0.7" fill="#777" fill-opacity="0.5"/><rect x="34.8" y="339.5" width="0.7" height="0.7" fill="#777" fill-opacity="0.5"/><rect x="40.7" y="336.1" width="0.7" height="0.7" fill="#777" fill-opacity="0.5"/><rect x="22.1" y="328.0" width="0.7" height="0.7" fill="#777" fill-opacity="0.5"/><rect x="30.4" y="331.2" width="0.7" height="0.7" fill="#777" fill-opacity="0.5"/><rect x="44.7" y="329.7" width="0.7" height="0.7" fill="#777" fill-opacity="0.5"/><rect x="45.7" y="326.6" width="0.7" height="0.7" fill="#777" fill-opacity="0.5"/><rect x="19.8" y="338.6" width="0.7" height="0.7" fill="#777" fill-opacity="0.5"/><rect x="29.1" y="348.7" width="0.7" height="0.7" fill="#777" fill-opacity="0.5"/><rect x="29.9" y="337.9" width="0.7" height="0.7" fill="#777" fill-opacity="0.5"/><rect x="25.6" y="341.7" width="0.7" height="0.7" fill="#777" fill-opacity="0.5"/><rect x="25.9" y="337.2" width="0.7" height="0.7" fill="#777" fill-opacity="0.5"/><rect x="32.3" y="337.3" width="0.7" height="0.7" fill="#777" fill-opacity="0.5"/><rect x="29.2" y="344.1" width="0.7" height="0.7" fill="#777" fill-opacity="0.5"/><rect x="38.1" y="346.5" width="0.7" height="0.7" fill="#777" fill-opacity="0.5"/><rect x="29.3" y="329.3" width="0.7" height="0.7" fill="#777" fill-opacity="0.5"/><rect x="22.0" y="344.8" width="0.7" height="0.7" fill="#777" fill-opacity="0.5"/><rect x="24.2" y="337.8" width="0.7" height="0.7" fill="#777" fill-opacity="0.5"/><rect x="20.7" y="333.1" width="0.7" height="0.7" fill="#777" fill-opacity="0.5"/><rect x="29.5" y="339.1" width="0.7" height="0.7" fill="#777" fill-opacity="0.5"/><rect x="21.6" y="340.2" width="0.7" height="0.7" fill="#777" fill-opacity="0.5"/><rect x="34.5" y="330.6" width="0.7" height="0.7" fill="#777" fill-opacity="0.5"/><rect x="26.6" y="331.7" width="0.7" height="0.7" fill="#777" fill-opacity="0.5"/><rect x="28.2" y="333.4" width="0.7" height="0.7" fill="#777" fill-opacity="0.5"/><rect x="43.5" y="326.6" width="0.7" height="0.7" fill="#777" fill-opacity="0.5"/><rect x="21.5" y="344.9" width="0.7" height="0.7" fill="#777" fill-opacity="0.5"/><rect x="21.9" y="324.4" width="0.7" height="0.7" fill="#777" fill-opacity="0.5"/><rect x="22.4" y="340.3" width="0.7" height="0.7" fill="#777" fill-opacity="0.5"/><rect x="46.0" y="324.0" width="0.7" height="0.7" fill="#777" fill-opacity="0.5"/><rect x="44.0" y="321.9" width="0.7" height="0.7" fill="#777" fill-opacity="0.5"/><rect x="21.1" y="348.4" width="0.7" height="0.7" fill="#777" fill-opacity="0.5"/><rect x="26.7" y="336.4" width="0.7" height="0.7" fill="#777" fill-opacity="0.5"/><rect x="32.5" y="339.7" width="0.7" height="0.7" fill="#777" fill-opacity="0.5"/><rect x="37.2" y="336.1" width="0.7" height="0.7" fill="#777" fill-opacity="0.5"/><rect x="36.2" y="335.8" width="0.7" height="0.7" fill="#777" fill-opacity="0.5"/><rect x="24.5" y="343.0" width="0.7" height="0.7" fill="#777" fill-opacity="0.5"/><rect x="25.5" y="342.7" width="0.7" height="0.7" fill="#777" fill-opacity="0.5"/><rect x="31.5" y="312.8" width="0.7" height="0.7" fill="#777" fill-opacity="0.5"/><rect x="39.7" y="327.2" width="0.7" height="0.7" fill="#777" fill-opacity="0.5"/><rect x="34.1" y="315.2" width="0.7" height="0.7" fill="#777" fill-opacity="0.5"/><rect x="30.7" y="348.0" width="0.7" height="0.7" fill="#777" fill-opacity="0.5"/><rect x="44.4" y="330.9" width="0.7" height="0.7" fill="#777" fill-opacity="0.5"/><rect x="37.5" y="322.9" width="0.7" height="0.7" fill="#777" fill-opacity="0.5"/><rect x="36.0" y="337.1" width="0.7" height="0.7" fill="#777" fill-opacity="0.5"/><rect x="32.9" y="328.2" width="0.7" height="0.7" fill="#777" fill-opacity="0.5"/><rect x="28.2" y="341.0" width="0.7" height="0.7" fill="#777" fill-opacity="0.5"/><rect x="45.2" y="330.2" width="0.7" height="0.7" fill="#777" fill-opacity="0.5"/><rect x="38.7" y="338.9" width="0.7" height="0.7" fill="#777" fill-opacity="0.5"/><rect x="28.7" y="336.8" width="0.7" height="0.7" fill="#777" fill-opacity="0.5"/><rect x="39.1" y="337.9" width="0.7" height="0.7" fill="#777" fill-opacity="0.5"/><rect x="35.4" y="329.8" width="0.7" height="0.7" fill="#777" fill-opacity="0.5"/><rect x="22.7" y="343.8" width="0.7" height="0.7" fill="#777" fill-opacity="0.5"/><rect x="19.6" y="349.4" width="0.7" height="0.7" fill="#777" fill-opacity="0.5"/><rect x="20.9" y="345.8" width="0.7" height="0.7" fill="#777" fill-opacity="0.5"/><rect x="26.3" y="315.9" width="0.7" height="0.7" fill="#777" fill-opacity="0.5"/><rect x="22.0" y="329.9" width="0.7" height="0.7" fill="#777" fill-opacity="0.5"/><rect x="28.1" y="333.9" width="0.7" height="0.7" fill="#777" fill-opacity="0.5"/><rect x="23.9" y="335.1" width="0.7" height="0.7" fill="#777" fill-opacity="0.5"/><rect x="38.9" y="342.7" width="0.7" height="0.7" fill="#777" fill-opacity="0.5"/><rect x="24.6" y="347.8" width="0.7" height="0.7" fill="#777" fill-opacity="0.5"/><rect x="37.3" y="320.8" width="0.7" height="0.7" fill="#777" fill-opacity="0.5"/><rect x="24.0" y="322.0" width="0.7" height="0.7" fill="#777" fill-opacity="0.5"/><rect x="28.9" y="347.5" width="0.7" height="0.7" fill="#777" fill-opacity="0.5"/><rect x="23.0" y="343.6" width="0.7" height="0.7" fill="#777" fill-opacity="0.5"/><rect x="38.7" y="323.1" width="0.7" height="0.7" fill="#777" fill-opacity="0.5"/><rect x="24.8" y="321.9" width="0.7" height="0.7" fill="#777" fill-opacity="0.5"/><rect x="38.5" y="332.7" width="0.7" height="0.7" fill="#777" fill-opacity="0.5"/><rect x="29.6" y="323.2" width="0.7" height="0.7" fill="#777" fill-opacity="0.5"/><rect x="21.1" y="327.6" width="0.7" height="0.7" fill="#777" fill-opacity="0.5"/><rect x="19.5" y="334.1" width="0.7" height="0.7" fill="#777" fill-opacity="0.5"/><rect x="35.2" y="335.0" width="0.7" height="0.7" fill="#777" fill-opacity="0.5"/><rect x="22.7" y="316.7" width="0.7" height="0.7" fill="#777" fill-opacity="0.5"/><rect x="34.1" y="331.3" width="0.7" height="0.7" fill="#777" fill-opacity="0.5"/><rect x="27.9" y="346.1" width="0.7" height="0.7" fill="#777" fill-opacity="0.5"/><rect x="30.4" y="341.2" width="0.7" height="0.7" fill="#777" fill-opacity="0.5"/><rect x="31.7" y="347.4" width="0.7" height="0.7" fill="#777" fill-opacity="0.5"/><rect x="47.1" y="314.6" width="0.7" height="0.7" fill="#777" fill-opacity="0.5"/><rect x="24.4" y="352.5" width="0.7" height="0.7" fill="#777" fill-opacity="0.5"/><rect x="30.8" y="328.8" width="0.7" height="0.7" fill="#777" fill-opacity="0.5"/><rect x="40.7" y="341.3" width="0.7" height="0.7" fill="#777" fill-opacity="0.5"/><rect x="25.5" y="346.9" width="0.7" height="0.7" fill="#777" fill-opacity="0.5"/><rect x="24.5" y="330.4" width="0.7" height="0.7" fill="#777" fill-opacity="0.5"/><rect x="24.5" y="345.0" width="0.7" height="0.7" fill="#777" fill-opacity="0.5"/><rect x="30.3" y="332.8" width="0.7" height="0.7" fill="#777" fill-opacity="0.5"/><rect x="25.9" y="327.1" width="0.7" height="0.7" fill="#777" fill-opacity="0.5"/><rect x="33.4" y="339.7" width="0.7" height="0.7" fill="#777" fill-opacity="0.5"/><rect x="30.4" y="322.6" width="0.7" height="0.7" fill="#777" fill-opacity="0.5"/><rect x="29.0" y="342.6" width="0.7" height="0.7" fill="#777" fill-opacity="0.5"/><rect x="35.5" y="346.3" width="0.7" height="0.7" fill="#777" fill-opacity="0.5"/><rect x="24.7" y="340.3" width="0.7" height="0.7" fill="#777" fill-opacity="0.5"/><rect x="36.1" y="328.8" width="0.7" height="0.7" fill="#777" fill-opacity="0.5"/><rect x="25.9" y="322.3" width="0.7" height="0.7" fill="#777" fill-opacity="0.5"/><rect x="29.3" y="338.1" width="0.7" height="0.7" fill="#777" fill-opacity="0.5"/><rect x="34.0" y="323.0" width="0.7" height="0.7" fill="#777" fill-opacity="0.5"/><rect x="32.2" y="315.9" width="0.7" height="0.7" fill="#777" fill-opacity="0.5"/><rect x="31.4" y="352.4" width="0.7" height="0.7" fill="#777" fill-opacity="0.5"/><rect x="33.4" y="350.9" width="0.7" height="0.7" fill="#777" fill-opacity="0.5"/><rect x="22.1" y="334.3" width="0.7" height="0.7" fill="#777" fill-opacity="0.5"/><rect x="22.2" y="318.4" width="0.7" height="0.7" fill="#777" fill-opacity="0.5"/><rect x="24.8" y="340.3" width="0.7" height="0.7" fill="#777" fill-opacity="0.5"/><rect x="25.8" y="330.8" width="0.7" height="0.7" fill="#777" fill-opacity="0.5"/><rect x="28.8" y="340.9" width="0.7" height="0.7" fill="#777" fill-opacity="0.5"/><rect x="31.1" y="339.8" width="0.7" height="0.7" fill="#777" fill-opacity="0.5"/><rect x="21.3" y="342.1" width="0.7" height="0.7" fill="#777" fill-opacity="0.5"/><rect x="35.4" y="326.4" width="0.7" height="0.7" fill="#777" fill-opacity="0.5"/><rect x="25.4" y="332.5" width="0.7" height="0.7" fill="#777" fill-opacity="0.5"/><rect x="27.2" y="336.2" width="0.7" height="0.7" fill="#777" fill-opacity="0.5"/><rect x="27.7" y="336.9" width="0.7" height="0.7" fill="#777" fill-opacity="0.5"/><rect x="37.6" y="321.1" width="0.7" height="0.7" fill="#777" fill-opacity="0.5"/><rect x="23.6" y="347.9" width="0.7" height="0.7" fill="#777" fill-opacity="0.5"/><rect x="32.9" y="334.7" width="0.7" height="0.7" fill="#777" fill-opacity="0.5"/><rect x="38.8" y="326.5" width="0.7" height="0.7" fill="#777" fill-opacity="0.5"/><rect x="37.0" y="318.9" width="0.7" height="0.7" fill="#777" fill-opacity="0.5"/><rect x="20.7" y="337.5" width="0.7" height="0.7" fill="#777" fill-opacity="0.5"/><rect x="30.5" y="338.9" width="0.7" height="0.7" fill="#777" fill-opacity="0.5"/><rect x="32.2" y="348.5" width="0.7" height="0.7" fill="#777" fill-opacity="0.5"/><rect x="24.4" y="341.3" width="0.7" height="0.7" fill="#777" fill-opacity="0.5"/><rect x="31.2" y="352.0" width="0.7" height="0.7" fill="#777" fill-opacity="0.5"/><rect x="42.9" y="327.6" width="0.7" height="0.7" fill="#777" fill-opacity="0.5"/><rect x="22.7" y="342.2" width="0.7" height="0.7" fill="#777" fill-opacity="0.5"/><rect x="19.3" y="345.2" width="0.7" height="0.7" fill="#777" fill-opacity="0.5"/><rect x="25.6" y="347.1" width="0.7" height="0.7" fill="#777" fill-opacity="0.5"/><rect x="37.7" y="337.7" width="0.7" height="0.7" fill="#777" fill-opacity="0.5"/><rect x="20.5" y="342.9" width="0.7" height="0.7" fill="#777" fill-opacity="0.5"/><rect x="34.6" y="339.0" width="0.7" height="0.7" fill="#777" fill-opacity="0.5"/><rect x="20.9" y="332.3" width="0.7" height="0.7" fill="#777" fill-opacity="0.5"/><rect x="22.6" y="348.5" width="0.7" height="0.7" fill="#777" fill-opacity="0.5"/><rect x="33.3" y="338.4" width="0.7" height="0.7" fill="#777" fill-opacity="0.5"/><rect x="29.9" y="344.2" width="0.7" height="0.7" fill="#777" fill-opacity="0.5"/><rect x="29.8" y="336.4" width="0.7" height="0.7" fill="#777" fill-opacity="0.5"/><rect x="22.5" y="341.3" width="0.7" height="0.7" fill="#777" fill-opacity="0.5"/><rect x="27.6" y="324.1" width="0.7" height="0.7" fill="#777" fill-opacity="0.5"/><rect x="39.9" y="319.4" width="0.7" height="0.7" fill="#777" fill-opacity="0.5"/><rect x="20.8" y="338.3" width="0.7" height="0.7" fill="#777" fill-opacity="0.5"/><rect x="32.7" y="336.7" width="0.7" height="0.7" fill="#777" fill-opacity="0.5"/><rect x="38.2" y="319.0" width="0.7" height="0.7" fill="#777" fill-opacity="0.5"/><rect x="35.6" y="347.8" width="0.7" height="0.7" fill="#777" fill-opacity="0.5"/><rect x="41.8" y="330.0" width="0.7" height="0.7" fill="#777" fill-opacity="0.5"/><rect x="41.5" y="314.9" width="0.7" height="0.7" fill="#777" fill-opacity="0.5"/><rect x="26.5" y="348.1" width="0.7" height="0.7" fill="#777" fill-opacity="0.5"/><rect x="45.8" y="318.8" width="0.7" height="0.7" fill="#777" fill-opacity="0.5"/><rect x="26.5" y="316.3" width="0.7" height="0.7" fill="#777" fill-opacity="0.5"/><rect x="35.9" y="317.5" width="0.7" height="0.7" fill="#777" fill-opacity="0.5"/><rect x="27.3" y="337.8" width="0.7" height="0.7" fill="#777" fill-opacity="0.5"/><rect x="27.4" y="345.0" width="0.7" height="0.7" fill="#777" fill-opacity="0.5"/><rect x="28.9" y="353.4" width="0.7" height="0.7" fill="#777" fill-opacity="0.5"/><rect x="25.2" y="324.4" width="0.7" height="0.7" fill="#777" fill-opacity="0.5"/><rect x="30.9" y="319.3" width="0.7" height="0.7" fill="#777" fill-opacity="0.5"/><rect x="28.5" y="334.7" width="0.7" height="0.7" fill="#777" fill-opacity="0.5"/><rect x="43.6" y="320.1" width="0.7" height="0.7" fill="#777" fill-opacity="0.5"/><rect x="22.1" y="329.8" width="0.7" height="0.7" fill="#777" fill-opacity="0.5"/><rect x="30.2" y="330.9" width="0.7" height="0.7" fill="#777" fill-opacity="0.5"/><rect x="34.3" y="326.7" width="0.7" height="0.7" fill="#777" fill-opacity="0.5"/><rect x="30.4" y="341.6" width="0.7" height="0.7" fill="#777" fill-opacity="0.5"/><rect x="33.5" y="327.5" width="0.7" height="0.7" fill="#777" fill-opacity="0.5"/><rect x="23.1" y="331.5" width="0.7" height="0.7" fill="#777" fill-opacity="0.5"/><rect x="18.9" y="331.1" width="0.7" height="0.7" fill="#777" fill-opacity="0.5"/><rect x="40.1" y="320.9" width="0.7" height="0.7" fill="#777" fill-opacity="0.5"/><rect x="29.9" y="330.7" width="0.7" height="0.7" fill="#777" fill-opacity="0.5"/><rect x="27.1" y="343.4" width="0.7" height="0.7" fill="#777" fill-opacity="0.5"/><rect x="35.1" y="325.8" width="0.7" height="0.7" fill="#777" fill-opacity="0.5"/><rect x="28.7" y="333.7" width="0.7" height="0.7" fill="#777" fill-opacity="0.5"/><rect x="31.0" y="341.1" width="0.7" height="0.7" fill="#777" fill-opacity="0.5"/><rect x="35.0" y="317.7" width="0.7" height="0.7" fill="#777" fill-opacity="0.5"/><rect x="32.4" y="325.6" width="0.7" height="0.7" fill="#777" fill-opacity="0.5"/><rect x="23.5" y="329.3" width="0.7" height="0.7" fill="#777" fill-opacity="0.5"/><rect x="25.4" y="334.2" width="0.7" height="0.7" fill="#777" fill-opacity="0.5"/><rect x="35.1" y="332.7" width="0.7" height="0.7" fill="#777" fill-opacity="0.5"/><rect x="44.7" y="340.9" width="0.7" height="0.7" fill="#777" fill-opacity="0.5"/><rect x="34.4" y="340.7" width="0.7" height="0.7" fill="#777" fill-opacity="0.5"/><rect x="22.8" y="334.6" width="0.7" height="0.7" fill="#777" fill-opacity="0.5"/><rect x="21.3" y="349.9" width="0.7" height="0.7" fill="#777" fill-opacity="0.5"/><rect x="26.3" y="348.2" width="0.7" height="0.7" fill="#777" fill-opacity="0.5"/><rect x="33.1" y="335.4" width="0.7" height="0.7" fill="#777" fill-opacity="0.5"/><rect x="40.0" y="325.6" width="0.7" height="0.7" fill="#777" fill-opacity="0.5"/><rect x="43.4" y="328.9" width="0.7" height="0.7" fill="#777" fill-opacity="0.5"/><rect x="27.6" y="334.3" width="0.7" height="0.7" fill="#777" fill-opacity="0.5"/><rect x="35.5" y="339.9" width="0.7" height="0.7" fill="#777" fill-opacity="0.5"/><rect x="22.4" y="334.5" width="0.7" height="0.7" fill="#777" fill-opacity="0.5"/><rect x="27.0" y="344.9" width="0.7" height="0.7" fill="#777" fill-opacity="0.5"/><rect x="38.4" y="341.9" width="0.7" height="0.7" fill="#777" fill-opacity="0.5"/><rect x="33.7" y="331.5" width="0.7" height="0.7" fill="#777" fill-opacity="0.5"/><rect x="42.4" y="333.2" width="0.7" height="0.7" fill="#777" fill-opacity="0.5"/><rect x="36.4" y="332.6" width="0.7" height="0.7" fill="#777" fill-opacity="0.5"/><rect x="19.7" y="339.9" width="0.7" height="0.7" fill="#777" fill-opacity="0.5"/><rect x="36.7" y="340.2" width="0.7" height="0.7" fill="#777" fill-opacity="0.5"/><rect x="19.1" y="340.9" width="0.7" height="0.7" fill="#777" fill-opacity="0.5"/><rect x="26.4" y="338.1" width="0.7" height="0.7" fill="#777" fill-opacity="0.5"/><rect x="29.3" y="353.2" width="0.7" height="0.7" fill="#777" fill-opacity="0.5"/><rect x="23.2" y="343.4" width="0.7" height="0.7" fill="#777" fill-opacity="0.5"/><rect x="25.6" y="331.9" width="0.7" height="0.7" fill="#777" fill-opacity="0.5"/><rect x="45.9" y="327.5" width="0.7" height="0.7" fill="#777" fill-opacity="0.5"/><rect x="39.2" y="334.8" width="0.7" height="0.7" fill="#777" fill-opacity="0.5"/><rect x="31.0" y="331.4" width="0.7" height="0.7" fill="#777" fill-opacity="0.5"/><rect x="36.4" y="322.9" width="0.7" height="0.7" fill="#777" fill-opacity="0.5"/><rect x="39.9" y="319.8" width="0.7" height="0.7" fill="#777" fill-opacity="0.5"/><rect x="26.3" y="338.0" width="0.7" height="0.7" fill="#777" fill-opacity="0.5"/><rect x="30.3" y="361.8" width="0.7" height="0.7" fill="#888" fill-opacity="0.5"/><rect x="23.5" y="363.8" width="0.7" height="0.7" fill="#888" fill-opacity="0.5"/><rect x="25.6" y="370.8" width="0.7" height="0.7" fill="#888" fill-opacity="0.5"/><rect x="31.8" y="362.4" width="0.7" height="0.7" fill="#888" fill-opacity="0.5"/><rect x="25.6" y="359.5" width="0.7" height="0.7" fill="#888" fill-opacity="0.5"/><rect x="23.3" y="361.2" width="0.7" height="0.7" fill="#888" fill-opacity="0.5"/><rect x="29.5" y="365.6" width="0.7" height="0.7" fill="#888" fill-opacity="0.5"/><rect x="24.5" y="363.1" width="0.7" height="0.7" fill="#888" fill-opacity="0.5"/><rect x="25.4" y="363.8" width="0.7" height="0.7" fill="#888" fill-opacity="0.5"/><rect x="28.8" y="365.0" width="0.7" height="0.7" fill="#888" fill-opacity="0.5"/><rect x="26.8" y="364.8" width="0.7" height="0.7" fill="#888" fill-opacity="0.5"/><rect x="28.3" y="366.9" width="0.7" height="0.7" fill="#888" fill-opacity="0.5"/><rect x="28.0" y="357.8" width="0.7" height="0.7" fill="#888" fill-opacity="0.5"/><rect x="22.8" y="366.1" width="0.7" height="0.7" fill="#888" fill-opacity="0.5"/><rect x="24.8" y="366.2" width="0.7" height="0.7" fill="#888" fill-opacity="0.5"/><rect x="31.7" y="364.5" width="0.7" height="0.7" fill="#888" fill-opacity="0.5"/><rect x="30.5" y="362.5" width="0.7" height="0.7" fill="#888" fill-opacity="0.5"/><rect x="21.0" y="362.8" width="0.7" height="0.7" fill="#888" fill-opacity="0.5"/><rect x="30.3" y="360.4" width="0.7" height="0.7" fill="#888" fill-opacity="0.5"/><rect x="27.5" y="366.7" width="0.7" height="0.7" fill="#888" fill-opacity="0.5"/><rect x="23.6" y="366.2" width="0.7" height="0.7" fill="#888" fill-opacity="0.5"/><rect x="28.7" y="362.2" width="0.7" height="0.7" fill="#888" fill-opacity="0.5"/><rect x="32.5" y="359.5" width="0.7" height="0.7" fill="#888" fill-opacity="0.5"/><rect x="27.9" y="363.0" width="0.7" height="0.7" fill="#888" fill-opacity="0.5"/><rect x="19.1" y="370.2" width="0.7" height="0.7" fill="#888" fill-opacity="0.5"/><rect x="31.7" y="362.3" width="0.7" height="0.7" fill="#888" fill-opacity="0.5"/><rect x="30.2" y="364.8" width="0.7" height="0.7" fill="#888" fill-opacity="0.5"/><rect x="20.5" y="361.9" width="0.7" height="0.7" fill="#888" fill-opacity="0.5"/><rect x="22.9" y="356.2" width="0.7" height="0.7" fill="#888" fill-opacity="0.5"/><rect x="21.9" y="364.7" width="0.7" height="0.7" fill="#888" fill-opacity="0.5"/><rect x="25.4" y="359.6" width="0.7" height="0.7" fill="#888" fill-opacity="0.5"/><rect x="30.6" y="365.7" width="0.7" height="0.7" fill="#888" fill-opacity="0.5"/><rect x="22.9" y="357.2" width="0.7" height="0.7" fill="#888" fill-opacity="0.5"/><rect x="29.5" y="364.2" width="0.7" height="0.7" fill="#888" fill-opacity="0.5"/><rect x="21.5" y="362.0" width="0.7" height="0.7" fill="#888" fill-opacity="0.5"/><rect x="25.3" y="365.3" width="0.7" height="0.7" fill="#888" fill-opacity="0.5"/><rect x="27.4" y="362.6" width="0.7" height="0.7" fill="#888" fill-opacity="0.5"/><rect x="26.2" y="368.3" width="0.7" height="0.7" fill="#888" fill-opacity="0.5"/><rect x="32.2" y="359.2" width="0.7" height="0.7" fill="#888" fill-opacity="0.5"/><rect x="28.4" y="366.7" width="0.7" height="0.7" fill="#888" fill-opacity="0.5"/><rect x="27.6" y="364.0" width="0.7" height="0.7" fill="#888" fill-opacity="0.5"/><rect x="20.5" y="363.1" width="0.7" height="0.7" fill="#888" fill-opacity="0.5"/><rect x="24.6" y="364.9" width="0.7" height="0.7" fill="#888" fill-opacity="0.5"/><rect x="28.2" y="364.3" width="0.7" height="0.7" fill="#888" fill-opacity="0.5"/><rect x="25.3" y="367.4" width="0.7" height="0.7" fill="#888" fill-opacity="0.5"/><rect x="26.6" y="360.0" width="0.7" height="0.7" fill="#888" fill-opacity="0.5"/><rect x="30.4" y="355.2" width="0.7" height="0.7" fill="#888" fill-opacity="0.5"/><rect x="24.6" y="362.9" width="0.7" height="0.7" fill="#888" fill-opacity="0.5"/><rect x="32.2" y="362.2" width="0.7" height="0.7" fill="#888" fill-opacity="0.5"/><rect x="29.5" y="359.7" width="0.7" height="0.7" fill="#888" fill-opacity="0.5"/><rect x="29.5" y="371.3" width="0.7" height="0.7" fill="#888" fill-opacity="0.5"/><rect x="24.8" y="363.1" width="0.7" height="0.7" fill="#888" fill-opacity="0.5"/><rect x="28.9" y="368.1" width="0.7" height="0.7" fill="#888" fill-opacity="0.5"/><rect x="31.0" y="367.0" width="0.7" height="0.7" fill="#888" fill-opacity="0.5"/><rect x="29.0" y="364.3" width="0.7" height="0.7" fill="#888" fill-opacity="0.5"/><rect x="32.6" y="364.8" width="0.7" height="0.7" fill="#888" fill-opacity="0.5"/><rect x="32.1" y="361.1" width="0.7" height="0.7" fill="#888" fill-opacity="0.5"/><rect x="28.0" y="361.7" width="0.7" height="0.7" fill="#888" fill-opacity="0.5"/><rect x="25.5" y="358.8" width="0.7" height="0.7" fill="#888" fill-opacity="0.5"/><rect x="24.8" y="366.2" width="0.7" height="0.7" fill="#888" fill-opacity="0.5"/><rect x="57.6" y="361.7" width="0.7" height="0.7" fill="#666" fill-opacity="0.45"/><rect x="54.8" y="365.8" width="0.7" height="0.7" fill="#666" fill-opacity="0.45"/><rect x="64.3" y="360.2" width="0.7" height="0.7" fill="#666" fill-opacity="0.45"/><rect x="66.9" y="360.0" width="0.7" height="0.7" fill="#666" fill-opacity="0.45"/><rect x="40.3" y="369.5" width="0.7" height="0.7" fill="#666" fill-opacity="0.45"/><rect x="63.6" y="356.6" width="0.7" height="0.7" fill="#666" fill-opacity="0.45"/><rect x="73.3" y="361.6" width="0.7" height="0.7" fill="#666" fill-opacity="0.45"/><rect x="62.3" y="365.1" width="0.7" height="0.7" fill="#666" fill-opacity="0.45"/><rect x="59.9" y="360.6" width="0.7" height="0.7" fill="#666" fill-opacity="0.45"/><rect x="57.3" y="360.2" width="0.7" height="0.7" fill="#666" fill-opacity="0.45"/><rect x="62.3" y="361.4" width="0.7" height="0.7" fill="#666" fill-opacity="0.45"/><rect x="67.0" y="359.0" width="0.7" height="0.7" fill="#666" fill-opacity="0.45"/><rect x="55.6" y="352.0" width="0.7" height="0.7" fill="#666" fill-opacity="0.45"/><rect x="50.9" y="365.1" width="0.7" height="0.7" fill="#666" fill-opacity="0.45"/><rect x="55.8" y="368.8" width="0.7" height="0.7" fill="#666" fill-opacity="0.45"/><rect x="52.4" y="365.2" width="0.7" height="0.7" fill="#666" fill-opacity="0.45"/><rect x="75.1" y="356.7" width="0.7" height="0.7" fill="#666" fill-opacity="0.45"/><rect x="60.1" y="360.9" width="0.7" height="0.7" fill="#666" fill-opacity="0.45"/><rect x="59.2" y="366.4" width="0.7" height="0.7" fill="#666" fill-opacity="0.45"/><rect x="48.6" y="364.5" width="0.7" height="0.7" fill="#666" fill-opacity="0.45"/><rect x="41.4" y="365.1" width="0.7" height="0.7" fill="#666" fill-opacity="0.45"/><rect x="65.4" y="359.5" width="0.7" height="0.7" fill="#666" fill-opacity="0.45"/><rect x="64.3" y="353.9" width="0.7" height="0.7" fill="#666" fill-opacity="0.45"/><rect x="67.7" y="353.6" width="0.7" height="0.7" fill="#666" fill-opacity="0.45"/><rect x="46.4" y="359.9" width="0.7" height="0.7" fill="#666" fill-opacity="0.45"/><rect x="51.3" y="365.9" width="0.7" height="0.7" fill="#666" fill-opacity="0.45"/><rect x="58.1" y="359.6" width="0.7" height="0.7" fill="#666" fill-opacity="0.45"/><rect x="65.7" y="367.9" width="0.7" height="0.7" fill="#666" fill-opacity="0.45"/><rect x="57.2" y="363.1" width="0.7" height="0.7" fill="#666" fill-opacity="0.45"/><rect x="75.6" y="361.1" width="0.7" height="0.7" fill="#666" fill-opacity="0.45"/><rect x="56.6" y="363.4" width="0.7" height="0.7" fill="#666" fill-opacity="0.45"/><rect x="71.7" y="363.2" width="0.7" height="0.7" fill="#666" fill-opacity="0.45"/><rect x="52.5" y="357.1" width="0.7" height="0.7" fill="#666" fill-opacity="0.45"/><rect x="58.9" y="366.0" width="0.7" height="0.7" fill="#666" fill-opacity="0.45"/><rect x="40.3" y="358.3" width="0.7" height="0.7" fill="#666" fill-opacity="0.45"/><rect x="55.9" y="352.8" width="0.7" height="0.7" fill="#666" fill-opacity="0.45"/><rect x="52.9" y="359.9" width="0.7" height="0.7" fill="#666" fill-opacity="0.45"/><rect x="63.5" y="357.8" width="0.7" height="0.7" fill="#666" fill-opacity="0.45"/><rect x="43.7" y="360.9" width="0.7" height="0.7" fill="#666" fill-opacity="0.45"/><rect x="56.0" y="358.6" width="0.7" height="0.7" fill="#666" fill-opacity="0.45"/><rect x="57.5" y="364.8" width="0.7" height="0.7" fill="#666" fill-opacity="0.45"/><rect x="75.4" y="367.6" width="0.7" height="0.7" fill="#666" fill-opacity="0.45"/><rect x="45.1" y="360.6" width="0.7" height="0.7" fill="#666" fill-opacity="0.45"/><rect x="46.2" y="362.3" width="0.7" height="0.7" fill="#666" fill-opacity="0.45"/><rect x="64.3" y="354.7" width="0.7" height="0.7" fill="#666" fill-opacity="0.45"/><rect x="63.9" y="360.8" width="0.7" height="0.7" fill="#666" fill-opacity="0.45"/><rect x="74.1" y="351.6" width="0.7" height="0.7" fill="#666" fill-opacity="0.45"/><rect x="69.1" y="361.4" width="0.7" height="0.7" fill="#666" fill-opacity="0.45"/><rect x="64.3" y="362.9" width="0.7" height="0.7" fill="#666" fill-opacity="0.45"/><rect x="69.9" y="358.5" width="0.7" height="0.7" fill="#666" fill-opacity="0.45"/><rect x="67.6" y="356.9" width="0.7" height="0.7" fill="#666" fill-opacity="0.45"/><rect x="56.1" y="369.4" width="0.7" height="0.7" fill="#666" fill-opacity="0.45"/><rect x="63.6" y="360.2" width="0.7" height="0.7" fill="#666" fill-opacity="0.45"/><rect x="39.6" y="359.5" width="0.7" height="0.7" fill="#666" fill-opacity="0.45"/><rect x="60.3" y="365.5" width="0.7" height="0.7" fill="#666" fill-opacity="0.45"/><rect x="63.6" y="363.3" width="0.7" height="0.7" fill="#666" fill-opacity="0.45"/><rect x="56.9" y="367.6" width="0.7" height="0.7" fill="#666" fill-opacity="0.45"/><rect x="50.9" y="359.5" width="0.7" height="0.7" fill="#666" fill-opacity="0.45"/><rect x="70.3" y="360.6" width="0.7" height="0.7" fill="#666" fill-opacity="0.45"/><rect x="52.6" y="359.3" width="0.7" height="0.7" fill="#666" fill-opacity="0.45"/><rect x="53.4" y="364.6" width="0.7" height="0.7" fill="#666" fill-opacity="0.45"/><rect x="61.8" y="355.6" width="0.7" height="0.7" fill="#666" fill-opacity="0.45"/><rect x="63.4" y="361.7" width="0.7" height="0.7" fill="#666" fill-opacity="0.45"/><rect x="42.4" y="366.3" width="0.7" height="0.7" fill="#666" fill-opacity="0.45"/><rect x="52.7" y="360.4" width="0.7" height="0.7" fill="#666" fill-opacity="0.45"/><rect x="69.4" y="366.4" width="0.7" height="0.7" fill="#666" fill-opacity="0.45"/><rect x="46.9" y="364.4" width="0.7" height="0.7" fill="#666" fill-opacity="0.45"/><rect x="50.1" y="367.5" width="0.7" height="0.7" fill="#666" fill-opacity="0.45"/><rect x="47.6" y="366.0" width="0.7" height="0.7" fill="#666" fill-opacity="0.45"/><rect x="50.7" y="364.3" width="0.7" height="0.7" fill="#666" fill-opacity="0.45"/><rect x="55.4" y="358.6" width="0.7" height="0.7" fill="#666" fill-opacity="0.45"/><rect x="48.4" y="362.9" width="0.7" height="0.7" fill="#666" fill-opacity="0.45"/><rect x="75.9" y="360.4" width="0.7" height="0.7" fill="#666" fill-opacity="0.45"/><rect x="75.0" y="363.3" width="0.7" height="0.7" fill="#666" fill-opacity="0.45"/><rect x="45.1" y="366.4" width="0.7" height="0.7" fill="#666" fill-opacity="0.45"/><rect x="64.7" y="363.8" width="0.7" height="0.7" fill="#666" fill-opacity="0.45"/><rect x="70.7" y="363.6" width="0.7" height="0.7" fill="#666" fill-opacity="0.45"/><rect x="69.2" y="349.3" width="0.7" height="0.7" fill="#666" fill-opacity="0.45"/><rect x="59.7" y="363.5" width="0.7" height="0.7" fill="#666" fill-opacity="0.45"/><rect x="52.1" y="362.1" width="0.7" height="0.7" fill="#666" fill-opacity="0.45"/><rect x="70.1" y="358.4" width="0.7" height="0.7" fill="#666" fill-opacity="0.45"/><rect x="73.8" y="356.5" width="0.7" height="0.7" fill="#666" fill-opacity="0.45"/><rect x="60.8" y="358.8" width="0.7" height="0.7" fill="#666" fill-opacity="0.45"/><rect x="59.1" y="358.2" width="0.7" height="0.7" fill="#666" fill-opacity="0.45"/><rect x="61.3" y="358.6" width="0.7" height="0.7" fill="#666" fill-opacity="0.45"/><rect x="60.4" y="365.7" width="0.7" height="0.7" fill="#666" fill-opacity="0.45"/><rect x="42.4" y="362.3" width="0.7" height="0.7" fill="#666" fill-opacity="0.45"/><rect x="65.3" y="363.2" width="0.7" height="0.7" fill="#666" fill-opacity="0.45"/><rect x="51.2" y="352.5" width="0.7" height="0.7" fill="#666" fill-opacity="0.45"/><rect x="75.7" y="361.3" width="0.7" height="0.7" fill="#666" fill-opacity="0.45"/><rect x="57.1" y="360.2" width="0.7" height="0.7" fill="#666" fill-opacity="0.45"/><rect x="60.8" y="359.2" width="0.7" height="0.7" fill="#666" fill-opacity="0.45"/><rect x="41.4" y="359.5" width="0.7" height="0.7" fill="#666" fill-opacity="0.45"/><rect x="47.8" y="359.5" width="0.7" height="0.7" fill="#666" fill-opacity="0.45"/><rect x="39.9" y="365.9" width="0.7" height="0.7" fill="#666" fill-opacity="0.45"/><rect x="42.0" y="364.4" width="0.7" height="0.7" fill="#666" fill-opacity="0.45"/><rect x="46.1" y="362.7" width="0.7" height="0.7" fill="#666" fill-opacity="0.45"/><rect x="58.5" y="353.5" width="0.7" height="0.7" fill="#666" fill-opacity="0.45"/><rect x="48.0" y="363.0" width="0.7" height="0.7" fill="#666" fill-opacity="0.45"/><rect x="50.0" y="362.5" width="0.7" height="0.7" fill="#666" fill-opacity="0.45"/><rect x="68.3" y="364.0" width="0.7" height="0.7" fill="#666" fill-opacity="0.45"/><rect x="70.8" y="363.0" width="0.7" height="0.7" fill="#666" fill-opacity="0.45"/><rect x="52.7" y="361.8" width="0.7" height="0.7" fill="#666" fill-opacity="0.45"/><rect x="52.8" y="360.5" width="0.7" height="0.7" fill="#666" fill-opacity="0.45"/><rect x="53.6" y="354.0" width="0.7" height="0.7" fill="#666" fill-opacity="0.45"/><rect x="52.0" y="361.8" width="0.7" height="0.7" fill="#666" fill-opacity="0.45"/><rect x="42.4" y="362.7" width="0.7" height="0.7" fill="#666" fill-opacity="0.45"/><rect x="64.6" y="360.1" width="0.7" height="0.7" fill="#666" fill-opacity="0.45"/><rect x="53.2" y="353.6" width="0.7" height="0.7" fill="#666" fill-opacity="0.45"/><rect x="64.6" y="359.5" width="0.7" height="0.7" fill="#666" fill-opacity="0.45"/><rect x="64.4" y="350.7" width="0.7" height="0.7" fill="#666" fill-opacity="0.45"/><rect x="69.9" y="362.1" width="0.7" height="0.7" fill="#666" fill-opacity="0.45"/><rect x="57.1" y="358.8" width="0.7" height="0.7" fill="#666" fill-opacity="0.45"/><rect x="66.3" y="358.5" width="0.7" height="0.7" fill="#666" fill-opacity="0.45"/><rect x="60.1" y="358.9" width="0.7" height="0.7" fill="#666" fill-opacity="0.45"/><rect x="60.3" y="364.6" width="0.7" height="0.7" fill="#666" fill-opacity="0.45"/><rect x="43.9" y="362.5" width="0.7" height="0.7" fill="#666" fill-opacity="0.45"/><rect x="66.3" y="361.3" width="0.7" height="0.7" fill="#666" fill-opacity="0.45"/><rect x="42.7" y="354.1" width="0.7" height="0.7" fill="#666" fill-opacity="0.45"/><rect x="70.4" y="367.2" width="0.7" height="0.7" fill="#666" fill-opacity="0.45"/><rect x="71.1" y="363.9" width="0.7" height="0.7" fill="#666" fill-opacity="0.45"/><rect x="47.5" y="359.1" width="0.7" height="0.7" fill="#666" fill-opacity="0.45"/><rect x="69.9" y="356.3" width="0.7" height="0.7" fill="#666" fill-opacity="0.45"/><rect x="46.5" y="359.1" width="0.7" height="0.7" fill="#666" fill-opacity="0.45"/><rect x="60.2" y="357.8" width="0.7" height="0.7" fill="#666" fill-opacity="0.45"/><rect x="41.3" y="368.8" width="0.7" height="0.7" fill="#666" fill-opacity="0.45"/><rect x="48.4" y="363.3" width="0.7" height="0.7" fill="#666" fill-opacity="0.45"/><rect x="56.7" y="360.1" width="0.7" height="0.7" fill="#666" fill-opacity="0.45"/><rect x="61.6" y="358.0" width="0.7" height="0.7" fill="#666" fill-opacity="0.45"/><rect x="56.7" y="361.8" width="0.7" height="0.7" fill="#666" fill-opacity="0.45"/><rect x="65.4" y="361.3" width="0.7" height="0.7" fill="#666" fill-opacity="0.45"/><rect x="44.9" y="359.4" width="0.7" height="0.7" fill="#666" fill-opacity="0.45"/><rect x="64.5" y="363.2" width="0.7" height="0.7" fill="#666" fill-opacity="0.45"/><rect x="55.1" y="360.9" width="0.7" height="0.7" fill="#666" fill-opacity="0.45"/><rect x="71.0" y="360.3" width="0.7" height="0.7" fill="#666" fill-opacity="0.45"/><rect x="68.3" y="363.1" width="0.7" height="0.7" fill="#666" fill-opacity="0.45"/><rect x="60.7" y="367.1" width="0.7" height="0.7" fill="#666" fill-opacity="0.45"/><rect x="48.3" y="360.6" width="0.7" height="0.7" fill="#666" fill-opacity="0.45"/><rect x="44.6" y="359.0" width="0.7" height="0.7" fill="#666" fill-opacity="0.45"/><rect x="57.6" y="364.0" width="0.7" height="0.7" fill="#666" fill-opacity="0.45"/><rect x="74.9" y="363.6" width="0.7" height="0.7" fill="#666" fill-opacity="0.45"/><rect x="74.5" y="354.3" width="0.7" height="0.7" fill="#666" fill-opacity="0.45"/><rect x="47.6" y="364.4" width="0.7" height="0.7" fill="#666" fill-opacity="0.45"/><rect x="44.0" y="361.0" width="0.7" height="0.7" fill="#666" fill-opacity="0.45"/><rect x="46.8" y="358.5" width="0.7" height="0.7" fill="#666" fill-opacity="0.45"/><rect x="58.2" y="371.2" width="0.7" height="0.7" fill="#666" fill-opacity="0.45"/><rect x="74.8" y="361.5" width="0.7" height="0.7" fill="#666" fill-opacity="0.45"/><rect x="48.0" y="364.1" width="0.7" height="0.7" fill="#666" fill-opacity="0.45"/><rect x="75.9" y="360.3" width="0.7" height="0.7" fill="#666" fill-opacity="0.45"/><rect x="64.6" y="359.9" width="0.7" height="0.7" fill="#666" fill-opacity="0.45"/><rect x="63.9" y="366.8" width="0.7" height="0.7" fill="#666" fill-opacity="0.45"/><rect x="60.4" y="358.6" width="0.7" height="0.7" fill="#666" fill-opacity="0.45"/><rect x="52.7" y="365.4" width="0.7" height="0.7" fill="#666" fill-opacity="0.45"/><rect x="61.3" y="354.1" width="0.7" height="0.7" fill="#666" fill-opacity="0.45"/><rect x="56.1" y="356.5" width="0.7" height="0.7" fill="#666" fill-opacity="0.45"/><rect x="55.7" y="356.7" width="0.7" height="0.7" fill="#666" fill-opacity="0.45"/><rect x="58.2" y="363.5" width="0.7" height="0.7" fill="#666" fill-opacity="0.45"/><rect x="57.6" y="362.7" width="0.7" height="0.7" fill="#666" fill-opacity="0.45"/><rect x="44.8" y="369.0" width="0.7" height="0.7" fill="#666" fill-opacity="0.45"/><rect x="46.5" y="354.2" width="0.7" height="0.7" fill="#666" fill-opacity="0.45"/><rect x="53.9" y="358.3" width="0.7" height="0.7" fill="#666" fill-opacity="0.45"/><rect x="41.8" y="361.2" width="0.7" height="0.7" fill="#666" fill-opacity="0.45"/><rect x="60.9" y="355.8" width="0.7" height="0.7" fill="#666" fill-opacity="0.45"/><rect x="55.5" y="368.1" width="0.7" height="0.7" fill="#666" fill-opacity="0.45"/><rect x="67.1" y="359.9" width="0.7" height="0.7" fill="#666" fill-opacity="0.45"/><rect x="58.9" y="360.8" width="0.7" height="0.7" fill="#666" fill-opacity="0.45"/><rect x="56.6" y="364.8" width="0.7" height="0.7" fill="#666" fill-opacity="0.45"/><rect x="54.7" y="350.8" width="0.7" height="0.7" fill="#666" fill-opacity="0.45"/><rect x="56.3" y="357.5" width="0.7" height="0.7" fill="#666" fill-opacity="0.45"/><rect x="66.5" y="357.9" width="0.7" height="0.7" fill="#666" fill-opacity="0.45"/><rect x="60.1" y="371.1" width="0.7" height="0.7" fill="#666" fill-opacity="0.45"/><rect x="40.9" y="357.8" width="0.7" height="0.7" fill="#666" fill-opacity="0.45"/><rect x="46.7" y="354.0" width="0.7" height="0.7" fill="#666" fill-opacity="0.45"/><rect x="45.3" y="360.9" width="0.7" height="0.7" fill="#666" fill-opacity="0.45"/><rect x="62.5" y="367.1" width="0.7" height="0.7" fill="#666" fill-opacity="0.45"/><rect x="59.2" y="362.1" width="0.7" height="0.7" fill="#666" fill-opacity="0.45"/><rect x="52.5" y="364.0" width="0.7" height="0.7" fill="#666" fill-opacity="0.45"/><rect x="61.3" y="361.4" width="0.7" height="0.7" fill="#666" fill-opacity="0.45"/><rect x="49.0" y="356.2" width="0.7" height="0.7" fill="#666" fill-opacity="0.45"/><rect x="48.4" y="355.3" width="0.7" height="0.7" fill="#666" fill-opacity="0.45"/><rect x="75.5" y="362.3" width="0.7" height="0.7" fill="#666" fill-opacity="0.45"/><rect x="39.5" y="369.3" width="0.7" height="0.7" fill="#666" fill-opacity="0.45"/><rect x="69.6" y="351.8" width="0.7" height="0.7" fill="#666" fill-opacity="0.45"/><rect x="65.1" y="362.7" width="0.7" height="0.7" fill="#666" fill-opacity="0.45"/><rect x="60.1" y="362.0" width="0.7" height="0.7" fill="#666" fill-opacity="0.45"/><rect x="72.2" y="353.4" width="0.7" height="0.7" fill="#666" fill-opacity="0.45"/><rect x="48.4" y="359.5" width="0.7" height="0.7" fill="#666" fill-opacity="0.45"/><rect x="62.6" y="362.2" width="0.7" height="0.7" fill="#666" fill-opacity="0.45"/><rect x="57.2" y="358.4" width="0.7" height="0.7" fill="#666" fill-opacity="0.45"/><rect x="50.8" y="366.3" width="0.7" height="0.7" fill="#666" fill-opacity="0.45"/><rect x="68.5" y="361.0" width="0.7" height="0.7" fill="#666" fill-opacity="0.45"/><rect x="52.8" y="368.9" width="0.7" height="0.7" fill="#666" fill-opacity="0.45"/><rect x="48.4" y="365.2" width="0.7" height="0.7" fill="#666" fill-opacity="0.45"/><rect x="74.1" y="358.8" width="0.7" height="0.7" fill="#666" fill-opacity="0.45"/><rect x="68.9" y="355.4" width="0.7" height="0.7" fill="#666" fill-opacity="0.45"/><rect x="72.2" y="361.1" width="0.7" height="0.7" fill="#666" fill-opacity="0.45"/><rect x="44.2" y="368.4" width="0.7" height="0.7" fill="#666" fill-opacity="0.45"/><rect x="46.8" y="361.6" width="0.7" height="0.7" fill="#666" fill-opacity="0.45"/><rect x="61.1" y="359.6" width="0.7" height="0.7" fill="#666" fill-opacity="0.45"/><rect x="60.7" y="358.7" width="0.7" height="0.7" fill="#666" fill-opacity="0.45"/><rect x="67.0" y="360.6" width="0.7" height="0.7" fill="#666" fill-opacity="0.45"/><rect x="59.1" y="348.9" width="0.7" height="0.7" fill="#666" fill-opacity="0.45"/><rect x="74.4" y="360.1" width="0.7" height="0.7" fill="#666" fill-opacity="0.45"/><rect x="64.4" y="365.7" width="0.7" height="0.7" fill="#666" fill-opacity="0.45"/><rect x="41.4" y="369.9" width="0.7" height="0.7" fill="#666" fill-opacity="0.45"/><rect x="55.1" y="364.7" width="0.7" height="0.7" fill="#666" fill-opacity="0.45"/><rect x="51.1" y="357.0" width="0.7" height="0.7" fill="#666" fill-opacity="0.45"/><rect x="73.7" y="364.1" width="0.7" height="0.7" fill="#666" fill-opacity="0.45"/><rect x="47.8" y="354.8" width="0.7" height="0.7" fill="#666" fill-opacity="0.45"/><rect x="47.0" y="359.3" width="0.7" height="0.7" fill="#666" fill-opacity="0.45"/><rect x="45.0" y="365.2" width="0.7" height="0.7" fill="#666" fill-opacity="0.45"/><rect x="61.8" y="359.9" width="0.7" height="0.7" fill="#666" fill-opacity="0.45"/><rect x="59.5" y="360.6" width="0.7" height="0.7" fill="#666" fill-opacity="0.45"/><rect x="60.5" y="364.6" width="0.7" height="0.7" fill="#666" fill-opacity="0.45"/><rect x="71.1" y="357.2" width="0.7" height="0.7" fill="#666" fill-opacity="0.45"/><rect x="59.1" y="366.3" width="0.7" height="0.7" fill="#666" fill-opacity="0.45"/><rect x="56.8" y="355.0" width="0.7" height="0.7" fill="#666" fill-opacity="0.45"/><rect x="49.6" y="365.4" width="0.7" height="0.7" fill="#666" fill-opacity="0.45"/><rect x="73.7" y="367.2" width="0.7" height="0.7" fill="#666" fill-opacity="0.45"/><rect x="43.5" y="356.3" width="0.7" height="0.7" fill="#666" fill-opacity="0.45"/><rect x="65.1" y="365.0" width="0.7" height="0.7" fill="#666" fill-opacity="0.45"/><rect x="59.4" y="355.4" width="0.7" height="0.7" fill="#666" fill-opacity="0.45"/><rect x="69.0" y="364.0" width="0.7" height="0.7" fill="#666" fill-opacity="0.45"/><rect x="65.1" y="358.6" width="0.7" height="0.7" fill="#666" fill-opacity="0.45"/><rect x="61.9" y="364.6" width="0.7" height="0.7" fill="#666" fill-opacity="0.45"/><rect x="47.9" y="354.0" width="0.7" height="0.7" fill="#666" fill-opacity="0.45"/><rect x="62.1" y="363.2" width="0.7" height="0.7" fill="#666" fill-opacity="0.45"/><rect x="57.6" y="365.5" width="0.7" height="0.7" fill="#666" fill-opacity="0.45"/><rect x="48.2" y="361.9" width="0.7" height="0.7" fill="#666" fill-opacity="0.45"/><rect x="52.7" y="364.5" width="0.7" height="0.7" fill="#666" fill-opacity="0.45"/><rect x="69.0" y="363.1" width="0.7" height="0.7" fill="#666" fill-opacity="0.45"/><rect x="54.9" y="356.9" width="0.7" height="0.7" fill="#666" fill-opacity="0.45"/><rect x="64.6" y="366.9" width="0.7" height="0.7" fill="#666" fill-opacity="0.45"/><rect x="65.1" y="362.7" width="0.7" height="0.7" fill="#666" fill-opacity="0.45"/><rect x="54.1" y="362.5" width="0.7" height="0.7" fill="#666" fill-opacity="0.45"/><rect x="50.4" y="357.1" width="0.7" height="0.7" fill="#666" fill-opacity="0.45"/><rect x="45.4" y="358.8" width="0.7" height="0.7" fill="#666" fill-opacity="0.45"/><rect x="70.2" y="365.1" width="0.7" height="0.7" fill="#666" fill-opacity="0.45"/><rect x="70.0" y="357.7" width="0.7" height="0.7" fill="#666" fill-opacity="0.45"/><rect x="47.7" y="363.9" width="0.7" height="0.7" fill="#666" fill-opacity="0.45"/><rect x="50.9" y="352.9" width="0.7" height="0.7" fill="#666" fill-opacity="0.45"/><rect x="59.9" y="354.3" width="0.7" height="0.7" fill="#666" fill-opacity="0.45"/><rect x="70.1" y="354.9" width="0.7" height="0.7" fill="#666" fill-opacity="0.45"/><rect x="46.3" y="358.6" width="0.7" height="0.7" fill="#666" fill-opacity="0.45"/><rect x="49.4" y="368.0" width="0.7" height="0.7" fill="#666" fill-opacity="0.45"/><rect x="70.0" y="363.1" width="0.7" height="0.7" fill="#666" fill-opacity="0.45"/><rect x="61.2" y="354.1" width="0.7" height="0.7" fill="#666" fill-opacity="0.45"/><rect x="49.0" y="359.7" width="0.7" height="0.7" fill="#666" fill-opacity="0.45"/><rect x="42.6" y="365.1" width="0.7" height="0.7" fill="#666" fill-opacity="0.45"/><rect x="45.6" y="359.3" width="0.7" height="0.7" fill="#666" fill-opacity="0.45"/><rect x="40.6" y="353.6" width="0.7" height="0.7" fill="#666" fill-opacity="0.45"/><rect x="66.4" y="366.7" width="0.7" height="0.7" fill="#666" fill-opacity="0.45"/><rect x="59.2" y="356.9" width="0.7" height="0.7" fill="#666" fill-opacity="0.45"/><rect x="75.3" y="361.2" width="0.7" height="0.7" fill="#666" fill-opacity="0.45"/><rect x="71.4" y="366.9" width="0.7" height="0.7" fill="#666" fill-opacity="0.45"/><rect x="73.7" y="358.0" width="0.7" height="0.7" fill="#666" fill-opacity="0.45"/><rect x="73.0" y="363.6" width="0.7" height="0.7" fill="#666" fill-opacity="0.45"/><rect x="65.2" y="356.0" width="0.7" height="0.7" fill="#666" fill-opacity="0.45"/><rect x="63.2" y="367.6" width="0.7" height="0.7" fill="#666" fill-opacity="0.45"/><rect x="54.0" y="363.0" width="0.7" height="0.7" fill="#666" fill-opacity="0.45"/><rect x="55.1" y="366.2" width="0.7" height="0.7" fill="#666" fill-opacity="0.45"/><rect x="72.5" y="360.5" width="0.7" height="0.7" fill="#666" fill-opacity="0.45"/><rect x="50.2" y="364.9" width="0.7" height="0.7" fill="#666" fill-opacity="0.45"/><rect x="61.6" y="368.4" width="0.7" height="0.7" fill="#666" fill-opacity="0.45"/><rect x="73.8" y="358.0" width="0.7" height="0.7" fill="#666" fill-opacity="0.45"/><rect x="62.9" y="369.0" width="0.7" height="0.7" fill="#666" fill-opacity="0.45"/><rect x="49.1" y="364.1" width="0.7" height="0.7" fill="#666" fill-opacity="0.45"/><rect x="75.3" y="365.6" width="0.7" height="0.7" fill="#666" fill-opacity="0.45"/><rect x="64.2" y="354.9" width="0.7" height="0.7" fill="#666" fill-opacity="0.45"/><rect x="38.3" y="364.3" width="0.7" height="0.7" fill="#666" fill-opacity="0.45"/><rect x="44.6" y="367.7" width="0.7" height="0.7" fill="#666" fill-opacity="0.45"/><rect x="67.9" y="353.0" width="0.7" height="0.7" fill="#666" fill-opacity="0.45"/><rect x="44.8" y="363.3" width="0.7" height="0.7" fill="#666" fill-opacity="0.45"/><rect x="49.6" y="361.5" width="0.7" height="0.7" fill="#666" fill-opacity="0.45"/><rect x="63.7" y="357.3" width="0.7" height="0.7" fill="#666" fill-opacity="0.45"/><rect x="63.7" y="358.0" width="0.7" height="0.7" fill="#666" fill-opacity="0.45"/><rect x="49.1" y="364.6" width="0.7" height="0.7" fill="#666" fill-opacity="0.45"/><rect x="48.5" y="363.5" width="0.7" height="0.7" fill="#666" fill-opacity="0.45"/><rect x="55.1" y="365.0" width="0.7" height="0.7" fill="#666" fill-opacity="0.45"/><rect x="52.0" y="366.8" width="0.7" height="0.7" fill="#666" fill-opacity="0.45"/><rect x="38.1" y="366.0" width="0.7" height="0.7" fill="#666" fill-opacity="0.45"/><rect x="49.0" y="358.6" width="0.7" height="0.7" fill="#666" fill-opacity="0.45"/><rect x="75.5" y="366.5" width="0.7" height="0.7" fill="#666" fill-opacity="0.45"/><rect x="55.2" y="361.1" width="0.7" height="0.7" fill="#666" fill-opacity="0.45"/><rect x="50.4" y="359.2" width="0.7" height="0.7" fill="#666" fill-opacity="0.45"/><rect x="63.8" y="362.4" width="0.7" height="0.7" fill="#666" fill-opacity="0.45"/><rect x="60.3" y="369.0" width="0.7" height="0.7" fill="#666" fill-opacity="0.45"/><rect x="52.3" y="364.0" width="0.7" height="0.7" fill="#666" fill-opacity="0.45"/><rect x="73.2" y="368.4" width="0.7" height="0.7" fill="#666" fill-opacity="0.45"/><rect x="40.8" y="354.6" width="0.7" height="0.7" fill="#666" fill-opacity="0.45"/><rect x="63.0" y="352.6" width="0.7" height="0.7" fill="#666" fill-opacity="0.45"/><rect x="65.0" y="367.4" width="0.7" height="0.7" fill="#666" fill-opacity="0.45"/><rect x="45.9" y="361.3" width="0.7" height="0.7" fill="#666" fill-opacity="0.45"/><rect x="58.0" y="363.9" width="0.7" height="0.7" fill="#666" fill-opacity="0.45"/><rect x="51.8" y="362.0" width="0.7" height="0.7" fill="#666" fill-opacity="0.45"/><rect x="48.9" y="362.7" width="0.7" height="0.7" fill="#666" fill-opacity="0.45"/><rect x="39.5" y="363.3" width="0.7" height="0.7" fill="#666" fill-opacity="0.45"/><rect x="38.3" y="364.3" width="0.7" height="0.7" fill="#666" fill-opacity="0.45"/><rect x="41.8" y="355.4" width="0.7" height="0.7" fill="#666" fill-opacity="0.45"/><rect x="46.3" y="365.8" width="0.7" height="0.7" fill="#666" fill-opacity="0.45"/><rect x="62.7" y="360.6" width="0.7" height="0.7" fill="#666" fill-opacity="0.45"/><rect x="42.7" y="357.9" width="0.7" height="0.7" fill="#666" fill-opacity="0.45"/><rect x="42.0" y="353.3" width="0.7" height="0.7" fill="#666" fill-opacity="0.45"/><rect x="39.8" y="362.7" width="0.7" height="0.7" fill="#666" fill-opacity="0.45"/><rect x="60.1" y="360.5" width="0.7" height="0.7" fill="#666" fill-opacity="0.45"/><rect x="52.3" y="355.7" width="0.7" height="0.7" fill="#666" fill-opacity="0.45"/><rect x="42.0" y="370.4" width="0.7" height="0.7" fill="#666" fill-opacity="0.45"/><rect x="46.0" y="366.3" width="0.7" height="0.7" fill="#666" fill-opacity="0.45"/><rect x="61.3" y="365.8" width="0.7" height="0.7" fill="#666" fill-opacity="0.45"/><rect x="40.5" y="365.6" width="0.7" height="0.7" fill="#666" fill-opacity="0.45"/><rect x="62.5" y="357.7" width="0.7" height="0.7" fill="#666" fill-opacity="0.45"/><rect x="63.8" y="356.9" width="0.7" height="0.7" fill="#666" fill-opacity="0.45"/><rect x="45.1" y="362.5" width="0.7" height="0.7" fill="#666" fill-opacity="0.45"/><rect x="41.5" y="356.2" width="0.7" height="0.7" fill="#666" fill-opacity="0.45"/><rect x="50.9" y="365.5" width="0.7" height="0.7" fill="#666" fill-opacity="0.45"/><rect x="51.5" y="367.7" width="0.7" height="0.7" fill="#666" fill-opacity="0.45"/><rect x="39.2" y="357.1" width="0.7" height="0.7" fill="#666" fill-opacity="0.45"/><rect x="70.8" y="356.6" width="0.7" height="0.7" fill="#666" fill-opacity="0.45"/><rect x="69.1" y="361.6" width="0.7" height="0.7" fill="#666" fill-opacity="0.45"/><rect x="66.7" y="360.8" width="0.7" height="0.7" fill="#666" fill-opacity="0.45"/><rect x="74.8" y="357.0" width="0.7" height="0.7" fill="#666" fill-opacity="0.45"/><rect x="42.0" y="356.1" width="0.7" height="0.7" fill="#666" fill-opacity="0.45"/><rect x="74.1" y="356.7" width="0.7" height="0.7" fill="#666" fill-opacity="0.45"/><rect x="41.0" y="358.7" width="0.7" height="0.7" fill="#666" fill-opacity="0.45"/><rect x="49.9" y="356.4" width="0.7" height="0.7" fill="#666" fill-opacity="0.45"/><rect x="52.4" y="359.1" width="0.7" height="0.7" fill="#666" fill-opacity="0.45"/><rect x="48.4" y="357.9" width="0.7" height="0.7" fill="#666" fill-opacity="0.45"/><rect x="57.4" y="359.4" width="0.7" height="0.7" fill="#666" fill-opacity="0.45"/><rect x="58.8" y="362.5" width="0.7" height="0.7" fill="#666" fill-opacity="0.45"/><rect x="61.2" y="351.2" width="0.7" height="0.7" fill="#666" fill-opacity="0.45"/><rect x="48.7" y="358.6" width="0.7" height="0.7" fill="#666" fill-opacity="0.45"/><rect x="68.0" y="353.4" width="0.7" height="0.7" fill="#666" fill-opacity="0.45"/><rect x="46.2" y="361.1" width="0.7" height="0.7" fill="#666" fill-opacity="0.45"/><rect x="52.4" y="366.4" width="0.7" height="0.7" fill="#666" fill-opacity="0.45"/><rect x="50.8" y="366.4" width="0.7" height="0.7" fill="#666" fill-opacity="0.45"/><rect x="75.4" y="361.9" width="0.7" height="0.7" fill="#666" fill-opacity="0.45"/><rect x="64.3" y="361.4" width="0.7" height="0.7" fill="#666" fill-opacity="0.45"/><rect x="63.8" y="355.4" width="0.7" height="0.7" fill="#666" fill-opacity="0.45"/><rect x="71.0" y="357.9" width="0.7" height="0.7" fill="#666" fill-opacity="0.45"/><rect x="71.8" y="360.6" width="0.7" height="0.7" fill="#666" fill-opacity="0.45"/><rect x="73.8" y="359.4" width="0.7" height="0.7" fill="#666" fill-opacity="0.45"/><rect x="51.2" y="363.1" width="0.7" height="0.7" fill="#666" fill-opacity="0.45"/><rect x="50.4" y="359.6" width="0.7" height="0.7" fill="#666" fill-opacity="0.45"/><rect x="58.6" y="362.0" width="0.7" height="0.7" fill="#666" fill-opacity="0.45"/><rect x="59.0" y="361.9" width="0.7" height="0.7" fill="#666" fill-opacity="0.45"/><rect x="54.6" y="358.4" width="0.7" height="0.7" fill="#666" fill-opacity="0.45"/><rect x="55.8" y="358.7" width="0.7" height="0.7" fill="#666" fill-opacity="0.45"/><rect x="49.6" y="353.5" width="0.7" height="0.7" fill="#666" fill-opacity="0.45"/><rect x="56.0" y="359.7" width="0.7" height="0.7" fill="#666" fill-opacity="0.45"/><rect x="40.3" y="357.8" width="0.7" height="0.7" fill="#666" fill-opacity="0.45"/><rect x="56.5" y="360.9" width="0.7" height="0.7" fill="#666" fill-opacity="0.45"/><rect x="59.4" y="359.6" width="0.7" height="0.7" fill="#666" fill-opacity="0.45"/><rect x="48.5" y="369.0" width="0.7" height="0.7" fill="#666" fill-opacity="0.45"/><rect x="72.6" y="367.9" width="0.7" height="0.7" fill="#666" fill-opacity="0.45"/><rect x="51.8" y="362.1" width="0.7" height="0.7" fill="#666" fill-opacity="0.45"/><rect x="44.2" y="367.0" width="0.7" height="0.7" fill="#666" fill-opacity="0.45"/><rect x="73.9" y="366.4" width="0.7" height="0.7" fill="#666" fill-opacity="0.45"/><rect x="43.4" y="367.6" width="0.7" height="0.7" fill="#666" fill-opacity="0.45"/><rect x="46.0" y="359.0" width="0.7" height="0.7" fill="#666" fill-opacity="0.45"/><rect x="45.5" y="361.0" width="0.7" height="0.7" fill="#666" fill-opacity="0.45"/><rect x="48.2" y="354.2" width="0.7" height="0.7" fill="#666" fill-opacity="0.45"/><rect x="47.4" y="367.7" width="0.7" height="0.7" fill="#666" fill-opacity="0.45"/><rect x="46.5" y="360.1" width="0.7" height="0.7" fill="#666" fill-opacity="0.45"/><rect x="41.2" y="367.7" width="0.7" height="0.7" fill="#666" fill-opacity="0.45"/><rect x="61.0" y="357.7" width="0.7" height="0.7" fill="#666" fill-opacity="0.45"/><rect x="68.7" y="360.5" width="0.7" height="0.7" fill="#666" fill-opacity="0.45"/><rect x="39.7" y="365.8" width="0.7" height="0.7" fill="#666" fill-opacity="0.45"/><rect x="68.8" y="351.8" width="0.7" height="0.7" fill="#666" fill-opacity="0.45"/><rect x="67.6" y="352.2" width="0.7" height="0.7" fill="#666" fill-opacity="0.45"/><rect x="46.1" y="360.9" width="0.7" height="0.7" fill="#666" fill-opacity="0.45"/><rect x="72.5" y="353.5" width="0.7" height="0.7" fill="#666" fill-opacity="0.45"/><rect x="43.0" y="353.6" width="0.7" height="0.7" fill="#666" fill-opacity="0.45"/><rect x="53.5" y="363.4" width="0.7" height="0.7" fill="#666" fill-opacity="0.45"/><rect x="65.2" y="367.9" width="0.7" height="0.7" fill="#666" fill-opacity="0.45"/><rect x="66.8" y="359.3" width="0.7" height="0.7" fill="#666" fill-opacity="0.45"/><rect x="39.0" y="358.8" width="0.7" height="0.7" fill="#666" fill-opacity="0.45"/><rect x="47.1" y="363.0" width="0.7" height="0.7" fill="#666" fill-opacity="0.45"/><rect x="56.9" y="369.0" width="0.7" height="0.7" fill="#666" fill-opacity="0.45"/><rect x="60.9" y="356.3" width="0.7" height="0.7" fill="#666" fill-opacity="0.45"/><rect x="58.2" y="358.1" width="0.7" height="0.7" fill="#666" fill-opacity="0.45"/><rect x="70.3" y="356.7" width="0.7" height="0.7" fill="#666" fill-opacity="0.45"/><rect x="60.9" y="363.9" width="0.7" height="0.7" fill="#666" fill-opacity="0.45"/><rect x="67.3" y="367.0" width="0.7" height="0.7" fill="#666" fill-opacity="0.45"/><rect x="44.8" y="367.0" width="0.7" height="0.7" fill="#666" fill-opacity="0.45"/><rect x="42.5" y="365.9" width="0.7" height="0.7" fill="#666" fill-opacity="0.45"/><rect x="59.8" y="362.4" width="0.7" height="0.7" fill="#666" fill-opacity="0.45"/><rect x="71.5" y="360.2" width="0.7" height="0.7" fill="#666" fill-opacity="0.45"/><rect x="74.0" y="364.0" width="0.7" height="0.7" fill="#666" fill-opacity="0.45"/><rect x="58.8" y="358.8" width="0.7" height="0.7" fill="#666" fill-opacity="0.45"/><rect x="45.5" y="360.1" width="0.7" height="0.7" fill="#666" fill-opacity="0.45"/><rect x="54.0" y="361.7" width="0.7" height="0.7" fill="#666" fill-opacity="0.45"/><rect x="68.2" y="356.6" width="0.7" height="0.7" fill="#666" fill-opacity="0.45"/><rect x="46.3" y="361.0" width="0.7" height="0.7" fill="#666" fill-opacity="0.45"/><rect x="59.5" y="356.6" width="0.7" height="0.7" fill="#666" fill-opacity="0.45"/><rect x="72.2" y="349.6" width="0.7" height="0.7" fill="#666" fill-opacity="0.45"/><rect x="57.0" y="362.8" width="0.7" height="0.7" fill="#666" fill-opacity="0.45"/><rect x="60.1" y="363.9" width="0.7" height="0.7" fill="#666" fill-opacity="0.45"/><rect x="61.2" y="361.9" width="0.7" height="0.7" fill="#666" fill-opacity="0.45"/><rect x="61.5" y="360.2" width="0.7" height="0.7" fill="#666" fill-opacity="0.45"/><rect x="44.5" y="360.0" width="0.7" height="0.7" fill="#666" fill-opacity="0.45"/><rect x="56.6" y="367.4" width="0.7" height="0.7" fill="#666" fill-opacity="0.45"/><rect x="49.4" y="358.2" width="0.7" height="0.7" fill="#666" fill-opacity="0.45"/><rect x="48.7" y="363.1" width="0.7" height="0.7" fill="#666" fill-opacity="0.45"/><rect x="57.8" y="362.7" width="0.7" height="0.7" fill="#666" fill-opacity="0.45"/><rect x="56.9" y="365.7" width="0.7" height="0.7" fill="#666" fill-opacity="0.45"/><rect x="59.3" y="360.1" width="0.7" height="0.7" fill="#666" fill-opacity="0.45"/><rect x="61.7" y="354.2" width="0.7" height="0.7" fill="#666" fill-opacity="0.45"/><rect x="64.9" y="361.7" width="0.7" height="0.7" fill="#666" fill-opacity="0.45"/><rect x="57.2" y="350.8" width="0.7" height="0.7" fill="#666" fill-opacity="0.45"/><rect x="51.1" y="358.6" width="0.7" height="0.7" fill="#666" fill-opacity="0.45"/><rect x="67.6" y="363.0" width="0.7" height="0.7" fill="#666" fill-opacity="0.45"/><rect x="56.9" y="363.8" width="0.7" height="0.7" fill="#666" fill-opacity="0.45"/><rect x="48.0" y="362.6" width="0.7" height="0.7" fill="#666" fill-opacity="0.45"/><rect x="57.8" y="363.9" width="0.7" height="0.7" fill="#666" fill-opacity="0.45"/><rect x="55.9" y="360.9" width="0.7" height="0.7" fill="#666" fill-opacity="0.45"/><rect x="54.7" y="358.8" width="0.7" height="0.7" fill="#666" fill-opacity="0.45"/><rect x="64.3" y="371.2" width="0.7" height="0.7" fill="#666" fill-opacity="0.45"/><rect x="67.7" y="364.3" width="0.7" height="0.7" fill="#666" fill-opacity="0.45"/><rect x="68.1" y="355.2" width="0.7" height="0.7" fill="#666" fill-opacity="0.45"/><rect x="44.1" y="363.8" width="0.7" height="0.7" fill="#666" fill-opacity="0.45"/><rect x="64.1" y="356.3" width="0.7" height="0.7" fill="#666" fill-opacity="0.45"/><rect x="51.1" y="360.2" width="0.7" height="0.7" fill="#666" fill-opacity="0.45"/><rect x="58.0" y="362.9" width="0.7" height="0.7" fill="#666" fill-opacity="0.45"/><rect x="52.2" y="356.3" width="0.7" height="0.7" fill="#666" fill-opacity="0.45"/><rect x="76.2" y="367.0" width="0.7" height="0.7" fill="#666" fill-opacity="0.45"/><rect x="55.8" y="366.2" width="0.7" height="0.7" fill="#666" fill-opacity="0.45"/><rect x="63.9" y="363.9" width="0.7" height="0.7" fill="#666" fill-opacity="0.45"/><rect x="63.9" y="357.4" width="0.7" height="0.7" fill="#666" fill-opacity="0.45"/><rect x="66.0" y="365.3" width="0.7" height="0.7" fill="#666" fill-opacity="0.45"/><rect x="44.4" y="371.5" width="0.7" height="0.7" fill="#666" fill-opacity="0.45"/><rect x="51.7" y="359.3" width="0.7" height="0.7" fill="#666" fill-opacity="0.45"/><rect x="44.9" y="363.1" width="0.7" height="0.7" fill="#666" fill-opacity="0.45"/><rect x="56.8" y="364.5" width="0.7" height="0.7" fill="#666" fill-opacity="0.45"/><rect x="67.3" y="362.7" width="0.7" height="0.7" fill="#666" fill-opacity="0.45"/><rect x="61.0" y="360.2" width="0.7" height="0.7" fill="#666" fill-opacity="0.45"/><rect x="54.8" y="358.0" width="0.7" height="0.7" fill="#666" fill-opacity="0.45"/><rect x="59.7" y="361.2" width="0.7" height="0.7" fill="#666" fill-opacity="0.45"/><rect x="61.4" y="357.2" width="0.7" height="0.7" fill="#666" fill-opacity="0.45"/><rect x="57.6" y="361.7" width="0.7" height="0.7" fill="#666" fill-opacity="0.45"/><rect x="65.6" y="355.9" width="0.7" height="0.7" fill="#666" fill-opacity="0.45"/><rect x="63.7" y="365.4" width="0.7" height="0.7" fill="#666" fill-opacity="0.45"/><rect x="65.8" y="359.1" width="0.7" height="0.7" fill="#666" fill-opacity="0.45"/><rect x="49.6" y="361.1" width="0.7" height="0.7" fill="#666" fill-opacity="0.45"/><rect x="68.5" y="367.5" width="0.7" height="0.7" fill="#666" fill-opacity="0.45"/><rect x="54.4" y="358.8" width="0.7" height="0.7" fill="#666" fill-opacity="0.45"/><rect x="62.7" y="361.9" width="0.7" height="0.7" fill="#666" fill-opacity="0.45"/><rect x="43.1" y="359.4" width="0.7" height="0.7" fill="#666" fill-opacity="0.45"/><rect x="55.7" y="364.6" width="0.7" height="0.7" fill="#666" fill-opacity="0.45"/><rect x="38.8" y="358.5" width="0.7" height="0.7" fill="#666" fill-opacity="0.45"/><rect x="64.0" y="355.4" width="0.7" height="0.7" fill="#666" fill-opacity="0.45"/><rect x="63.9" y="324.1" width="0.7" height="0.7" fill="#aaa" fill-opacity="0.4"/><rect x="62.1" y="315.9" width="0.7" height="0.7" fill="#aaa" fill-opacity="0.4"/><rect x="62.5" y="320.0" width="0.7" height="0.7" fill="#aaa" fill-opacity="0.4"/><rect x="65.7" y="317.0" width="0.7" height="0.7" fill="#aaa" fill-opacity="0.4"/><rect x="61.6" y="322.0" width="0.7" height="0.7" fill="#aaa" fill-opacity="0.4"/><rect x="70.7" y="318.3" width="0.7" height="0.7" fill="#aaa" fill-opacity="0.4"/><rect x="67.4" y="318.6" width="0.7" height="0.7" fill="#aaa" fill-opacity="0.4"/><rect x="68.9" y="332.4" width="0.7" height="0.7" fill="#aaa" fill-opacity="0.4"/><rect x="59.8" y="324.7" width="0.7" height="0.7" fill="#aaa" fill-opacity="0.4"/><rect x="55.6" y="327.8" width="0.7" height="0.7" fill="#aaa" fill-opacity="0.4"/><rect x="72.7" y="322.2" width="0.7" height="0.7" fill="#aaa" fill-opacity="0.4"/><rect x="53.9" y="324.4" width="0.7" height="0.7" fill="#aaa" fill-opacity="0.4"/><rect x="72.2" y="328.5" width="0.7" height="0.7" fill="#aaa" fill-opacity="0.4"/><rect x="57.6" y="330.5" width="0.7" height="0.7" fill="#aaa" fill-opacity="0.4"/><rect x="72.0" y="320.0" width="0.7" height="0.7" fill="#aaa" fill-opacity="0.4"/>
<path d="M18.3,311.6L53.0,311.6L53.0,336.8L34.6,354.2L18.3,354.2Z" fill="none" stroke="#333" stroke-width="1.0"/>
<path d="M18.3,354.2L34.6,354.2L34.6,372.5L18.3,372.5" fill="none" stroke="#444" stroke-width="0.8"/>
<path d="M37.5,372.5L37.5,355.4L54.2,340.0L76.7,340.0L76.7,372.5Z" fill="none" stroke="#333" stroke-width="1.0"/>
<line x1="22.50" y1="372.50" x2="22.50" y2="374.20" stroke="#222" stroke-width="0.9" />
<line x1="24.50" y1="372.50" x2="24.50" y2="374.20" stroke="#222" stroke-width="0.9" />
<line x1="26.50" y1="372.50" x2="26.50" y2="374.20" stroke="#222" stroke-width="0.9" />
<line x1="28.20" y1="372.50" x2="28.20" y2="374.20" stroke="#222" stroke-width="0.9" />
<line x1="16.50" y1="357.50" x2="18.30" y2="357.50" stroke="#222" stroke-width="0.9" />
<line x1="16.50" y1="359.50" x2="18.30" y2="359.50" stroke="#222" stroke-width="0.9" />
<line x1="16.50" y1="361.50" x2="18.30" y2="361.50" stroke="#222" stroke-width="0.9" />
<line x1="16.50" y1="363.50" x2="18.30" y2="363.50" stroke="#222" stroke-width="0.9" />
<line x1="40.00" y1="372.50" x2="40.00" y2="373.80" stroke="#444" stroke-width="0.6" />
<line x1="48.00" y1="372.50" x2="48.00" y2="373.80" stroke="#444" stroke-width="0.6" />
<line x1="56.00" y1="372.50" x2="56.00" y2="373.80" stroke="#444" stroke-width="0.6" />
<line x1="64.00" y1="372.50" x2="64.00" y2="373.80" stroke="#444" stroke-width="0.6" />
<line x1="72.00" y1="372.50" x2="72.00" y2="373.80" stroke="#444" stroke-width="0.6" />
<path d="M14.2,360.4L14.2,377.1L31.7,377.1" fill="none" stroke="#555" stroke-width="0.8"/>
<text transform="translate(12.93,368.00) rotate(-90)" font-size="7.9" text-anchor="middle" fill="#1a1a1a" stroke="#1a1a1a" stroke-width="0.15">CD19</text>
<text x="13.00" y="386.40" font-size="7.9" text-anchor="start" fill="#1a1a1a" stroke="#1a1a1a" stroke-width="0.12" >CD33</text>
<text x="20.80" y="320.30" font-size="7.9" text-anchor="start" fill="#1a1a1a" stroke="#1a1a1a" stroke-width="0.12" >CD19<tspan font-size="5" dy="-2.6">+</tspan></text>
<text x="20.80" y="328.30" font-size="7.9" text-anchor="start" fill="#1a1a1a" stroke="#1a1a1a" stroke-width="0.12" >25.6</text>
<text x="74.60" y="360.80" font-size="7.9" text-anchor="end" fill="#1a1a1a" stroke="#1a1a1a" stroke-width="0.12" >CD33<tspan font-size="5" dy="-2.6">+</tspan></text>
<text x="74.60" y="369.20" font-size="7.9" text-anchor="end" fill="#1a1a1a" stroke="#1a1a1a" stroke-width="0.12" >71.2</text>
<line x1="34.60" y1="354.20" x2="34.60" y2="390.50" stroke="#555" stroke-width="0.8" />
<path d="M32.8,390.0L36.4,390.0L34.6,393.8Z" fill="#111"/>
<line x1="69.20" y1="372.50" x2="69.20" y2="390.50" stroke="#555" stroke-width="0.8" />
<path d="M67.4,390.0L71.0,390.0L69.2,393.8Z" fill="#111"/>
<text x="14.60" y="403.50" font-size="7.8" text-anchor="start" fill="#1a1a1a" stroke="#1a1a1a" stroke-width="0.12" >Amplicon sequencing</text>
<line x1="126.10" y1="313.89" x2="126.10" y2="376.20" stroke="#666" stroke-width="0.8" />
<line x1="124.50" y1="376.20" x2="126.10" y2="376.20" stroke="#666" stroke-width="0.8" />
<text x="121.20" y="378.80" font-size="7.5" text-anchor="end" fill="#1a1a1a" stroke="#1a1a1a" stroke-width="0.12" >0</text>
<line x1="124.50" y1="355.43" x2="126.10" y2="355.43" stroke="#666" stroke-width="0.8" />
<text x="121.20" y="358.03" font-size="7.5" text-anchor="end" fill="#1a1a1a" stroke="#1a1a1a" stroke-width="0.12" >10</text>
<line x1="124.50" y1="334.66" x2="126.10" y2="334.66" stroke="#666" stroke-width="0.8" />
<text x="121.20" y="337.26" font-size="7.5" text-anchor="end" fill="#1a1a1a" stroke="#1a1a1a" stroke-width="0.12" >20</text>
<line x1="124.50" y1="313.89" x2="126.10" y2="313.89" stroke="#666" stroke-width="0.8" />
<text x="121.20" y="316.49" font-size="7.5" text-anchor="end" fill="#1a1a1a" stroke="#1a1a1a" stroke-width="0.12" >30</text>
<line x1="126.10" y1="376.20" x2="328.10" y2="376.20" stroke="#666" stroke-width="0.8" />
<line x1="146.20" y1="307.50" x2="146.20" y2="375.70" stroke="#dedede" stroke-width="0.7" />
<line x1="166.40" y1="307.50" x2="166.40" y2="375.70" stroke="#dedede" stroke-width="0.7" />
<line x1="186.60" y1="307.50" x2="186.60" y2="375.70" stroke="#dedede" stroke-width="0.7" />
<line x1="206.80" y1="307.50" x2="206.80" y2="375.70" stroke="#dedede" stroke-width="0.7" />
<line x1="227.00" y1="307.50" x2="227.00" y2="375.70" stroke="#dedede" stroke-width="0.7" />
<line x1="247.20" y1="307.50" x2="247.20" y2="375.70" stroke="#dedede" stroke-width="0.7" />
<line x1="267.40" y1="307.50" x2="267.40" y2="375.70" stroke="#dedede" stroke-width="0.7" />
<line x1="287.60" y1="307.50" x2="287.60" y2="375.70" stroke="#dedede" stroke-width="0.7" />
<line x1="307.80" y1="307.50" x2="307.80" y2="375.70" stroke="#dedede" stroke-width="0.7" />
<text transform="translate(105.25,345.00) rotate(-90)" font-size="7.9" text-anchor="middle" fill="#1a1a1a" stroke="#1a1a1a" stroke-width="0.15">Frameshift (%)</text>
<text x="157.80" y="300.80" font-size="7.8" text-anchor="middle" fill="#1a1a1a" stroke="#1a1a1a" stroke-width="0.12" >N-terminal</text>
<text x="228.50" y="300.80" font-size="7.8" text-anchor="middle" fill="#1a1a1a" stroke="#1a1a1a" stroke-width="0.12" >Central</text>
<text x="294.00" y="300.80" font-size="7.8" text-anchor="middle" fill="#1a1a1a" stroke="#1a1a1a" stroke-width="0.12" >C-terminal</text>
<line x1="129.30" y1="305.10" x2="184.00" y2="305.10" stroke="#666" stroke-width="1.2" />
<line x1="188.00" y1="305.10" x2="266.10" y2="305.10" stroke="#666" stroke-width="1.2" />
<line x1="271.60" y1="305.10" x2="326.10" y2="305.10" stroke="#666" stroke-width="1.2" />
<line x1="130.60" y1="376.20" x2="130.60" y2="377.70" stroke="#666" stroke-width="0.7" />
<rect x="128.20" y="361.90" width="4.80" height="14.70" fill="#FDE725" stroke="#333" stroke-width="0.6" rx="1.4" />
<circle cx="130.60" cy="374.95" r="1.65" fill="#fff" stroke="#444" stroke-width="0.6"/>
<path d="M130.60,362.20L132.25,363.85L130.60,365.50L128.95,363.85Z" fill="#fff" stroke="#444" stroke-width="0.6"/>
<rect x="129.20" y="368.85" width="2.80" height="2.80" fill="#fff" stroke="#444" stroke-width="0.6" rx="0" />
<text transform="translate(133.36,382.20) rotate(-90)" font-size="8.0" text-anchor="end" fill="#1a1a1a" stroke="#1a1a1a" stroke-width="0.15">CD19<tspan font-size="5" dy="-2.4">+</tspan></text>
<line x1="139.10" y1="376.20" x2="139.10" y2="377.70" stroke="#666" stroke-width="0.7" />
<rect x="136.70" y="363.60" width="4.80" height="13.00" fill="#FDE725" stroke="#333" stroke-width="0.6" rx="1.4" />
<circle cx="139.10" cy="374.95" r="1.65" fill="#111" stroke="#111" stroke-width="0.6"/>
<path d="M137.45,366.87L140.75,366.87L139.10,363.90Z" fill="#111" stroke="#111" stroke-width="0.6"/>
<rect x="137.70" y="369.70" width="2.80" height="2.80" fill="#111" stroke="#111" stroke-width="0.6" rx="0" />
<text transform="translate(141.86,382.20) rotate(-90)" font-size="8.0" text-anchor="end" fill="#1a1a1a" stroke="#1a1a1a" stroke-width="0.15">CD33<tspan font-size="5" dy="-2.4">+</tspan></text>
<rect x="126.95" y="407.40" width="15.80" height="2.30" fill="#FDE725" stroke="#333" stroke-width="0.6" rx="0.4" />
<line x1="128.35" y1="408.55" x2="141.35" y2="408.55" stroke="#fff" stroke-width="0.5" stroke-opacity="0.35"/>
<text x="134.85" y="418.30" font-size="8" text-anchor="middle" fill="#1a1a1a" stroke="#1a1a1a" stroke-width="0.12" >1</text>
<line x1="151.14" y1="376.20" x2="151.14" y2="377.70" stroke="#666" stroke-width="0.7" />
<rect x="148.74" y="368.00" width="4.80" height="8.20" fill="#ffffff" stroke="#333" stroke-width="0.6" rx="1.4" />
<circle cx="151.14" cy="374.55" r="1.65" fill="#fff" stroke="#444" stroke-width="0.6"/>
<path d="M151.14,368.30L152.79,369.95L151.14,371.60L149.49,369.95Z" fill="#fff" stroke="#444" stroke-width="0.6"/>
<rect x="149.74" y="371.70" width="2.80" height="2.80" fill="#fff" stroke="#444" stroke-width="0.6" rx="0" />
<text transform="translate(153.90,382.20) rotate(-90)" font-size="8.0" text-anchor="end" fill="#1a1a1a" stroke="#1a1a1a" stroke-width="0.15">CD19<tspan font-size="5" dy="-2.4">+</tspan></text>
<line x1="159.64" y1="376.20" x2="159.64" y2="377.70" stroke="#666" stroke-width="0.7" />
<rect x="157.24" y="373.40" width="4.80" height="3.80" fill="#111111" stroke="#333" stroke-width="0.6" rx="1.4" />
<circle cx="159.64" cy="375.55" r="1.65" fill="#111" stroke="#111" stroke-width="0.6"/>
<text transform="translate(162.40,382.20) rotate(-90)" font-size="8.0" text-anchor="end" fill="#1a1a1a" stroke="#1a1a1a" stroke-width="0.15">CD33<tspan font-size="5" dy="-2.4">+</tspan></text>
<rect x="147.49" y="407.40" width="15.80" height="2.30" fill="#B4DE2C" stroke="#333" stroke-width="0.6" rx="0.4" />
<line x1="148.89" y1="408.55" x2="161.89" y2="408.55" stroke="#fff" stroke-width="0.5" stroke-opacity="0.35"/>
<text x="155.39" y="418.30" font-size="8" text-anchor="middle" fill="#1a1a1a" stroke="#1a1a1a" stroke-width="0.12" >2</text>
<line x1="171.68" y1="376.20" x2="171.68" y2="377.70" stroke="#666" stroke-width="0.7" />
<rect x="169.28" y="373.20" width="4.80" height="4.00" fill="#ffffff" stroke="#333" stroke-width="0.6" rx="1.4" />
<circle cx="171.68" cy="375.55" r="1.65" fill="#fff" stroke="#444" stroke-width="0.6"/>
<text transform="translate(174.44,382.20) rotate(-90)" font-size="8.0" text-anchor="end" fill="#1a1a1a" stroke="#1a1a1a" stroke-width="0.15">CD19<tspan font-size="5" dy="-2.4">+</tspan></text>
<line x1="180.18" y1="376.20" x2="180.18" y2="377.70" stroke="#666" stroke-width="0.7" />
<rect x="177.78" y="374.20" width="4.80" height="3.40" fill="#111111" stroke="#333" stroke-width="0.6" rx="1.4" />
<circle cx="180.18" cy="375.95" r="1.65" fill="#111" stroke="#111" stroke-width="0.6"/>
<text transform="translate(182.94,382.20) rotate(-90)" font-size="8.0" text-anchor="end" fill="#1a1a1a" stroke="#1a1a1a" stroke-width="0.15">CD33<tspan font-size="5" dy="-2.4">+</tspan></text>
<rect x="168.03" y="407.40" width="15.80" height="2.30" fill="#58BE4C" stroke="#333" stroke-width="0.6" rx="0.4" />
<line x1="169.43" y1="408.55" x2="182.43" y2="408.55" stroke="#fff" stroke-width="0.5" stroke-opacity="0.35"/>
<text x="175.93" y="418.30" font-size="8" text-anchor="middle" fill="#1a1a1a" stroke="#1a1a1a" stroke-width="0.12" >3</text>
<line x1="192.22" y1="376.20" x2="192.22" y2="377.70" stroke="#666" stroke-width="0.7" />
<rect x="189.82" y="355.80" width="4.80" height="20.20" fill="#2CA67A" stroke="#333" stroke-width="0.6" rx="1.4" />
<circle cx="192.22" cy="374.35" r="1.65" fill="#fff" stroke="#444" stroke-width="0.6"/>
<path d="M192.22,356.10L193.87,357.75L192.22,359.40L190.57,357.75Z" fill="#fff" stroke="#444" stroke-width="0.6"/>
<rect x="190.82" y="365.50" width="2.80" height="2.80" fill="#fff" stroke="#444" stroke-width="0.6" rx="0" />
<text transform="translate(194.98,382.20) rotate(-90)" font-size="8.0" text-anchor="end" fill="#1a1a1a" stroke="#1a1a1a" stroke-width="0.15">CD19<tspan font-size="5" dy="-2.4">+</tspan></text>
<line x1="200.72" y1="376.20" x2="200.72" y2="377.70" stroke="#666" stroke-width="0.7" />
<rect x="198.32" y="370.60" width="4.80" height="6.00" fill="#2CA67A" stroke="#333" stroke-width="0.6" rx="1.4" />
<circle cx="200.72" cy="374.95" r="1.65" fill="#111" stroke="#111" stroke-width="0.6"/>
<text transform="translate(203.48,382.20) rotate(-90)" font-size="8.0" text-anchor="end" fill="#1a1a1a" stroke="#1a1a1a" stroke-width="0.15">CD33<tspan font-size="5" dy="-2.4">+</tspan></text>
<rect x="188.57" y="407.40" width="15.80" height="2.30" fill="#2CA67A" stroke="#333" stroke-width="0.6" rx="0.4" />
<line x1="189.97" y1="408.55" x2="202.97" y2="408.55" stroke="#fff" stroke-width="0.5" stroke-opacity="0.35"/>
<text x="196.47" y="418.30" font-size="8" text-anchor="middle" fill="#1a1a1a" stroke="#1a1a1a" stroke-width="0.12" >4</text>
<line x1="212.76" y1="376.20" x2="212.76" y2="377.70" stroke="#666" stroke-width="0.7" />
<rect x="210.36" y="371.60" width="4.80" height="4.20" fill="#ffffff" stroke="#333" stroke-width="0.6" rx="1.4" />
<circle cx="212.76" cy="374.15" r="1.65" fill="#fff" stroke="#444" stroke-width="0.6"/>
<text transform="translate(215.52,382.20) rotate(-90)" font-size="8.0" text-anchor="end" fill="#1a1a1a" stroke="#1a1a1a" stroke-width="0.15">CD19<tspan font-size="5" dy="-2.4">+</tspan></text>
<line x1="221.26" y1="376.20" x2="221.26" y2="377.70" stroke="#666" stroke-width="0.7" />
<rect x="218.86" y="325.70" width="4.80" height="48.10" fill="#1F9E89" stroke="#333" stroke-width="0.6" rx="1.4" />
<circle cx="221.26" cy="372.15" r="1.65" fill="#111" stroke="#111" stroke-width="0.6"/>
<path d="M219.61,328.97L222.91,328.97L221.26,326.00Z" fill="#111" stroke="#111" stroke-width="0.6"/>
<rect x="219.86" y="349.35" width="2.80" height="2.80" fill="#111" stroke="#111" stroke-width="0.6" rx="0" />
<text transform="translate(224.02,382.20) rotate(-90)" font-size="8.0" text-anchor="end" fill="#1a1a1a" stroke="#1a1a1a" stroke-width="0.15">CD33<tspan font-size="5" dy="-2.4">+</tspan></text>
<rect x="209.11" y="407.40" width="15.80" height="2.30" fill="#1F9E89" stroke="#333" stroke-width="0.6" rx="0.4" />
<line x1="210.51" y1="408.55" x2="223.51" y2="408.55" stroke="#fff" stroke-width="0.5" stroke-opacity="0.35"/>
<text x="217.01" y="418.30" font-size="8" text-anchor="middle" fill="#1a1a1a" stroke="#1a1a1a" stroke-width="0.12" >5</text>
<line x1="233.30" y1="376.20" x2="233.30" y2="377.70" stroke="#666" stroke-width="0.7" />
<rect x="230.90" y="373.00" width="4.80" height="4.20" fill="#ffffff" stroke="#333" stroke-width="0.6" rx="1.4" />
<circle cx="233.30" cy="375.55" r="1.65" fill="#fff" stroke="#444" stroke-width="0.6"/>
<text transform="translate(236.06,382.20) rotate(-90)" font-size="8.0" text-anchor="end" fill="#1a1a1a" stroke="#1a1a1a" stroke-width="0.15">CD19<tspan font-size="5" dy="-2.4">+</tspan></text>
<line x1="241.80" y1="376.20" x2="241.80" y2="377.70" stroke="#666" stroke-width="0.7" />
<rect x="239.40" y="355.10" width="4.80" height="20.60" fill="#26828E" stroke="#333" stroke-width="0.6" rx="1.4" />
<circle cx="241.80" cy="374.05" r="1.65" fill="#111" stroke="#111" stroke-width="0.6"/>
<path d="M240.15,358.37L243.45,358.37L241.80,355.40Z" fill="#111" stroke="#111" stroke-width="0.6"/>
<rect x="240.40" y="365.00" width="2.80" height="2.80" fill="#111" stroke="#111" stroke-width="0.6" rx="0" />
<text transform="translate(244.56,382.20) rotate(-90)" font-size="8.0" text-anchor="end" fill="#1a1a1a" stroke="#1a1a1a" stroke-width="0.15">CD33<tspan font-size="5" dy="-2.4">+</tspan></text>
<rect x="229.65" y="407.40" width="15.80" height="2.30" fill="#26828E" stroke="#333" stroke-width="0.6" rx="0.4" />
<line x1="231.05" y1="408.55" x2="244.05" y2="408.55" stroke="#fff" stroke-width="0.5" stroke-opacity="0.35"/>
<text x="237.55" y="418.30" font-size="8" text-anchor="middle" fill="#1a1a1a" stroke="#1a1a1a" stroke-width="0.12" >6</text>
<line x1="253.84" y1="376.20" x2="253.84" y2="377.70" stroke="#666" stroke-width="0.7" />
<rect x="251.44" y="371.20" width="4.80" height="5.00" fill="#ffffff" stroke="#333" stroke-width="0.6" rx="1.4" />
<circle cx="253.84" cy="374.55" r="1.65" fill="#fff" stroke="#444" stroke-width="0.6"/>
<text transform="translate(256.60,382.20) rotate(-90)" font-size="8.0" text-anchor="end" fill="#1a1a1a" stroke="#1a1a1a" stroke-width="0.15">CD19<tspan font-size="5" dy="-2.4">+</tspan></text>
<line x1="262.34" y1="376.20" x2="262.34" y2="377.70" stroke="#666" stroke-width="0.7" />
<rect x="259.94" y="351.30" width="4.80" height="20.60" fill="#31688E" stroke="#333" stroke-width="0.6" rx="1.4" />
<circle cx="262.34" cy="370.25" r="1.65" fill="#111" stroke="#111" stroke-width="0.6"/>
<path d="M260.69,354.57L263.99,354.57L262.34,351.60Z" fill="#111" stroke="#111" stroke-width="0.6"/>
<rect x="260.94" y="361.20" width="2.80" height="2.80" fill="#111" stroke="#111" stroke-width="0.6" rx="0" />
<text transform="translate(265.10,382.20) rotate(-90)" font-size="8.0" text-anchor="end" fill="#1a1a1a" stroke="#1a1a1a" stroke-width="0.15">CD33<tspan font-size="5" dy="-2.4">+</tspan></text>
<rect x="250.19" y="407.40" width="15.80" height="2.30" fill="#31688E" stroke="#333" stroke-width="0.6" rx="0.4" />
<line x1="251.59" y1="408.55" x2="264.59" y2="408.55" stroke="#fff" stroke-width="0.5" stroke-opacity="0.35"/>
<text x="258.09" y="418.30" font-size="8" text-anchor="middle" fill="#1a1a1a" stroke="#1a1a1a" stroke-width="0.12" >7</text>
<line x1="274.38" y1="376.20" x2="274.38" y2="377.70" stroke="#666" stroke-width="0.7" />
<rect x="271.98" y="360.30" width="4.80" height="14.80" fill="#3E4A89" stroke="#333" stroke-width="0.6" rx="1.4" />
<circle cx="274.38" cy="373.45" r="1.65" fill="#fff" stroke="#444" stroke-width="0.6"/>
<path d="M274.38,360.60L276.03,362.25L274.38,363.90L272.73,362.25Z" fill="#fff" stroke="#444" stroke-width="0.6"/>
<rect x="272.98" y="367.30" width="2.80" height="2.80" fill="#fff" stroke="#444" stroke-width="0.6" rx="0" />
<text transform="translate(277.14,382.20) rotate(-90)" font-size="8.0" text-anchor="end" fill="#1a1a1a" stroke="#1a1a1a" stroke-width="0.15">CD19<tspan font-size="5" dy="-2.4">+</tspan></text>
<line x1="282.88" y1="376.20" x2="282.88" y2="377.70" stroke="#666" stroke-width="0.7" />
<rect x="280.48" y="349.50" width="4.80" height="24.90" fill="#3E4A89" stroke="#333" stroke-width="0.6" rx="1.4" />
<circle cx="282.88" cy="372.75" r="1.65" fill="#111" stroke="#111" stroke-width="0.6"/>
<path d="M281.23,352.77L284.53,352.77L282.88,349.80Z" fill="#111" stroke="#111" stroke-width="0.6"/>
<rect x="281.48" y="361.55" width="2.80" height="2.80" fill="#111" stroke="#111" stroke-width="0.6" rx="0" />
<text transform="translate(285.64,382.20) rotate(-90)" font-size="8.0" text-anchor="end" fill="#1a1a1a" stroke="#1a1a1a" stroke-width="0.15">CD33<tspan font-size="5" dy="-2.4">+</tspan></text>
<rect x="270.73" y="407.40" width="15.80" height="2.30" fill="#3E4A89" stroke="#333" stroke-width="0.6" rx="0.4" />
<line x1="272.13" y1="408.55" x2="285.13" y2="408.55" stroke="#fff" stroke-width="0.5" stroke-opacity="0.35"/>
<text x="278.63" y="418.30" font-size="8" text-anchor="middle" fill="#1a1a1a" stroke="#1a1a1a" stroke-width="0.12" >8</text>
<line x1="294.92" y1="376.20" x2="294.92" y2="377.70" stroke="#666" stroke-width="0.7" />
<rect x="292.52" y="362.30" width="4.80" height="14.80" fill="#482878" stroke="#333" stroke-width="0.6" rx="1.4" />
<circle cx="294.92" cy="375.45" r="1.65" fill="#fff" stroke="#444" stroke-width="0.6"/>
<path d="M294.92,362.60L296.57,364.25L294.92,365.90L293.27,364.25Z" fill="#fff" stroke="#444" stroke-width="0.6"/>
<rect x="293.52" y="369.30" width="2.80" height="2.80" fill="#fff" stroke="#444" stroke-width="0.6" rx="0" />
<text transform="translate(297.68,382.20) rotate(-90)" font-size="8.0" text-anchor="end" fill="#1a1a1a" stroke="#1a1a1a" stroke-width="0.15">CD19<tspan font-size="5" dy="-2.4">+</tspan></text>
<line x1="303.42" y1="376.20" x2="303.42" y2="377.70" stroke="#666" stroke-width="0.7" />
<rect x="301.02" y="369.70" width="4.80" height="7.70" fill="#111111" stroke="#333" stroke-width="0.6" rx="1.4" />
<circle cx="303.42" cy="375.75" r="1.65" fill="#111" stroke="#111" stroke-width="0.6"/>
<text transform="translate(306.18,382.20) rotate(-90)" font-size="8.0" text-anchor="end" fill="#1a1a1a" stroke="#1a1a1a" stroke-width="0.15">CD33<tspan font-size="5" dy="-2.4">+</tspan></text>
<rect x="291.27" y="407.40" width="15.80" height="2.30" fill="#482878" stroke="#333" stroke-width="0.6" rx="0.4" />
<line x1="292.67" y1="408.55" x2="305.67" y2="408.55" stroke="#fff" stroke-width="0.5" stroke-opacity="0.35"/>
<text x="299.17" y="418.30" font-size="8" text-anchor="middle" fill="#1a1a1a" stroke="#1a1a1a" stroke-width="0.12" >9</text>
<line x1="315.46" y1="376.20" x2="315.46" y2="377.70" stroke="#666" stroke-width="0.7" />
<rect x="313.06" y="358.90" width="4.80" height="18.20" fill="#440154" stroke="#333" stroke-width="0.6" rx="1.4" />
<circle cx="315.46" cy="375.45" r="1.65" fill="#fff" stroke="#444" stroke-width="0.6"/>
<path d="M315.46,359.20L317.11,360.85L315.46,362.50L313.81,360.85Z" fill="#fff" stroke="#444" stroke-width="0.6"/>
<rect x="314.06" y="367.60" width="2.80" height="2.80" fill="#fff" stroke="#444" stroke-width="0.6" rx="0" />
<text transform="translate(318.22,382.20) rotate(-90)" font-size="8.0" text-anchor="end" fill="#1a1a1a" stroke="#1a1a1a" stroke-width="0.15">CD19<tspan font-size="5" dy="-2.4">+</tspan></text>
<line x1="323.96" y1="376.20" x2="323.96" y2="377.70" stroke="#666" stroke-width="0.7" />
<rect x="321.56" y="370.10" width="4.80" height="7.00" fill="#111111" stroke="#333" stroke-width="0.6" rx="1.4" />
<circle cx="323.96" cy="375.45" r="1.65" fill="#111" stroke="#111" stroke-width="0.6"/>
<text transform="translate(326.72,382.20) rotate(-90)" font-size="8.0" text-anchor="end" fill="#1a1a1a" stroke="#1a1a1a" stroke-width="0.15">CD33<tspan font-size="5" dy="-2.4">+</tspan></text>
<rect x="311.81" y="407.40" width="15.80" height="2.30" fill="#440154" stroke="#333" stroke-width="0.6" rx="0.4" />
<line x1="313.21" y1="408.55" x2="326.21" y2="408.55" stroke="#fff" stroke-width="0.5" stroke-opacity="0.35"/>
<text x="319.71" y="418.30" font-size="8" text-anchor="middle" fill="#1a1a1a" stroke="#1a1a1a" stroke-width="0.12" >10</text>
<path d="M212.6,371.3L212.6,316.7L221.7,316.7L221.7,321.3" fill="none" stroke="#444" stroke-width="0.9"/>
<text x="217.40" y="316.40" font-size="8.5" text-anchor="middle" fill="#111" stroke="#111" stroke-width="0.2" >*</text>
<path d="M233.1,372.0L233.1,346.2L241.5,346.2L241.5,351.3" fill="none" stroke="#444" stroke-width="0.9"/>
<text x="237.30" y="345.40" font-size="8.5" text-anchor="middle" fill="#111" stroke="#111" stroke-width="0.2" >*</text>
<path d="M253.5,370.0L253.5,342.8L262.0,342.8L262.0,349.0" fill="none" stroke="#444" stroke-width="0.9"/>
<text x="258.20" y="342.00" font-size="8.5" text-anchor="middle" fill="#111" stroke="#111" stroke-width="0.2" >*</text>
<text x="349.80" y="288.80" font-size="11" text-anchor="start" fill="#000" font-weight="bold" >F</text>
<text x="370.80" y="307.90" font-size="7.8" text-anchor="start" fill="#1a1a1a" stroke="#1a1a1a" stroke-width="0.12" >N-terminal</text>
<text x="413.50" y="307.90" font-size="7.8" text-anchor="start" fill="#1a1a1a" stroke="#1a1a1a" stroke-width="0.12" >Central</text>
<text x="441.20" y="307.90" font-size="7.8" text-anchor="start" fill="#1a1a1a" stroke="#1a1a1a" stroke-width="0.12" >C-terminal</text>
<line x1="386.50" y1="311.40" x2="406.80" y2="311.40" stroke="#666" stroke-width="1.1" />
<line x1="414.70" y1="311.40" x2="435.40" y2="311.40" stroke="#666" stroke-width="1.1" />
<line x1="441.20" y1="311.40" x2="462.00" y2="311.40" stroke="#666" stroke-width="1.1" />
<line x1="385.50" y1="320.72" x2="385.50" y2="383.60" stroke="#666" stroke-width="0.8" />
<line x1="383.90" y1="383.60" x2="385.50" y2="383.60" stroke="#666" stroke-width="0.8" />
<text x="381.30" y="386.20" font-size="7.5" text-anchor="end" fill="#1a1a1a" stroke="#1a1a1a" stroke-width="0.12" >0</text>
<line x1="383.90" y1="367.88" x2="385.50" y2="367.88" stroke="#666" stroke-width="0.8" />
<text x="381.30" y="370.48" font-size="7.5" text-anchor="end" fill="#1a1a1a" stroke="#1a1a1a" stroke-width="0.12" >10</text>
<line x1="383.90" y1="352.16" x2="385.50" y2="352.16" stroke="#666" stroke-width="0.8" />
<text x="381.30" y="354.76" font-size="7.5" text-anchor="end" fill="#1a1a1a" stroke="#1a1a1a" stroke-width="0.12" >20</text>
<line x1="383.90" y1="336.44" x2="385.50" y2="336.44" stroke="#666" stroke-width="0.8" />
<text x="381.30" y="339.04" font-size="7.5" text-anchor="end" fill="#1a1a1a" stroke="#1a1a1a" stroke-width="0.12" >30</text>
<line x1="383.90" y1="320.72" x2="385.50" y2="320.72" stroke="#666" stroke-width="0.8" />
<text x="381.30" y="323.32" font-size="7.5" text-anchor="end" fill="#1a1a1a" stroke="#1a1a1a" stroke-width="0.12" >40</text>
<line x1="385.50" y1="383.60" x2="466.50" y2="383.60" stroke="#666" stroke-width="0.8" />
<line x1="412.10" y1="314.50" x2="412.10" y2="383.10" stroke="#e2e2e2" stroke-width="0.7" />
<line x1="438.90" y1="314.50" x2="438.90" y2="383.10" stroke="#e2e2e2" stroke-width="0.7" />
<text transform="translate(366.85,352.20) rotate(-90)" font-size="7.9" text-anchor="middle" fill="#1a1a1a" stroke="#1a1a1a" stroke-width="0.15">Frameshift (%)</text>
<rect x="388.00" y="370.70" width="9.50" height="12.20" fill="#B4DE2C" stroke="#333" stroke-width="0.7" rx="0.8" />
<line x1="391.00" y1="383.60" x2="391.00" y2="385.20" stroke="#666" stroke-width="0.7" />
<text transform="translate(395.69,389.20) rotate(-90)" font-size="7.8" text-anchor="end" fill="#1a1a1a" stroke="#1a1a1a" stroke-width="0.15">CD19<tspan font-size="5" dy="-2.4">+</tspan></text>
<rect x="400.00" y="373.90" width="8.60" height="9.00" fill="#B4DE2C" stroke="#333" stroke-width="0.7" rx="0.8" />
<line x1="402.20" y1="383.60" x2="402.20" y2="385.20" stroke="#666" stroke-width="0.7" />
<text transform="translate(406.89,389.20) rotate(-90)" font-size="7.8" text-anchor="end" fill="#1a1a1a" stroke="#1a1a1a" stroke-width="0.15">CD33<tspan font-size="5" dy="-2.4">+</tspan></text>
<rect x="415.40" y="365.40" width="9.20" height="14.20" fill="#23A08A" stroke="#333" stroke-width="0.7" rx="0.8" />
<line x1="417.40" y1="383.60" x2="417.40" y2="385.20" stroke="#666" stroke-width="0.7" />
<text transform="translate(422.09,389.20) rotate(-90)" font-size="7.8" text-anchor="end" fill="#1a1a1a" stroke="#1a1a1a" stroke-width="0.15">CD19<tspan font-size="5" dy="-2.4">+</tspan></text>
<rect x="427.30" y="332.00" width="9.00" height="41.60" fill="#23A08A" stroke="#333" stroke-width="0.7" rx="0.8" />
<line x1="429.00" y1="383.60" x2="429.00" y2="385.20" stroke="#666" stroke-width="0.7" />
<text transform="translate(433.69,389.20) rotate(-90)" font-size="7.8" text-anchor="end" fill="#1a1a1a" stroke="#1a1a1a" stroke-width="0.15">CD33<tspan font-size="5" dy="-2.4">+</tspan></text>
<rect x="442.90" y="357.00" width="8.90" height="22.30" fill="#4A0C62" stroke="#333" stroke-width="0.7" rx="0.8" />
<line x1="444.60" y1="383.60" x2="444.60" y2="385.20" stroke="#666" stroke-width="0.7" />
<text transform="translate(449.29,389.20) rotate(-90)" font-size="7.8" text-anchor="end" fill="#1a1a1a" stroke="#1a1a1a" stroke-width="0.15">CD19<tspan font-size="5" dy="-2.4">+</tspan></text>
<rect x="454.60" y="359.60" width="9.00" height="21.80" fill="#44085A" stroke="#333" stroke-width="0.7" rx="0.8" />
<line x1="456.70" y1="383.60" x2="456.70" y2="385.20" stroke="#666" stroke-width="0.7" />
<text transform="translate(461.39,389.20) rotate(-90)" font-size="7.8" text-anchor="end" fill="#1a1a1a" stroke="#1a1a1a" stroke-width="0.15">CD33<tspan font-size="5" dy="-2.4">+</tspan></text>
<circle cx="392.50" cy="373.00" r="1.70" fill="#fff" stroke="#444" stroke-width="0.6"/>
<rect x="388.10" y="376.30" width="3.40" height="3.40" fill="#fff" stroke="#444" stroke-width="0.6" rx="0" />
<path d="M393.50,377.14L396.90,377.14L395.20,380.20Z" fill="#fff" stroke="#444" stroke-width="0.6"/>
<path d="M390.80,382.36L394.20,382.36L392.50,379.30Z" fill="#fff" stroke="#444" stroke-width="0.6"/>
<path d="M395.50,371.80L397.20,373.50L395.50,375.20L393.80,373.50Z" fill="#fff" stroke="#444" stroke-width="0.6"/>
<circle cx="406.00" cy="376.00" r="1.70" fill="#111" stroke="#111" stroke-width="0.6"/>
<rect x="400.30" y="377.80" width="3.40" height="3.40" fill="#111" stroke="#111" stroke-width="0.6" rx="0" />
<path d="M402.80,379.14L406.20,379.14L404.50,382.20Z" fill="#111" stroke="#111" stroke-width="0.6"/>
<path d="M399.80,377.86L403.20,377.86L401.50,374.80Z" fill="#111" stroke="#111" stroke-width="0.6"/>
<path d="M406.50,379.30L408.20,381.00L406.50,382.70L404.80,381.00Z" fill="#111" stroke="#111" stroke-width="0.6"/>
<circle cx="420.00" cy="366.80" r="1.70" fill="#fff" stroke="#444" stroke-width="0.6"/>
<rect x="415.80" y="376.30" width="3.40" height="3.40" fill="#fff" stroke="#444" stroke-width="0.6" rx="0" />
<path d="M419.30,376.84L422.70,376.84L421.00,379.90Z" fill="#fff" stroke="#444" stroke-width="0.6"/>
<path d="M421.30,379.36L424.70,379.36L423.00,376.30Z" fill="#fff" stroke="#444" stroke-width="0.6"/>
<path d="M418.00,375.30L419.70,377.00L418.00,378.70L416.30,377.00Z" fill="#fff" stroke="#444" stroke-width="0.6"/>
<circle cx="431.80" cy="372.20" r="1.70" fill="#111" stroke="#111" stroke-width="0.6"/>
<rect x="429.30" y="365.90" width="3.40" height="3.40" fill="#111" stroke="#111" stroke-width="0.6" rx="0" />
<path d="M430.10,332.24L433.50,332.24L431.80,335.30Z" fill="#111" stroke="#111" stroke-width="0.6"/>
<path d="M427.30,349.86L430.70,349.86L429.00,346.80Z" fill="#111" stroke="#111" stroke-width="0.6"/>
<path d="M434.60,346.30L436.30,348.00L434.60,349.70L432.90,348.00Z" fill="#111" stroke="#111" stroke-width="0.6"/>
<circle cx="446.80" cy="378.00" r="1.70" fill="#fff" stroke="#444" stroke-width="0.6"/>
<rect x="448.30" y="370.30" width="3.40" height="3.40" fill="#fff" stroke="#444" stroke-width="0.6" rx="0" />
<path d="M446.30,357.14L449.70,357.14L448.00,360.20Z" fill="#fff" stroke="#444" stroke-width="0.6"/>
<path d="M444.30,368.36L447.70,368.36L446.00,365.30Z" fill="#fff" stroke="#444" stroke-width="0.6"/>
<path d="M444.50,370.30L446.20,372.00L444.50,373.70L442.80,372.00Z" fill="#fff" stroke="#444" stroke-width="0.6"/>
<circle cx="458.60" cy="380.00" r="1.70" fill="#111" stroke="#111" stroke-width="0.6"/>
<rect x="455.30" y="363.30" width="3.40" height="3.40" fill="#111" stroke="#111" stroke-width="0.6" rx="0" />
<path d="M459.30,359.64L462.70,359.64L461.00,362.70Z" fill="#111" stroke="#111" stroke-width="0.6"/>
<path d="M456.30,371.36L459.70,371.36L458.00,368.30Z" fill="#111" stroke="#111" stroke-width="0.6"/>
<path d="M460.50,373.30L462.20,375.00L460.50,376.70L458.80,375.00Z" fill="#111" stroke="#111" stroke-width="0.6"/>
<line x1="427.30" y1="353.40" x2="436.30" y2="353.40" stroke="#333" stroke-width="0.6" />
<path d="M420.2,359.6L420.2,321.3L431.8,321.3L431.8,326.6" fill="none" stroke="#333" stroke-width="0.9"/>
<text x="426.10" y="321.10" font-size="8.5" text-anchor="middle" fill="#111" stroke="#111" stroke-width="0.2" >*</text>
<text transform="translate(497.26,329.50) rotate(-90)" font-size="8.3" text-anchor="start" fill="#1a1a1a" stroke="#1a1a1a" stroke-width="0.15">CD19<tspan font-size="5.2" dy="-2.6">+</tspan></text>
<text transform="translate(507.16,329.50) rotate(-90)" font-size="8.3" text-anchor="start" fill="#1a1a1a" stroke="#1a1a1a" stroke-width="0.15">CD33<tspan font-size="5.2" dy="-2.6">+</tspan></text>
<text x="478.60" y="340.20" font-size="7.8" text-anchor="start" fill="#1a1a1a" stroke="#1a1a1a" stroke-width="0.12" >#1</text>
<circle cx="494.40" cy="337.50" r="1.95" fill="#fff" stroke="#333" stroke-width="0.7"/>
<circle cx="504.30" cy="337.50" r="1.95" fill="#111" stroke="#111" stroke-width="0.6"/>
<text x="478.60" y="349.00" font-size="7.8" text-anchor="start" fill="#1a1a1a" stroke="#1a1a1a" stroke-width="0.12" >#2</text>
<rect x="492.65" y="344.55" width="3.50" height="3.50" fill="#fff" stroke="#333" stroke-width="0.7" rx="0" />
<rect x="502.55" y="344.55" width="3.50" height="3.50" fill="#111" stroke="#111" stroke-width="0.6" rx="0" />
<text x="478.60" y="358.30" font-size="7.8" text-anchor="start" fill="#1a1a1a" stroke="#1a1a1a" stroke-width="0.12" >#3</text>
<path d="M492.45,354.04L496.35,354.04L494.40,357.55Z" fill="#fff" stroke="#333" stroke-width="0.7"/>
<path d="M502.35,354.04L506.25,354.04L504.30,357.55Z" fill="#111" stroke="#111" stroke-width="0.6"/>
<text x="478.60" y="367.50" font-size="7.8" text-anchor="start" fill="#1a1a1a" stroke="#1a1a1a" stroke-width="0.12" >#4</text>
<path d="M492.45,366.36L496.35,366.36L494.40,362.85Z" fill="#fff" stroke="#333" stroke-width="0.7"/>
<path d="M502.35,366.36L506.25,366.36L504.30,362.85Z" fill="#111" stroke="#111" stroke-width="0.6"/>
<text x="478.60" y="376.00" font-size="7.8" text-anchor="start" fill="#1a1a1a" stroke="#1a1a1a" stroke-width="0.12" >#5</text>
<path d="M494.40,371.35L496.35,373.30L494.40,375.25L492.45,373.30Z" fill="#fff" stroke="#333" stroke-width="0.7"/>
<path d="M504.30,371.35L506.25,373.30L504.30,375.25L502.35,373.30Z" fill="#111" stroke="#111" stroke-width="0.6"/>
</svg>
</body></html>
